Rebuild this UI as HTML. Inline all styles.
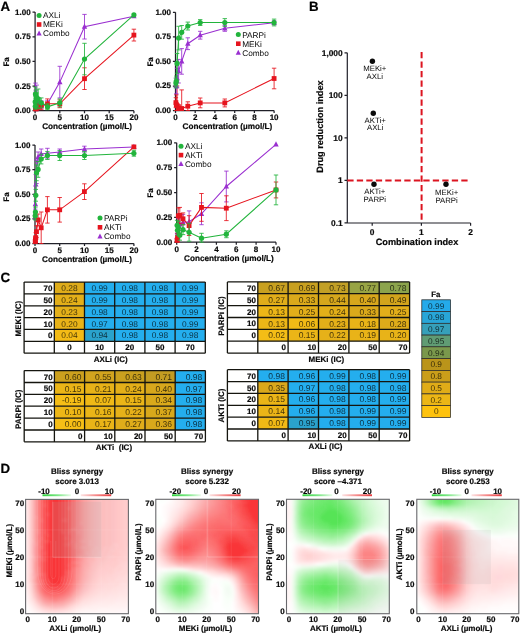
<!DOCTYPE html>
<html lang="en">
<head>
<meta charset="utf-8">
<title>Figure: drug combination synergy</title>
<style>
html,body{margin:0;padding:0;background:#fff;}
body{width:520px;height:635px;overflow:hidden;}
svg{display:block;font-family:"Liberation Sans",Arial,Helvetica,sans-serif;text-rendering:geometricPrecision;filter:blur(0.35px);}
</style>
</head>
<body>
<svg width="520" height="635" viewBox="0 0 520 635" fill="#0a0a0a">
<defs>
<filter id="hblur" x="-10%" y="-10%" width="120%" height="120%"><feGaussianBlur stdDeviation="1.6"/></filter>
<clipPath id="hc1"><rect x="25.6" y="499.4" width="102.8" height="114.3"/></clipPath>
<linearGradient id="cbg1"><stop offset="0" stop-color="#2fd23c"/><stop offset="0.55" stop-color="#7fe888"/><stop offset="1" stop-color="#e8fbe8"/></linearGradient>
<linearGradient id="cbr1"><stop offset="0" stop-color="#fde4e4"/><stop offset="0.5" stop-color="#f58a8a"/><stop offset="1" stop-color="#e83a3e"/></linearGradient>
<clipPath id="hc2"><rect x="155.8" y="499.3" width="102.7" height="114.4"/></clipPath>
<linearGradient id="cbg2"><stop offset="0" stop-color="#2fd23c"/><stop offset="0.55" stop-color="#7fe888"/><stop offset="1" stop-color="#e8fbe8"/></linearGradient>
<linearGradient id="cbr2"><stop offset="0" stop-color="#fde4e4"/><stop offset="0.5" stop-color="#f58a8a"/><stop offset="1" stop-color="#e83a3e"/></linearGradient>
<clipPath id="hc3"><rect x="286.5" y="499.3" width="102.8" height="114.4"/></clipPath>
<linearGradient id="cbg3"><stop offset="0" stop-color="#2fd23c"/><stop offset="0.55" stop-color="#7fe888"/><stop offset="1" stop-color="#e8fbe8"/></linearGradient>
<linearGradient id="cbr3"><stop offset="0" stop-color="#fde4e4"/><stop offset="0.5" stop-color="#f58a8a"/><stop offset="1" stop-color="#e83a3e"/></linearGradient>
<clipPath id="hc4"><rect x="416.8" y="499.3" width="102" height="114.4"/></clipPath>
<linearGradient id="cbg4"><stop offset="0" stop-color="#2fd23c"/><stop offset="0.55" stop-color="#7fe888"/><stop offset="1" stop-color="#e8fbe8"/></linearGradient>
<linearGradient id="cbr4"><stop offset="0" stop-color="#fde4e4"/><stop offset="0.5" stop-color="#f58a8a"/><stop offset="1" stop-color="#e83a3e"/></linearGradient>
</defs>
<rect width="520" height="635" fill="#fff"/>
<g>
<path d="M35.1 12.1V110.7H133.9M35.1 110.7h-2.6M35.1 86.1h-2.6M35.1 61.4h-2.6M35.1 36.8h-2.6M35.1 12.1h-2.6M35.1 110.7v2.6M59.8 110.7v2.6M84.5 110.7v2.6M109.2 110.7v2.6M133.9 110.7v2.6" fill="none" stroke="#202028" stroke-width="1.25"/>
<path d="M35.5 93L35.9 98.9L36.6 100.8L38.2 102.8L41.3 104.8L47.5 103.8L59.8 82.1L84.5 26.7L133.9 16.2" fill="none" stroke="#9a2fd0" stroke-width="1.05"/>
<path d="M35.5 83.1V102.8M33.3 83.1h4.4M33.3 102.8h4.4M35.9 91V106.8M33.7 91h4.4M33.7 106.8h4.4M36.6 85.1V110.7M34.4 85.1h4.4M34.4 110.7h4.4M38.2 97.9V107.7M36 97.9h4.4M36 107.7h4.4M41.3 100.8V108.7M39.1 100.8h4.4M39.1 108.7h4.4M47.5 100.8V106.8M45.2 100.8h4.4M45.2 106.8h4.4M59.8 66.3V97.9M57.6 66.3h4.4M57.6 97.9h4.4M84.5 14.4V39M82.3 14.4h4.4M82.3 39h4.4" fill="none" stroke="#9a2fd0" stroke-width="0.85"/>
<path d="M35.5 89.9L38.2 95.1L32.8 95.1Z" fill="#9a2fd0"/>
<path d="M35.9 95.8L38.6 101L33.2 101Z" fill="#9a2fd0"/>
<path d="M36.6 97.7L39.3 102.9L33.9 102.9Z" fill="#9a2fd0"/>
<path d="M38.2 99.7L40.9 104.9L35.5 104.9Z" fill="#9a2fd0"/>
<path d="M41.3 101.7L44 106.9L38.6 106.9Z" fill="#9a2fd0"/>
<path d="M47.5 100.7L50.2 105.9L44.8 105.9Z" fill="#9a2fd0"/>
<path d="M59.8 79L62.5 84.2L57.1 84.2Z" fill="#9a2fd0"/>
<path d="M84.5 23.6L87.2 28.8L81.8 28.8Z" fill="#9a2fd0"/>
<path d="M133.9 13.1L136.6 18.3L131.2 18.3Z" fill="#9a2fd0"/>
<path d="M35.5 108.7L35.9 107.7L36.6 107.7L38.2 106.8L41.3 105.8L47.5 103.8L59.8 103.8L84.5 78.7L133.9 35.1" fill="none" stroke="#e6141e" stroke-width="1.05"/>
<path d="M35.5 106.8V110.7M33.3 106.8h4.4M33.3 110.7h4.4M35.9 105.8V109.7M33.7 105.8h4.4M33.7 109.7h4.4M36.6 104.8V110.7M34.4 104.8h4.4M34.4 110.7h4.4M38.2 103.8V109.7M36 103.8h4.4M36 109.7h4.4M41.3 101.8V109.7M39.1 101.8h4.4M39.1 109.7h4.4M47.5 98.9V108.7M45.2 98.9h4.4M45.2 108.7h4.4M59.8 99.9V107.7M57.6 99.9h4.4M57.6 107.7h4.4M84.5 67.8V89.5M82.3 67.8h4.4M82.3 89.5h4.4M133.9 29.2V41M131.7 29.2h4.4M131.7 41h4.4" fill="none" stroke="#e6141e" stroke-width="0.85"/>
<rect x="33.1" y="106.3" width="4.8" height="4.8" fill="#e6141e"/>
<rect x="33.5" y="105.3" width="4.8" height="4.8" fill="#e6141e"/>
<rect x="34.2" y="105.3" width="4.8" height="4.8" fill="#e6141e"/>
<rect x="35.8" y="104.4" width="4.8" height="4.8" fill="#e6141e"/>
<rect x="38.9" y="103.4" width="4.8" height="4.8" fill="#e6141e"/>
<rect x="45.1" y="101.4" width="4.8" height="4.8" fill="#e6141e"/>
<rect x="57.4" y="101.4" width="4.8" height="4.8" fill="#e6141e"/>
<rect x="82.1" y="76.3" width="4.8" height="4.8" fill="#e6141e"/>
<rect x="131.5" y="32.7" width="4.8" height="4.8" fill="#e6141e"/>
<path d="M35.2 101.8L35.3 106.3L35.5 93.9L35.9 95.9L36.6 97.9L38.2 98.9L41.3 102.8L47.5 106.8L59.8 102.8L84.5 59L133.9 14.9" fill="none" stroke="#22b43c" stroke-width="1.05"/>
<path d="M35.2 98.9V104.8M33 98.9h4.4M33 104.8h4.4M35.3 103.3V109.2M33.1 103.3h4.4M33.1 109.2h4.4M35.5 87V100.8M33.3 87h4.4M33.3 100.8h4.4M35.9 90V101.8M33.7 90h4.4M33.7 101.8h4.4M36.6 93V102.8M34.4 93h4.4M34.4 102.8h4.4M38.2 89V108.7M36 89h4.4M36 108.7h4.4M41.3 97.9V107.7M39.1 97.9h4.4M39.1 107.7h4.4M47.5 103.8V109.7M45.2 103.8h4.4M45.2 109.7h4.4M59.8 98.9V106.8M57.6 98.9h4.4M57.6 106.8h4.4M84.5 43.3V74.8M82.3 43.3h4.4M82.3 74.8h4.4" fill="none" stroke="#22b43c" stroke-width="0.85"/>
<circle cx="35.2" cy="101.8" r="2.6" fill="#22b43c"/>
<circle cx="35.3" cy="106.3" r="2.6" fill="#22b43c"/>
<circle cx="35.5" cy="93.9" r="2.6" fill="#22b43c"/>
<circle cx="35.9" cy="95.9" r="2.6" fill="#22b43c"/>
<circle cx="36.6" cy="97.9" r="2.6" fill="#22b43c"/>
<circle cx="38.2" cy="98.9" r="2.6" fill="#22b43c"/>
<circle cx="41.3" cy="102.8" r="2.6" fill="#22b43c"/>
<circle cx="47.5" cy="106.8" r="2.6" fill="#22b43c"/>
<circle cx="59.8" cy="102.8" r="2.6" fill="#22b43c"/>
<circle cx="84.5" cy="59" r="2.6" fill="#22b43c"/>
<circle cx="133.9" cy="14.9" r="2.6" fill="#22b43c"/>
<text x="30.6" y="113.2" font-size="8" text-anchor="end" font-weight="bold" stroke="#000" stroke-width="0.18">0.00</text>
<text x="30.6" y="88.5" font-size="8" text-anchor="end" font-weight="bold" stroke="#000" stroke-width="0.18">0.25</text>
<text x="30.6" y="63.9" font-size="8" text-anchor="end" font-weight="bold" stroke="#000" stroke-width="0.18">0.50</text>
<text x="30.6" y="39.2" font-size="8" text-anchor="end" font-weight="bold" stroke="#000" stroke-width="0.18">0.75</text>
<text x="30.6" y="14.6" font-size="8" text-anchor="end" font-weight="bold" stroke="#000" stroke-width="0.18">1.00</text>
<text x="35.1" y="120.3" font-size="8" text-anchor="middle" font-weight="bold" stroke="#000" stroke-width="0.18">0</text>
<text x="59.8" y="120.3" font-size="8" text-anchor="middle" font-weight="bold" stroke="#000" stroke-width="0.18">5</text>
<text x="84.5" y="120.3" font-size="8" text-anchor="middle" font-weight="bold" stroke="#000" stroke-width="0.18">10</text>
<text x="109.2" y="120.3" font-size="8" text-anchor="middle" font-weight="bold" stroke="#000" stroke-width="0.18">15</text>
<text x="133.9" y="120.3" font-size="8" text-anchor="middle" font-weight="bold" stroke="#000" stroke-width="0.18">20</text>
<text x="87.1" y="129.3" font-size="8.2" text-anchor="middle" font-weight="bold" stroke="#000" stroke-width="0.18">Concentration (µmol/L)</text>
<text x="8.8" y="61.9" font-size="8" text-anchor="middle" font-weight="bold" stroke="#000" stroke-width="0.18" transform="rotate(-90 8.8 61.9)">Fa</text>
<circle cx="39.1" cy="15.5" r="2.5" fill="#22b43c"/>
<text x="43" y="18.4" font-size="8.25">AXLi</text>
<rect x="36.8" y="22.2" width="4.6" height="4.6" fill="#e6141e"/>
<text x="43" y="27.4" font-size="8.25">MEKi</text>
<path d="M39.1 30.5L41.7 35.5L36.5 35.5Z" fill="#9a2fd0"/>
<text x="43" y="36.4" font-size="8.25">Combo</text>
</g>
<g>
<path d="M175.5 12.3V110.5H274.1M175.5 110.5h-2.6M175.5 86h-2.6M175.5 61.4h-2.6M175.5 36.8h-2.6M175.5 12.3h-2.6M175.5 110.5v2.6M195.2 110.5v2.6M214.9 110.5v2.6M234.7 110.5v2.6M254.4 110.5v2.6M274.1 110.5v2.6" fill="none" stroke="#202028" stroke-width="1.25"/>
<path d="M175.9 102.6L176.3 104.6L177.1 105.6L178.6 107.6L181.7 108.5L187.8 106.2L200.2 102.9L224.8 102.9L274.1 78.5" fill="none" stroke="#e6141e" stroke-width="1.05"/>
<path d="M175.9 97.7V107.6M173.7 97.7h4.4M173.7 107.6h4.4M176.3 94.8V110.5M174.1 94.8h4.4M174.1 110.5h4.4M177.1 86V110.5M174.9 86h4.4M174.9 110.5h4.4M178.6 104.6V110.5M176.4 104.6h4.4M176.4 110.5h4.4M181.7 89.9V110.5M179.5 89.9h4.4M179.5 110.5h4.4M187.8 101.8V110.5M185.6 101.8h4.4M185.6 110.5h4.4M200.2 98V107.8M198 98h4.4M198 107.8h4.4M224.8 99V106.9M222.6 99h4.4M222.6 106.9h4.4M274.1 68.2V88.8M271.9 68.2h4.4M271.9 88.8h4.4" fill="none" stroke="#e6141e" stroke-width="0.85"/>
<rect x="173.5" y="100.2" width="4.8" height="4.8" fill="#e6141e"/>
<rect x="173.9" y="102.2" width="4.8" height="4.8" fill="#e6141e"/>
<rect x="174.7" y="103.2" width="4.8" height="4.8" fill="#e6141e"/>
<rect x="176.2" y="105.2" width="4.8" height="4.8" fill="#e6141e"/>
<rect x="179.3" y="106.1" width="4.8" height="4.8" fill="#e6141e"/>
<rect x="185.4" y="103.8" width="4.8" height="4.8" fill="#e6141e"/>
<rect x="197.8" y="100.5" width="4.8" height="4.8" fill="#e6141e"/>
<rect x="222.4" y="100.5" width="4.8" height="4.8" fill="#e6141e"/>
<rect x="271.7" y="76.1" width="4.8" height="4.8" fill="#e6141e"/>
<path d="M176.3 86L177.1 78.1L178.6 71.2L181.7 61.4L187.8 43.7L200.2 35.2L224.8 28.3L274.1 22.8" fill="none" stroke="#9a2fd0" stroke-width="1.05"/>
<path d="M176.3 78.1V93.8M174.1 78.1h4.4M174.1 93.8h4.4M177.1 68.3V87.9M174.9 68.3h4.4M174.9 87.9h4.4M178.6 59.4V83M176.4 59.4h4.4M176.4 83h4.4M181.7 48.6V74.2M179.5 48.6h4.4M179.5 74.2h4.4M187.8 37.8V49.6M185.6 37.8h4.4M185.6 49.6h4.4M200.2 31.3V39.1M198 31.3h4.4M198 39.1h4.4M224.8 25.4V31.3M222.6 25.4h4.4M222.6 31.3h4.4M274.1 20.8V24.8M271.9 20.8h4.4M271.9 24.8h4.4" fill="none" stroke="#9a2fd0" stroke-width="0.85"/>
<path d="M176.3 82.8L179 88.1L173.6 88.1Z" fill="#9a2fd0"/>
<path d="M177.1 75L179.8 80.2L174.4 80.2Z" fill="#9a2fd0"/>
<path d="M178.6 68.1L181.3 73.3L175.9 73.3Z" fill="#9a2fd0"/>
<path d="M181.7 58.3L184.4 63.5L179 63.5Z" fill="#9a2fd0"/>
<path d="M187.8 40.6L190.5 45.8L185.1 45.8Z" fill="#9a2fd0"/>
<path d="M200.2 32.1L202.8 37.3L197.5 37.3Z" fill="#9a2fd0"/>
<path d="M224.8 25.2L227.5 30.4L222.1 30.4Z" fill="#9a2fd0"/>
<path d="M274.1 19.7L276.8 24.9L271.4 24.9Z" fill="#9a2fd0"/>
<path d="M175.9 83L176.3 81L177.1 63.4L178.6 38.1L181.7 32.3L187.8 26L200.2 22.5L224.8 22.5L274.1 22.5" fill="none" stroke="#22b43c" stroke-width="1.05"/>
<path d="M175.9 78.1V87.9M173.7 78.1h4.4M173.7 87.9h4.4M176.3 76.1V86M174.1 76.1h4.4M174.1 86h4.4M177.1 53.5V73.2M174.9 53.5h4.4M174.9 73.2h4.4M178.6 26.3V49.9M176.4 26.3h4.4M176.4 49.9h4.4M181.7 25.5V39.2M179.5 25.5h4.4M179.5 39.2h4.4M187.8 22.1V30M185.6 22.1h4.4M185.6 30h4.4M200.2 19.6V25.5M198 19.6h4.4M198 25.5h4.4M224.8 18.6V26.4M222.6 18.6h4.4M222.6 26.4h4.4M274.1 19.1V25.9M271.9 19.1h4.4M271.9 25.9h4.4" fill="none" stroke="#22b43c" stroke-width="0.85"/>
<circle cx="175.9" cy="83" r="2.6" fill="#22b43c"/>
<circle cx="176.3" cy="81" r="2.6" fill="#22b43c"/>
<circle cx="177.1" cy="63.4" r="2.6" fill="#22b43c"/>
<circle cx="178.6" cy="38.1" r="2.6" fill="#22b43c"/>
<circle cx="181.7" cy="32.3" r="2.6" fill="#22b43c"/>
<circle cx="187.8" cy="26" r="2.6" fill="#22b43c"/>
<circle cx="200.2" cy="22.5" r="2.6" fill="#22b43c"/>
<circle cx="224.8" cy="22.5" r="2.6" fill="#22b43c"/>
<circle cx="274.1" cy="22.5" r="2.6" fill="#22b43c"/>
<text x="171" y="113" font-size="8" text-anchor="end" font-weight="bold" stroke="#000" stroke-width="0.18">0.00</text>
<text x="171" y="88.4" font-size="8" text-anchor="end" font-weight="bold" stroke="#000" stroke-width="0.18">0.25</text>
<text x="171" y="63.9" font-size="8" text-anchor="end" font-weight="bold" stroke="#000" stroke-width="0.18">0.50</text>
<text x="171" y="39.3" font-size="8" text-anchor="end" font-weight="bold" stroke="#000" stroke-width="0.18">0.75</text>
<text x="171" y="14.7" font-size="8" text-anchor="end" font-weight="bold" stroke="#000" stroke-width="0.18">1.00</text>
<text x="175.5" y="120.1" font-size="8" text-anchor="middle" font-weight="bold" stroke="#000" stroke-width="0.18">0</text>
<text x="195.2" y="120.1" font-size="8" text-anchor="middle" font-weight="bold" stroke="#000" stroke-width="0.18">2</text>
<text x="214.9" y="120.1" font-size="8" text-anchor="middle" font-weight="bold" stroke="#000" stroke-width="0.18">4</text>
<text x="234.7" y="120.1" font-size="8" text-anchor="middle" font-weight="bold" stroke="#000" stroke-width="0.18">6</text>
<text x="254.4" y="120.1" font-size="8" text-anchor="middle" font-weight="bold" stroke="#000" stroke-width="0.18">8</text>
<text x="274.1" y="120.1" font-size="8" text-anchor="middle" font-weight="bold" stroke="#000" stroke-width="0.18">10</text>
<text x="227.4" y="129.1" font-size="8.2" text-anchor="middle" font-weight="bold" stroke="#000" stroke-width="0.18">Concentration (µmol/L)</text>
<text x="153.4" y="61.9" font-size="8" text-anchor="middle" font-weight="bold" stroke="#000" stroke-width="0.18" transform="rotate(-90 153.4 61.9)">Fa</text>
<circle cx="238.3" cy="34.6" r="2.5" fill="#22b43c"/>
<text x="242.2" y="37.5" font-size="8.25">PARPi</text>
<rect x="236" y="41.4" width="4.6" height="4.6" fill="#e6141e"/>
<text x="242.2" y="46.6" font-size="8.25">MEKi</text>
<path d="M238.3 49.8L240.9 54.8L235.7 54.8Z" fill="#9a2fd0"/>
<text x="242.2" y="55.7" font-size="8.25">Combo</text>
</g>
<g>
<path d="M35 145.1V243.5H133.9M35 243.5h-2.6M35 218.9h-2.6M35 194.3h-2.6M35 169.7h-2.6M35 145.1h-2.6M35 243.5v2.6M59.7 243.5v2.6M84.5 243.5v2.6M109.2 243.5v2.6M133.9 243.5v2.6" fill="none" stroke="#202028" stroke-width="1.25"/>
<path d="M35.2 214L35.4 204.1L35.8 184.5L36.5 171.7L38.1 156.9L41.2 154L47.4 153.3L59.7 152L84.5 149.1L133.9 146.9" fill="none" stroke="#9a2fd0" stroke-width="1.05"/>
<path d="M35.2 209.1V218.9M33 209.1h4.4M33 218.9h4.4M35.4 196.3V212M33.2 196.3h4.4M33.2 212h4.4M35.8 174.6V194.3M33.6 174.6h4.4M33.6 194.3h4.4M36.5 159.9V183.5M34.3 159.9h4.4M34.3 183.5h4.4M38.1 152V161.8M35.9 152h4.4M35.9 161.8h4.4M41.2 149V158.9M39 149h4.4M39 158.9h4.4M47.4 148.3V158.2M45.2 148.3h4.4M45.2 158.2h4.4M59.7 149V154.9M57.5 149h4.4M57.5 154.9h4.4M84.5 146.2V152.1M82.2 146.2h4.4M82.2 152.1h4.4" fill="none" stroke="#9a2fd0" stroke-width="0.85"/>
<path d="M35.2 210.9L37.9 216.1L32.5 216.1Z" fill="#9a2fd0"/>
<path d="M35.4 201L38.1 206.2L32.7 206.2Z" fill="#9a2fd0"/>
<path d="M35.8 181.4L38.5 186.6L33.1 186.6Z" fill="#9a2fd0"/>
<path d="M36.5 168.6L39.2 173.8L33.8 173.8Z" fill="#9a2fd0"/>
<path d="M38.1 153.8L40.8 159L35.4 159Z" fill="#9a2fd0"/>
<path d="M41.2 150.9L43.9 156.1L38.5 156.1Z" fill="#9a2fd0"/>
<path d="M47.4 150.2L50.1 155.4L44.7 155.4Z" fill="#9a2fd0"/>
<path d="M59.7 148.9L62.4 154.1L57 154.1Z" fill="#9a2fd0"/>
<path d="M84.5 146L87.2 151.2L81.8 151.2Z" fill="#9a2fd0"/>
<path d="M133.9 143.8L136.6 149L131.2 149Z" fill="#9a2fd0"/>
<path d="M35.2 241.5L35.4 239.6L35.8 237.6L36.5 231.7L38.1 219.9L41.2 227.8L47.4 209.8L59.7 209.8L84.5 191.6L133.9 146.9" fill="none" stroke="#e6141e" stroke-width="1.05"/>
<path d="M35.2 239.6V243.5M33 239.6h4.4M33 243.5h4.4M35.4 236.6V242.5M33.2 236.6h4.4M33.2 242.5h4.4M35.8 232.7V242.5M33.6 232.7h4.4M33.6 242.5h4.4M36.5 225.8V237.6M34.3 225.8h4.4M34.3 237.6h4.4M38.1 214V225.8M35.9 214h4.4M35.9 225.8h4.4M41.2 212V243.5M39 212h4.4M39 243.5h4.4M47.4 196.6V223.1M45.2 196.6h4.4M45.2 223.1h4.4M59.7 197.5V222.1M57.5 197.5h4.4M57.5 222.1h4.4M84.5 183.8V199.5M82.2 183.8h4.4M82.2 199.5h4.4" fill="none" stroke="#e6141e" stroke-width="0.85"/>
<rect x="32.8" y="239.1" width="4.8" height="4.8" fill="#e6141e"/>
<rect x="33" y="237.2" width="4.8" height="4.8" fill="#e6141e"/>
<rect x="33.4" y="235.2" width="4.8" height="4.8" fill="#e6141e"/>
<rect x="34.1" y="229.3" width="4.8" height="4.8" fill="#e6141e"/>
<rect x="35.7" y="217.5" width="4.8" height="4.8" fill="#e6141e"/>
<rect x="38.8" y="225.4" width="4.8" height="4.8" fill="#e6141e"/>
<rect x="45" y="207.4" width="4.8" height="4.8" fill="#e6141e"/>
<rect x="57.3" y="207.4" width="4.8" height="4.8" fill="#e6141e"/>
<rect x="82" y="189.2" width="4.8" height="4.8" fill="#e6141e"/>
<rect x="131.5" y="144.5" width="4.8" height="4.8" fill="#e6141e"/>
<path d="M35.2 215.9L35.4 212L35.8 195.3L36.5 172.8L38.1 169.4L41.2 159L47.4 155.5L59.7 155.5L84.5 155.5L133.9 153.3" fill="none" stroke="#22b43c" stroke-width="1.05"/>
<path d="M35.2 212V219.9M33 212h4.4M33 219.9h4.4M35.4 207.1V216.9M33.2 207.1h4.4M33.2 216.9h4.4M35.8 189.4V201.2M33.6 189.4h4.4M33.6 201.2h4.4M36.5 165V180.7M34.3 165h4.4M34.3 180.7h4.4M38.1 161.5V177.3M35.9 161.5h4.4M35.9 177.3h4.4M41.2 154.1V163.9M39 154.1h4.4M39 163.9h4.4M47.4 151.6V159.5M45.2 151.6h4.4M45.2 159.5h4.4M59.7 150.6V160.5M57.5 150.6h4.4M57.5 160.5h4.4M84.5 151.6V159.5M82.2 151.6h4.4M82.2 159.5h4.4M133.9 150.3V156.2M131.7 150.3h4.4M131.7 156.2h4.4" fill="none" stroke="#22b43c" stroke-width="0.85"/>
<circle cx="35.2" cy="215.9" r="2.6" fill="#22b43c"/>
<circle cx="35.4" cy="212" r="2.6" fill="#22b43c"/>
<circle cx="35.8" cy="195.3" r="2.6" fill="#22b43c"/>
<circle cx="36.5" cy="172.8" r="2.6" fill="#22b43c"/>
<circle cx="38.1" cy="169.4" r="2.6" fill="#22b43c"/>
<circle cx="41.2" cy="159" r="2.6" fill="#22b43c"/>
<circle cx="47.4" cy="155.5" r="2.6" fill="#22b43c"/>
<circle cx="59.7" cy="155.5" r="2.6" fill="#22b43c"/>
<circle cx="84.5" cy="155.5" r="2.6" fill="#22b43c"/>
<circle cx="133.9" cy="153.3" r="2.6" fill="#22b43c"/>
<text x="30.5" y="245.9" font-size="8" text-anchor="end" font-weight="bold" stroke="#000" stroke-width="0.18">0.00</text>
<text x="30.5" y="221.3" font-size="8" text-anchor="end" font-weight="bold" stroke="#000" stroke-width="0.18">0.25</text>
<text x="30.5" y="196.8" font-size="8" text-anchor="end" font-weight="bold" stroke="#000" stroke-width="0.18">0.50</text>
<text x="30.5" y="172.1" font-size="8" text-anchor="end" font-weight="bold" stroke="#000" stroke-width="0.18">0.75</text>
<text x="30.5" y="147.5" font-size="8" text-anchor="end" font-weight="bold" stroke="#000" stroke-width="0.18">1.00</text>
<text x="35" y="253.1" font-size="8" text-anchor="middle" font-weight="bold" stroke="#000" stroke-width="0.18">0</text>
<text x="59.7" y="253.1" font-size="8" text-anchor="middle" font-weight="bold" stroke="#000" stroke-width="0.18">5</text>
<text x="84.5" y="253.1" font-size="8" text-anchor="middle" font-weight="bold" stroke="#000" stroke-width="0.18">10</text>
<text x="109.2" y="253.1" font-size="8" text-anchor="middle" font-weight="bold" stroke="#000" stroke-width="0.18">15</text>
<text x="133.9" y="253.1" font-size="8" text-anchor="middle" font-weight="bold" stroke="#000" stroke-width="0.18">20</text>
<text x="87" y="262.1" font-size="8.2" text-anchor="middle" font-weight="bold" stroke="#000" stroke-width="0.18">Concentration (µmol/L)</text>
<text x="8.8" y="197" font-size="8" text-anchor="middle" font-weight="bold" stroke="#000" stroke-width="0.18" transform="rotate(-90 8.8 197)">Fa</text>
<circle cx="100" cy="218" r="2.5" fill="#22b43c"/>
<text x="103.9" y="220.9" font-size="8.25">PARPi</text>
<rect x="97.7" y="225" width="4.6" height="4.6" fill="#e6141e"/>
<text x="103.9" y="230.2" font-size="8.25">AKTi</text>
<path d="M100 233.5L102.6 238.5L97.4 238.5Z" fill="#9a2fd0"/>
<text x="103.9" y="239.4" font-size="8.25">Combo</text>
</g>
<g>
<path d="M176.7 142.8V242.2H276M176.7 242.2h-2.6M176.7 217.3h-2.6M176.7 192.5h-2.6M176.7 167.6h-2.6M176.7 142.8h-2.6M176.7 242.2v2.6M196.6 242.2v2.6M216.4 242.2v2.6M236.3 242.2v2.6M256.1 242.2v2.6M276 242.2v2.6" fill="none" stroke="#202028" stroke-width="1.25"/>
<path d="M177.1 237.2L177.5 232.3L178.3 226.3L179.8 224.3L183 222.3L189.1 221.8L201.5 213.8L226.3 186.5L276 144.4" fill="none" stroke="#9a2fd0" stroke-width="1.05"/>
<path d="M177.1 233.3V241.2M174.9 233.3h4.4M174.9 241.2h4.4M177.5 226.3V238.2M175.3 226.3h4.4M175.3 238.2h4.4M178.3 218.3V234.2M176.1 218.3h4.4M176.1 234.2h4.4M179.8 214.4V234.2M177.6 214.4h4.4M177.6 234.2h4.4M183 214.4V230.3M180.8 214.4h4.4M180.8 230.3h4.4M189.1 210.9V232.8M186.9 210.9h4.4M186.9 232.8h4.4M201.5 202.8V224.7M199.3 202.8h4.4M199.3 224.7h4.4M226.3 171.1V201.9M224.2 171.1h4.4M224.2 201.9h4.4" fill="none" stroke="#9a2fd0" stroke-width="0.85"/>
<path d="M177.1 234.1L179.8 239.3L174.4 239.3Z" fill="#9a2fd0"/>
<path d="M177.5 229.2L180.2 234.4L174.8 234.4Z" fill="#9a2fd0"/>
<path d="M178.3 223.2L181 228.4L175.6 228.4Z" fill="#9a2fd0"/>
<path d="M179.8 221.2L182.5 226.4L177.1 226.4Z" fill="#9a2fd0"/>
<path d="M183 219.2L185.7 224.4L180.3 224.4Z" fill="#9a2fd0"/>
<path d="M189.1 218.7L191.8 223.9L186.4 223.9Z" fill="#9a2fd0"/>
<path d="M201.5 210.7L204.2 215.9L198.8 215.9Z" fill="#9a2fd0"/>
<path d="M226.3 183.4L229 188.6L223.7 188.6Z" fill="#9a2fd0"/>
<path d="M276 141.3L278.7 146.5L273.3 146.5Z" fill="#9a2fd0"/>
<path d="M177.1 240.2L177.5 237.2L178.3 215.9L179.8 215.4L183 218.8L189.1 225.6L201.5 207.4L226.3 208.2L276 189.9" fill="none" stroke="#e6141e" stroke-width="1.05"/>
<path d="M177.1 238.2V242.2M174.9 238.2h4.4M174.9 242.2h4.4M177.5 233.3V241.2M175.3 233.3h4.4M175.3 241.2h4.4M178.3 207.9V223.8M176.1 207.9h4.4M176.1 223.8h4.4M179.8 207.4V223.3M177.6 207.4h4.4M177.6 223.3h4.4M183 212.9V224.8M180.8 212.9h4.4M180.8 224.8h4.4M189.1 215.7V235.5M186.9 215.7h4.4M186.9 235.5h4.4M201.5 193.5V221.3M199.3 193.5h4.4M199.3 221.3h4.4M226.3 195.8V220.6M224.2 195.8h4.4M224.2 220.6h4.4M276 182V197.9M273.8 182h4.4M273.8 197.9h4.4" fill="none" stroke="#e6141e" stroke-width="0.85"/>
<rect x="174.7" y="237.8" width="4.8" height="4.8" fill="#e6141e"/>
<rect x="175.1" y="234.8" width="4.8" height="4.8" fill="#e6141e"/>
<rect x="175.9" y="213.5" width="4.8" height="4.8" fill="#e6141e"/>
<rect x="177.4" y="213" width="4.8" height="4.8" fill="#e6141e"/>
<rect x="180.6" y="216.4" width="4.8" height="4.8" fill="#e6141e"/>
<rect x="186.7" y="223.2" width="4.8" height="4.8" fill="#e6141e"/>
<rect x="199.1" y="205" width="4.8" height="4.8" fill="#e6141e"/>
<rect x="223.9" y="205.8" width="4.8" height="4.8" fill="#e6141e"/>
<rect x="273.6" y="187.5" width="4.8" height="4.8" fill="#e6141e"/>
<path d="M177.1 225.3L177.5 230.3L178.3 227.3L179.8 235.2L183 229.7L189.1 232.3L201.5 238.2L226.3 234.2L276 189.9" fill="none" stroke="#22b43c" stroke-width="1.05"/>
<path d="M177.1 220.3V230.3M174.9 220.3h4.4M174.9 230.3h4.4M177.5 225.3V235.2M175.3 225.3h4.4M175.3 235.2h4.4M178.3 221.3V233.3M176.1 221.3h4.4M176.1 233.3h4.4M179.8 230.3V240.2M177.6 230.3h4.4M177.6 240.2h4.4M183 224.7V234.6M180.8 224.7h4.4M180.8 234.6h4.4M189.1 223.3V241.2M186.9 223.3h4.4M186.9 241.2h4.4M201.5 233.3V242.2M199.3 233.3h4.4M199.3 242.2h4.4M226.3 230.8V237.7M224.2 230.8h4.4M224.2 237.7h4.4M276 175V204.8M273.8 175h4.4M273.8 204.8h4.4" fill="none" stroke="#22b43c" stroke-width="0.85"/>
<circle cx="177.1" cy="225.3" r="2.6" fill="#22b43c"/>
<circle cx="177.5" cy="230.3" r="2.6" fill="#22b43c"/>
<circle cx="178.3" cy="227.3" r="2.6" fill="#22b43c"/>
<circle cx="179.8" cy="235.2" r="2.6" fill="#22b43c"/>
<circle cx="183" cy="229.7" r="2.6" fill="#22b43c"/>
<circle cx="189.1" cy="232.3" r="2.6" fill="#22b43c"/>
<circle cx="201.5" cy="238.2" r="2.6" fill="#22b43c"/>
<circle cx="226.3" cy="234.2" r="2.6" fill="#22b43c"/>
<circle cx="276" cy="189.9" r="2.6" fill="#22b43c"/>
<text x="172.2" y="244.6" font-size="8" text-anchor="end" font-weight="bold" stroke="#000" stroke-width="0.18">0.00</text>
<text x="172.2" y="219.8" font-size="8" text-anchor="end" font-weight="bold" stroke="#000" stroke-width="0.18">0.25</text>
<text x="172.2" y="194.9" font-size="8" text-anchor="end" font-weight="bold" stroke="#000" stroke-width="0.18">0.50</text>
<text x="172.2" y="170.1" font-size="8" text-anchor="end" font-weight="bold" stroke="#000" stroke-width="0.18">0.75</text>
<text x="172.2" y="145.2" font-size="8" text-anchor="end" font-weight="bold" stroke="#000" stroke-width="0.18">1.00</text>
<text x="176.7" y="251.8" font-size="8" text-anchor="middle" font-weight="bold" stroke="#000" stroke-width="0.18">0</text>
<text x="196.6" y="251.8" font-size="8" text-anchor="middle" font-weight="bold" stroke="#000" stroke-width="0.18">2</text>
<text x="216.4" y="251.8" font-size="8" text-anchor="middle" font-weight="bold" stroke="#000" stroke-width="0.18">4</text>
<text x="236.3" y="251.8" font-size="8" text-anchor="middle" font-weight="bold" stroke="#000" stroke-width="0.18">6</text>
<text x="256.1" y="251.8" font-size="8" text-anchor="middle" font-weight="bold" stroke="#000" stroke-width="0.18">8</text>
<text x="276" y="251.8" font-size="8" text-anchor="middle" font-weight="bold" stroke="#000" stroke-width="0.18">10</text>
<text x="228.9" y="260.8" font-size="8.2" text-anchor="middle" font-weight="bold" stroke="#000" stroke-width="0.18">Concentration (µmol/L)</text>
<text x="153.4" y="193" font-size="8" text-anchor="middle" font-weight="bold" stroke="#000" stroke-width="0.18" transform="rotate(-90 153.4 193)">Fa</text>
<circle cx="181" cy="146.3" r="2.5" fill="#22b43c"/>
<text x="184.9" y="149.2" font-size="8.25">AXLi</text>
<rect x="178.7" y="152.8" width="4.6" height="4.6" fill="#e6141e"/>
<text x="184.9" y="158" font-size="8.25">AKTi</text>
<path d="M181 160.9L183.6 165.9L178.4 165.9Z" fill="#9a2fd0"/>
<text x="184.9" y="166.8" font-size="8.25">Combo</text>
</g>
<text x="0.6" y="10.8" font-size="13.3" font-weight="bold" stroke="#000" stroke-width="0.18" fill="#000">A</text>
<text x="308.9" y="11.1" font-size="13.3" font-weight="bold" stroke="#000" stroke-width="0.18" fill="#000">B</text>
<text x="0.4" y="282.2" font-size="13.4" font-weight="bold" stroke="#000" stroke-width="0.18" fill="#000">C</text>
<text x="0.6" y="472.5" font-size="13.3" font-weight="bold" stroke="#000" stroke-width="0.18" fill="#000">D</text>
<path d="M347.3 52.8V222.8M347.3 52.8h-2.8M347.3 95.3h-2.8M347.3 137.8h-2.8M347.3 180.3h-2.8M347.3 222.8h-2.8M347.3 223H470.6M372.2 223v2.8M421.4 223v2.8M470.6 223v2.8" fill="none" stroke="#202028" stroke-width="1.2"/>
<text x="342.7" y="55.8" font-size="8.4" text-anchor="end" font-weight="bold" stroke="#000" stroke-width="0.18">1,000</text>
<text x="342.7" y="98.3" font-size="8.4" text-anchor="end" font-weight="bold" stroke="#000" stroke-width="0.18">100</text>
<text x="342.7" y="140.8" font-size="8.4" text-anchor="end" font-weight="bold" stroke="#000" stroke-width="0.18">10</text>
<text x="342.7" y="183.3" font-size="8.4" text-anchor="end" font-weight="bold" stroke="#000" stroke-width="0.18">1</text>
<text x="342.7" y="225.8" font-size="8.4" text-anchor="end" font-weight="bold" stroke="#000" stroke-width="0.18">0.1</text>
<text x="372.2" y="234.6" font-size="8.4" text-anchor="middle" font-weight="bold" stroke="#000" stroke-width="0.18">0</text>
<text x="421.4" y="234.6" font-size="8.4" text-anchor="middle" font-weight="bold" stroke="#000" stroke-width="0.18">1</text>
<text x="470.6" y="234.6" font-size="8.4" text-anchor="middle" font-weight="bold" stroke="#000" stroke-width="0.18">2</text>
<text x="417" y="244.8" font-size="9.2" text-anchor="middle" font-weight="bold" stroke="#000" stroke-width="0.18">Combination index</text>
<text x="322.8" y="126.5" font-size="9.2" text-anchor="middle" font-weight="bold" stroke="#000" stroke-width="0.18" transform="rotate(-90 322.8 126.5)">Drug reduction index</text>
<path d="M347.3 180.6H470.5M421.6 52V221.5" fill="none" stroke="#dc1420" stroke-width="2" stroke-dasharray="6.3 3.2"/>
<circle cx="372.4" cy="61.3" r="2.7" fill="#0a0a0a"/>
<text x="374.8" y="71.2" font-size="7.8" text-anchor="middle">MEKi+</text>
<text x="374.8" y="78.9" font-size="7.8" text-anchor="middle">AXLi</text>
<circle cx="373.3" cy="113.2" r="2.7" fill="#0a0a0a"/>
<text x="375.2" y="122.7" font-size="7.8" text-anchor="middle">AKTi+</text>
<text x="375.2" y="130.4" font-size="7.8" text-anchor="middle">AXLi</text>
<circle cx="374" cy="184.2" r="2.7" fill="#0a0a0a"/>
<text x="374.8" y="193.8" font-size="7.8" text-anchor="middle">AKTi+</text>
<text x="374.8" y="201.5" font-size="7.8" text-anchor="middle">PARPi</text>
<circle cx="446" cy="184.2" r="2.7" fill="#0a0a0a"/>
<text x="446.6" y="195.2" font-size="7.8" text-anchor="middle">MEKi+</text>
<text x="446.6" y="202.6" font-size="7.8" text-anchor="middle">PARPi</text>
<g>
<rect x="24.1" y="282.1" width="181.2" height="71.1" fill="#fff"/>
<rect x="54.3" y="282.1" width="30.2" height="11.8" fill="#deac1a"/>
<rect x="84.5" y="282.1" width="30.2" height="11.8" fill="#24aeee"/>
<rect x="114.7" y="282.1" width="30.2" height="11.8" fill="#24aeee"/>
<rect x="144.9" y="282.1" width="30.2" height="11.8" fill="#24aeee"/>
<rect x="175.1" y="282.1" width="30.2" height="11.8" fill="#24aeee"/>
<rect x="54.3" y="293.9" width="30.2" height="11.8" fill="#e3af19"/>
<rect x="84.5" y="293.9" width="30.2" height="11.8" fill="#24aeee"/>
<rect x="114.7" y="293.9" width="30.2" height="11.8" fill="#24aeee"/>
<rect x="144.9" y="293.9" width="30.2" height="11.8" fill="#24aeee"/>
<rect x="175.1" y="293.9" width="30.2" height="11.8" fill="#24aeee"/>
<rect x="54.3" y="305.8" width="30.2" height="11.8" fill="#e4b019"/>
<rect x="84.5" y="305.8" width="30.2" height="11.8" fill="#24aeee"/>
<rect x="114.7" y="305.8" width="30.2" height="11.8" fill="#24aeee"/>
<rect x="144.9" y="305.8" width="30.2" height="11.8" fill="#24aeee"/>
<rect x="175.1" y="305.8" width="30.2" height="11.8" fill="#24aeee"/>
<rect x="54.3" y="317.6" width="30.2" height="11.8" fill="#e8b318"/>
<rect x="84.5" y="317.6" width="30.2" height="11.8" fill="#24aeee"/>
<rect x="114.7" y="317.6" width="30.2" height="11.8" fill="#24aeee"/>
<rect x="144.9" y="317.6" width="30.2" height="11.8" fill="#24aeee"/>
<rect x="175.1" y="317.6" width="30.2" height="11.8" fill="#24aeee"/>
<rect x="54.3" y="329.4" width="30.2" height="11.8" fill="#f3bb16"/>
<rect x="84.5" y="329.4" width="30.2" height="11.8" fill="#2aa2cc"/>
<rect x="114.7" y="329.4" width="30.2" height="11.8" fill="#24aeee"/>
<rect x="144.9" y="329.4" width="30.2" height="11.8" fill="#24aeee"/>
<rect x="175.1" y="329.4" width="30.2" height="11.8" fill="#24aeee"/>
<path d="M24.1 282.1v71.1M54.3 282.1v71.1M84.5 282.1v71.1M114.7 282.1v71.1M144.9 282.1v71.1M175.1 282.1v71.1M205.3 282.1v71.1M24.1 282.1h181.2M24.1 293.9h181.2M24.1 305.8h181.2M24.1 317.6h181.2M24.1 329.4h181.2M24.1 341.3h181.2M24.1 353.1h181.2" fill="none" stroke="#15150f" stroke-width="1.3"/>
<text x="52.5" y="290.9" font-size="8" text-anchor="end" font-weight="bold" stroke="#000" stroke-width="0.18">70</text>
<text x="69.4" y="291.1" font-size="8.4" text-anchor="middle" fill="#000" fill-opacity="0.72">0.28</text>
<text x="99.6" y="291.1" font-size="8.4" text-anchor="middle" fill="#000" fill-opacity="0.72">0.99</text>
<text x="129.8" y="291.1" font-size="8.4" text-anchor="middle" fill="#000" fill-opacity="0.72">0.98</text>
<text x="160" y="291.1" font-size="8.4" text-anchor="middle" fill="#000" fill-opacity="0.72">0.98</text>
<text x="190.2" y="291.1" font-size="8.4" text-anchor="middle" fill="#000" fill-opacity="0.72">0.99</text>
<text x="52.5" y="302.8" font-size="8" text-anchor="end" font-weight="bold" stroke="#000" stroke-width="0.18">50</text>
<text x="69.4" y="302.9" font-size="8.4" text-anchor="middle" fill="#000" fill-opacity="0.72">0.24</text>
<text x="99.6" y="302.9" font-size="8.4" text-anchor="middle" fill="#000" fill-opacity="0.72">0.99</text>
<text x="129.8" y="302.9" font-size="8.4" text-anchor="middle" fill="#000" fill-opacity="0.72">0.98</text>
<text x="160" y="302.9" font-size="8.4" text-anchor="middle" fill="#000" fill-opacity="0.72">0.98</text>
<text x="190.2" y="302.9" font-size="8.4" text-anchor="middle" fill="#000" fill-opacity="0.72">0.99</text>
<text x="52.5" y="314.6" font-size="8" text-anchor="end" font-weight="bold" stroke="#000" stroke-width="0.18">20</text>
<text x="69.4" y="314.8" font-size="8.4" text-anchor="middle" fill="#000" fill-opacity="0.72">0.23</text>
<text x="99.6" y="314.8" font-size="8.4" text-anchor="middle" fill="#000" fill-opacity="0.72">0.98</text>
<text x="129.8" y="314.8" font-size="8.4" text-anchor="middle" fill="#000" fill-opacity="0.72">0.98</text>
<text x="160" y="314.8" font-size="8.4" text-anchor="middle" fill="#000" fill-opacity="0.72">0.98</text>
<text x="190.2" y="314.8" font-size="8.4" text-anchor="middle" fill="#000" fill-opacity="0.72">0.99</text>
<text x="52.5" y="326.5" font-size="8" text-anchor="end" font-weight="bold" stroke="#000" stroke-width="0.18">10</text>
<text x="69.4" y="326.6" font-size="8.4" text-anchor="middle" fill="#000" fill-opacity="0.72">0.20</text>
<text x="99.6" y="326.6" font-size="8.4" text-anchor="middle" fill="#000" fill-opacity="0.72">0.97</text>
<text x="129.8" y="326.6" font-size="8.4" text-anchor="middle" fill="#000" fill-opacity="0.72">0.98</text>
<text x="160" y="326.6" font-size="8.4" text-anchor="middle" fill="#000" fill-opacity="0.72">0.98</text>
<text x="190.2" y="326.6" font-size="8.4" text-anchor="middle" fill="#000" fill-opacity="0.72">0.99</text>
<text x="52.5" y="338.3" font-size="8" text-anchor="end" font-weight="bold" stroke="#000" stroke-width="0.18">0</text>
<text x="69.4" y="338.4" font-size="8.4" text-anchor="middle" fill="#000" fill-opacity="0.72">0.04</text>
<text x="99.6" y="338.4" font-size="8.4" text-anchor="middle" fill="#000" fill-opacity="0.72">0.94</text>
<text x="129.8" y="338.4" font-size="8.4" text-anchor="middle" fill="#000" fill-opacity="0.72">0.98</text>
<text x="160" y="338.4" font-size="8.4" text-anchor="middle" fill="#000" fill-opacity="0.72">0.98</text>
<text x="190.2" y="338.4" font-size="8.4" text-anchor="middle" fill="#000" fill-opacity="0.72">0.98</text>
<text x="69.4" y="350.3" font-size="8" text-anchor="middle" font-weight="bold" stroke="#000" stroke-width="0.18">0</text>
<text x="99.6" y="350.3" font-size="8" text-anchor="middle" font-weight="bold" stroke="#000" stroke-width="0.18">10</text>
<text x="129.8" y="350.3" font-size="8" text-anchor="middle" font-weight="bold" stroke="#000" stroke-width="0.18">20</text>
<text x="160" y="350.3" font-size="8" text-anchor="middle" font-weight="bold" stroke="#000" stroke-width="0.18">50</text>
<text x="190.2" y="350.3" font-size="8" text-anchor="middle" font-weight="bold" stroke="#000" stroke-width="0.18">70</text>
<text x="20.7" y="318.6" font-size="8" text-anchor="middle" font-weight="bold" stroke="#000" stroke-width="0.18" transform="rotate(-90 20.7 318.6)">MEKi (IC)</text>
<text x="110.7" y="361.5" font-size="8" text-anchor="middle" font-weight="bold" stroke="#000" stroke-width="0.18">AXLi (IC)</text>
</g>
<g>
<rect x="227.4" y="281.9" width="182.2" height="71.2" fill="#fff"/>
<rect x="257.8" y="281.9" width="30.4" height="11.9" fill="#c8a020"/>
<rect x="288.1" y="281.9" width="30.4" height="11.9" fill="#c8a020"/>
<rect x="318.5" y="281.9" width="30.4" height="11.9" fill="#c2a026"/>
<rect x="348.9" y="281.9" width="30.4" height="11.9" fill="#98a444"/>
<rect x="379.2" y="281.9" width="30.4" height="11.9" fill="#8ca44c"/>
<rect x="257.8" y="293.7" width="30.4" height="11.9" fill="#e0ad1a"/>
<rect x="288.1" y="293.7" width="30.4" height="11.9" fill="#daa91b"/>
<rect x="318.5" y="293.7" width="30.4" height="11.9" fill="#d5a61c"/>
<rect x="348.9" y="293.7" width="30.4" height="11.9" fill="#d7a71c"/>
<rect x="379.2" y="293.7" width="30.4" height="11.9" fill="#d2a41c"/>
<rect x="257.8" y="305.6" width="30.4" height="11.9" fill="#ecb617"/>
<rect x="288.1" y="305.6" width="30.4" height="11.9" fill="#e2ae1a"/>
<rect x="318.5" y="305.6" width="30.4" height="11.9" fill="#e3af19"/>
<rect x="348.9" y="305.6" width="30.4" height="11.9" fill="#daa91b"/>
<rect x="379.2" y="305.6" width="30.4" height="11.9" fill="#e2ae1a"/>
<rect x="257.8" y="317.5" width="30.4" height="11.9" fill="#ecb617"/>
<rect x="288.1" y="317.5" width="30.4" height="11.9" fill="#f1ba16"/>
<rect x="318.5" y="317.5" width="30.4" height="11.9" fill="#e4b019"/>
<rect x="348.9" y="317.5" width="30.4" height="11.9" fill="#e9b418"/>
<rect x="379.2" y="317.5" width="30.4" height="11.9" fill="#deac1a"/>
<rect x="257.8" y="329.3" width="30.4" height="11.9" fill="#f4bd16"/>
<rect x="288.1" y="329.3" width="30.4" height="11.9" fill="#ebb517"/>
<rect x="318.5" y="329.3" width="30.4" height="11.9" fill="#e6b119"/>
<rect x="348.9" y="329.3" width="30.4" height="11.9" fill="#e9b318"/>
<rect x="379.2" y="329.3" width="30.4" height="11.9" fill="#e8b318"/>
<path d="M227.4 281.9v71.2M257.8 281.9v71.2M288.1 281.9v71.2M318.5 281.9v71.2M348.9 281.9v71.2M379.2 281.9v71.2M409.6 281.9v71.2M227.4 281.9h182.2M227.4 293.7h182.2M227.4 305.6h182.2M227.4 317.5h182.2M227.4 329.3h182.2M227.4 341.2h182.2M227.4 353.1h182.2" fill="none" stroke="#15150f" stroke-width="1.3"/>
<text x="256" y="290.8" font-size="8" text-anchor="end" font-weight="bold" stroke="#000" stroke-width="0.18">70</text>
<text x="284.9" y="290.9" font-size="8.5" text-anchor="end" fill="#000" fill-opacity="0.72">0.67</text>
<text x="315.3" y="290.9" font-size="8.5" text-anchor="end" fill="#000" fill-opacity="0.72">0.69</text>
<text x="345.7" y="290.9" font-size="8.5" text-anchor="end" fill="#000" fill-opacity="0.72">0.73</text>
<text x="376.1" y="290.9" font-size="8.5" text-anchor="end" fill="#000" fill-opacity="0.72">0.77</text>
<text x="406.4" y="290.9" font-size="8.5" text-anchor="end" fill="#000" fill-opacity="0.72">0.78</text>
<text x="256" y="302.6" font-size="8" text-anchor="end" font-weight="bold" stroke="#000" stroke-width="0.18">50</text>
<text x="284.9" y="302.7" font-size="8.5" text-anchor="end" fill="#000" fill-opacity="0.72">0.27</text>
<text x="315.3" y="302.7" font-size="8.5" text-anchor="end" fill="#000" fill-opacity="0.72">0.33</text>
<text x="345.7" y="302.7" font-size="8.5" text-anchor="end" fill="#000" fill-opacity="0.72">0.44</text>
<text x="376.1" y="302.7" font-size="8.5" text-anchor="end" fill="#000" fill-opacity="0.72">0.40</text>
<text x="406.4" y="302.7" font-size="8.5" text-anchor="end" fill="#000" fill-opacity="0.72">0.49</text>
<text x="256" y="314.5" font-size="8" text-anchor="end" font-weight="bold" stroke="#000" stroke-width="0.18">20</text>
<text x="284.9" y="314.6" font-size="8.5" text-anchor="end" fill="#000" fill-opacity="0.72">0.13</text>
<text x="315.3" y="314.6" font-size="8.5" text-anchor="end" fill="#000" fill-opacity="0.72">0.25</text>
<text x="345.7" y="314.6" font-size="8.5" text-anchor="end" fill="#000" fill-opacity="0.72">0.24</text>
<text x="376.1" y="314.6" font-size="8.5" text-anchor="end" fill="#000" fill-opacity="0.72">0.33</text>
<text x="406.4" y="314.6" font-size="8.5" text-anchor="end" fill="#000" fill-opacity="0.72">0.25</text>
<text x="256" y="326.4" font-size="8" text-anchor="end" font-weight="bold" stroke="#000" stroke-width="0.18">10</text>
<text x="284.9" y="326.5" font-size="8.5" text-anchor="end" fill="#000" fill-opacity="0.72">0.13</text>
<text x="315.3" y="326.5" font-size="8.5" text-anchor="end" fill="#000" fill-opacity="0.72">0.06</text>
<text x="345.7" y="326.5" font-size="8.5" text-anchor="end" fill="#000" fill-opacity="0.72">0.23</text>
<text x="376.1" y="326.5" font-size="8.5" text-anchor="end" fill="#000" fill-opacity="0.72">0.18</text>
<text x="406.4" y="326.5" font-size="8.5" text-anchor="end" fill="#000" fill-opacity="0.72">0.28</text>
<text x="256" y="338.2" font-size="8" text-anchor="end" font-weight="bold" stroke="#000" stroke-width="0.18">0</text>
<text x="284.9" y="338.3" font-size="8.5" text-anchor="end" fill="#000" fill-opacity="0.72">0.02</text>
<text x="315.3" y="338.3" font-size="8.5" text-anchor="end" fill="#000" fill-opacity="0.72">0.15</text>
<text x="345.7" y="338.3" font-size="8.5" text-anchor="end" fill="#000" fill-opacity="0.72">0.22</text>
<text x="376.1" y="338.3" font-size="8.5" text-anchor="end" fill="#000" fill-opacity="0.72">0.19</text>
<text x="406.4" y="338.3" font-size="8.5" text-anchor="end" fill="#000" fill-opacity="0.72">0.20</text>
<text x="285.9" y="350.2" font-size="8" text-anchor="end" font-weight="bold" stroke="#000" stroke-width="0.18">0</text>
<text x="316.3" y="350.2" font-size="8" text-anchor="end" font-weight="bold" stroke="#000" stroke-width="0.18">10</text>
<text x="346.7" y="350.2" font-size="8" text-anchor="end" font-weight="bold" stroke="#000" stroke-width="0.18">20</text>
<text x="377.1" y="350.2" font-size="8" text-anchor="end" font-weight="bold" stroke="#000" stroke-width="0.18">50</text>
<text x="407.4" y="350.2" font-size="8" text-anchor="end" font-weight="bold" stroke="#000" stroke-width="0.18">70</text>
<text x="224" y="316.1" font-size="8" text-anchor="middle" font-weight="bold" stroke="#000" stroke-width="0.18" transform="rotate(-90 224 316.1)">PARPi (IC)</text>
<text x="326.3" y="361.5" font-size="8" text-anchor="middle" font-weight="bold" stroke="#000" stroke-width="0.18">MEKi (IC)</text>
</g>
<g>
<rect x="24.2" y="370.6" width="181.2" height="71.2" fill="#fff"/>
<rect x="54.4" y="370.6" width="30.2" height="11.9" fill="#cca01e"/>
<rect x="84.6" y="370.6" width="30.2" height="11.9" fill="#d2a41e"/>
<rect x="114.8" y="370.6" width="30.2" height="11.9" fill="#caa01e"/>
<rect x="145" y="370.6" width="30.2" height="11.9" fill="#c29c22"/>
<rect x="175.2" y="370.6" width="30.2" height="11.9" fill="#24aeee"/>
<rect x="54.4" y="382.5" width="30.2" height="11.9" fill="#ebb517"/>
<rect x="84.6" y="382.5" width="30.2" height="11.9" fill="#e7b218"/>
<rect x="114.8" y="382.5" width="30.2" height="11.9" fill="#e3af19"/>
<rect x="145" y="382.5" width="30.2" height="11.9" fill="#d7a71c"/>
<rect x="175.2" y="382.5" width="30.2" height="11.9" fill="#24aeee"/>
<rect x="54.4" y="394.3" width="30.2" height="11.9" fill="#f6be16"/>
<rect x="84.6" y="394.3" width="30.2" height="11.9" fill="#f0b916"/>
<rect x="114.8" y="394.3" width="30.2" height="11.9" fill="#ebb517"/>
<rect x="145" y="394.3" width="30.2" height="11.9" fill="#daa91b"/>
<rect x="175.2" y="394.3" width="30.2" height="11.9" fill="#24aeee"/>
<rect x="54.4" y="406.2" width="30.2" height="11.9" fill="#eeb716"/>
<rect x="84.6" y="406.2" width="30.2" height="11.9" fill="#eab517"/>
<rect x="114.8" y="406.2" width="30.2" height="11.9" fill="#e6b119"/>
<rect x="145" y="406.2" width="30.2" height="11.9" fill="#d8a81b"/>
<rect x="175.2" y="406.2" width="30.2" height="11.9" fill="#24aeee"/>
<rect x="54.4" y="418.1" width="30.2" height="11.9" fill="#f6be16"/>
<rect x="84.6" y="418.1" width="30.2" height="11.9" fill="#eab417"/>
<rect x="114.8" y="418.1" width="30.2" height="11.9" fill="#e0ad1a"/>
<rect x="145" y="418.1" width="30.2" height="11.9" fill="#d9a81b"/>
<rect x="175.2" y="418.1" width="30.2" height="11.9" fill="#24aeee"/>
<path d="M24.2 370.6v71.2M54.4 370.6v71.2M84.6 370.6v71.2M114.8 370.6v71.2M145 370.6v71.2M175.2 370.6v71.2M205.4 370.6v71.2M24.2 370.6h181.2M24.2 382.5h181.2M24.2 394.3h181.2M24.2 406.2h181.2M24.2 418.1h181.2M24.2 430h181.2M24.2 441.8h181.2" fill="none" stroke="#15150f" stroke-width="1.3"/>
<text x="52.6" y="379.5" font-size="8" text-anchor="end" font-weight="bold" stroke="#000" stroke-width="0.18">70</text>
<text x="81.4" y="379.6" font-size="8.5" text-anchor="end" fill="#000" fill-opacity="0.72">0.60</text>
<text x="111.6" y="379.6" font-size="8.5" text-anchor="end" fill="#000" fill-opacity="0.72">0.55</text>
<text x="141.8" y="379.6" font-size="8.5" text-anchor="end" fill="#000" fill-opacity="0.72">0.63</text>
<text x="172" y="379.6" font-size="8.5" text-anchor="end" fill="#000" fill-opacity="0.72">0.71</text>
<text x="202.2" y="379.6" font-size="8.5" text-anchor="end" fill="#000" fill-opacity="0.72">0.98</text>
<text x="52.6" y="391.4" font-size="8" text-anchor="end" font-weight="bold" stroke="#000" stroke-width="0.18">50</text>
<text x="81.4" y="391.5" font-size="8.5" text-anchor="end" fill="#000" fill-opacity="0.72">0.15</text>
<text x="111.6" y="391.5" font-size="8.5" text-anchor="end" fill="#000" fill-opacity="0.72">0.21</text>
<text x="141.8" y="391.5" font-size="8.5" text-anchor="end" fill="#000" fill-opacity="0.72">0.24</text>
<text x="172" y="391.5" font-size="8.5" text-anchor="end" fill="#000" fill-opacity="0.72">0.40</text>
<text x="202.2" y="391.5" font-size="8.5" text-anchor="end" fill="#000" fill-opacity="0.72">0.97</text>
<text x="52.6" y="403.2" font-size="8" text-anchor="end" font-weight="bold" stroke="#000" stroke-width="0.18">20</text>
<text x="81.4" y="403.3" font-size="8.5" text-anchor="end" fill="#000" fill-opacity="0.72">-0.19</text>
<text x="111.6" y="403.3" font-size="8.5" text-anchor="end" fill="#000" fill-opacity="0.72">0.07</text>
<text x="141.8" y="403.3" font-size="8.5" text-anchor="end" fill="#000" fill-opacity="0.72">0.15</text>
<text x="172" y="403.3" font-size="8.5" text-anchor="end" fill="#000" fill-opacity="0.72">0.34</text>
<text x="202.2" y="403.3" font-size="8.5" text-anchor="end" fill="#000" fill-opacity="0.72">0.98</text>
<text x="52.6" y="415.1" font-size="8" text-anchor="end" font-weight="bold" stroke="#000" stroke-width="0.18">10</text>
<text x="81.4" y="415.2" font-size="8.5" text-anchor="end" fill="#000" fill-opacity="0.72">0.10</text>
<text x="111.6" y="415.2" font-size="8.5" text-anchor="end" fill="#000" fill-opacity="0.72">0.16</text>
<text x="141.8" y="415.2" font-size="8.5" text-anchor="end" fill="#000" fill-opacity="0.72">0.22</text>
<text x="172" y="415.2" font-size="8.5" text-anchor="end" fill="#000" fill-opacity="0.72">0.37</text>
<text x="202.2" y="415.2" font-size="8.5" text-anchor="end" fill="#000" fill-opacity="0.72">0.98</text>
<text x="52.6" y="427" font-size="8" text-anchor="end" font-weight="bold" stroke="#000" stroke-width="0.18">0</text>
<text x="81.4" y="427.1" font-size="8.5" text-anchor="end" fill="#000" fill-opacity="0.72">0.00</text>
<text x="111.6" y="427.1" font-size="8.5" text-anchor="end" fill="#000" fill-opacity="0.72">0.17</text>
<text x="141.8" y="427.1" font-size="8.5" text-anchor="end" fill="#000" fill-opacity="0.72">0.27</text>
<text x="172" y="427.1" font-size="8.5" text-anchor="end" fill="#000" fill-opacity="0.72">0.36</text>
<text x="202.2" y="427.1" font-size="8.5" text-anchor="end" fill="#000" fill-opacity="0.72">0.98</text>
<text x="82.4" y="439" font-size="8" text-anchor="end" font-weight="bold" stroke="#000" stroke-width="0.18">0</text>
<text x="112.6" y="439" font-size="8" text-anchor="end" font-weight="bold" stroke="#000" stroke-width="0.18">10</text>
<text x="142.8" y="439" font-size="8" text-anchor="end" font-weight="bold" stroke="#000" stroke-width="0.18">20</text>
<text x="173" y="439" font-size="8" text-anchor="end" font-weight="bold" stroke="#000" stroke-width="0.18">50</text>
<text x="203.2" y="439" font-size="8" text-anchor="end" font-weight="bold" stroke="#000" stroke-width="0.18">70</text>
<text x="20.8" y="409.2" font-size="8" text-anchor="middle" font-weight="bold" stroke="#000" stroke-width="0.18" transform="rotate(-90 20.8 409.2)">PARPi (IC)</text>
<text x="113.9" y="450.2" font-size="8" text-anchor="middle" font-weight="bold" stroke="#000" stroke-width="0.18">AKTi  (IC)</text>
</g>
<g>
<rect x="227.4" y="369.7" width="182.2" height="71.2" fill="#fff"/>
<rect x="257.8" y="369.7" width="30.4" height="11.9" fill="#24aeee"/>
<rect x="288.1" y="369.7" width="30.4" height="11.9" fill="#24aeee"/>
<rect x="318.5" y="369.7" width="30.4" height="11.9" fill="#24aeee"/>
<rect x="348.9" y="369.7" width="30.4" height="11.9" fill="#24aeee"/>
<rect x="379.2" y="369.7" width="30.4" height="11.9" fill="#24aeee"/>
<rect x="257.8" y="381.6" width="30.4" height="11.9" fill="#daa81b"/>
<rect x="288.1" y="381.6" width="30.4" height="11.9" fill="#24aeee"/>
<rect x="318.5" y="381.6" width="30.4" height="11.9" fill="#24aeee"/>
<rect x="348.9" y="381.6" width="30.4" height="11.9" fill="#24aeee"/>
<rect x="379.2" y="381.6" width="30.4" height="11.9" fill="#24aeee"/>
<rect x="257.8" y="393.4" width="30.4" height="11.9" fill="#ebb517"/>
<rect x="288.1" y="393.4" width="30.4" height="11.9" fill="#24aeee"/>
<rect x="318.5" y="393.4" width="30.4" height="11.9" fill="#24aeee"/>
<rect x="348.9" y="393.4" width="30.4" height="11.9" fill="#24aeee"/>
<rect x="379.2" y="393.4" width="30.4" height="11.9" fill="#24aeee"/>
<rect x="257.8" y="405.3" width="30.4" height="11.9" fill="#ecb517"/>
<rect x="288.1" y="405.3" width="30.4" height="11.9" fill="#24aeee"/>
<rect x="318.5" y="405.3" width="30.4" height="11.9" fill="#24aeee"/>
<rect x="348.9" y="405.3" width="30.4" height="11.9" fill="#24aeee"/>
<rect x="379.2" y="405.3" width="30.4" height="11.9" fill="#24aeee"/>
<rect x="257.8" y="417.2" width="30.4" height="11.9" fill="#f0b916"/>
<rect x="288.1" y="417.2" width="30.4" height="11.9" fill="#2aa2cc"/>
<rect x="318.5" y="417.2" width="30.4" height="11.9" fill="#24aeee"/>
<rect x="348.9" y="417.2" width="30.4" height="11.9" fill="#24aeee"/>
<rect x="379.2" y="417.2" width="30.4" height="11.9" fill="#24aeee"/>
<path d="M227.4 369.7v71.2M257.8 369.7v71.2M288.1 369.7v71.2M318.5 369.7v71.2M348.9 369.7v71.2M379.2 369.7v71.2M409.6 369.7v71.2M227.4 369.7h182.2M227.4 381.6h182.2M227.4 393.4h182.2M227.4 405.3h182.2M227.4 417.2h182.2M227.4 429h182.2M227.4 440.9h182.2" fill="none" stroke="#15150f" stroke-width="1.3"/>
<text x="256" y="378.6" font-size="8" text-anchor="end" font-weight="bold" stroke="#000" stroke-width="0.18">70</text>
<text x="284.9" y="378.7" font-size="8.5" text-anchor="end" fill="#000" fill-opacity="0.72">0.98</text>
<text x="315.3" y="378.7" font-size="8.5" text-anchor="end" fill="#000" fill-opacity="0.72">0.96</text>
<text x="345.7" y="378.7" font-size="8.5" text-anchor="end" fill="#000" fill-opacity="0.72">0.99</text>
<text x="376.1" y="378.7" font-size="8.5" text-anchor="end" fill="#000" fill-opacity="0.72">0.98</text>
<text x="406.4" y="378.7" font-size="8.5" text-anchor="end" fill="#000" fill-opacity="0.72">0.99</text>
<text x="256" y="390.5" font-size="8" text-anchor="end" font-weight="bold" stroke="#000" stroke-width="0.18">50</text>
<text x="284.9" y="390.6" font-size="8.5" text-anchor="end" fill="#000" fill-opacity="0.72">0.35</text>
<text x="315.3" y="390.6" font-size="8.5" text-anchor="end" fill="#000" fill-opacity="0.72">0.97</text>
<text x="345.7" y="390.6" font-size="8.5" text-anchor="end" fill="#000" fill-opacity="0.72">0.98</text>
<text x="376.1" y="390.6" font-size="8.5" text-anchor="end" fill="#000" fill-opacity="0.72">0.98</text>
<text x="406.4" y="390.6" font-size="8.5" text-anchor="end" fill="#000" fill-opacity="0.72">0.98</text>
<text x="256" y="402.3" font-size="8" text-anchor="end" font-weight="bold" stroke="#000" stroke-width="0.18">20</text>
<text x="284.9" y="402.4" font-size="8.5" text-anchor="end" fill="#000" fill-opacity="0.72">0.15</text>
<text x="315.3" y="402.4" font-size="8.5" text-anchor="end" fill="#000" fill-opacity="0.72">0.96</text>
<text x="345.7" y="402.4" font-size="8.5" text-anchor="end" fill="#000" fill-opacity="0.72">0.98</text>
<text x="376.1" y="402.4" font-size="8.5" text-anchor="end" fill="#000" fill-opacity="0.72">0.98</text>
<text x="406.4" y="402.4" font-size="8.5" text-anchor="end" fill="#000" fill-opacity="0.72">0.99</text>
<text x="256" y="414.2" font-size="8" text-anchor="end" font-weight="bold" stroke="#000" stroke-width="0.18">10</text>
<text x="284.9" y="414.3" font-size="8.5" text-anchor="end" fill="#000" fill-opacity="0.72">0.14</text>
<text x="315.3" y="414.3" font-size="8.5" text-anchor="end" fill="#000" fill-opacity="0.72">0.96</text>
<text x="345.7" y="414.3" font-size="8.5" text-anchor="end" fill="#000" fill-opacity="0.72">0.98</text>
<text x="376.1" y="414.3" font-size="8.5" text-anchor="end" fill="#000" fill-opacity="0.72">0.99</text>
<text x="406.4" y="414.3" font-size="8.5" text-anchor="end" fill="#000" fill-opacity="0.72">0.99</text>
<text x="256" y="426.1" font-size="8" text-anchor="end" font-weight="bold" stroke="#000" stroke-width="0.18">0</text>
<text x="284.9" y="426.2" font-size="8.5" text-anchor="end" fill="#000" fill-opacity="0.72">0.07</text>
<text x="315.3" y="426.2" font-size="8.5" text-anchor="end" fill="#000" fill-opacity="0.72">0.95</text>
<text x="345.7" y="426.2" font-size="8.5" text-anchor="end" fill="#000" fill-opacity="0.72">0.98</text>
<text x="376.1" y="426.2" font-size="8.5" text-anchor="end" fill="#000" fill-opacity="0.72">0.99</text>
<text x="406.4" y="426.2" font-size="8.5" text-anchor="end" fill="#000" fill-opacity="0.72">0.99</text>
<text x="285.9" y="438" font-size="8" text-anchor="end" font-weight="bold" stroke="#000" stroke-width="0.18">0</text>
<text x="316.3" y="438" font-size="8" text-anchor="end" font-weight="bold" stroke="#000" stroke-width="0.18">10</text>
<text x="346.7" y="438" font-size="8" text-anchor="end" font-weight="bold" stroke="#000" stroke-width="0.18">20</text>
<text x="377.1" y="438" font-size="8" text-anchor="end" font-weight="bold" stroke="#000" stroke-width="0.18">50</text>
<text x="407.4" y="438" font-size="8" text-anchor="end" font-weight="bold" stroke="#000" stroke-width="0.18">70</text>
<text x="224" y="405.5" font-size="8" text-anchor="middle" font-weight="bold" stroke="#000" stroke-width="0.18" transform="rotate(-90 224 405.5)">AKTi (IC)</text>
<text x="325.5" y="449.3" font-size="8" text-anchor="middle" font-weight="bold" stroke="#000" stroke-width="0.18">AXLi (IC)</text>
</g>
<text x="435.8" y="297.4" font-size="7.8" text-anchor="middle" font-weight="bold" stroke="#000" stroke-width="0.18">Fa</text>
<rect x="421.8" y="299.8" width="28.8" height="11.8" fill="#24aaea" stroke="#2c2c2c" stroke-width="0.75"/>
<text x="436.2" y="308.6" font-size="8.3" text-anchor="middle" fill="#000" fill-opacity="0.72">0.99</text>
<rect x="421.8" y="311.6" width="28.8" height="11.8" fill="#28a6d8" stroke="#2c2c2c" stroke-width="0.75"/>
<text x="436.2" y="320.4" font-size="8.3" text-anchor="middle" fill="#000" fill-opacity="0.72">0.98</text>
<rect x="421.8" y="323.3" width="28.8" height="11.8" fill="#36a0ba" stroke="#2c2c2c" stroke-width="0.75"/>
<text x="436.2" y="332.1" font-size="8.3" text-anchor="middle" fill="#000" fill-opacity="0.72">0.97</text>
<rect x="421.8" y="335.1" width="28.8" height="11.8" fill="#609c74" stroke="#2c2c2c" stroke-width="0.75"/>
<text x="436.2" y="343.9" font-size="8.3" text-anchor="middle" fill="#000" fill-opacity="0.72">0.95</text>
<rect x="421.8" y="346.8" width="28.8" height="11.8" fill="#7a984c" stroke="#2c2c2c" stroke-width="0.75"/>
<text x="436.2" y="355.6" font-size="8.3" text-anchor="middle" fill="#000" fill-opacity="0.72">0.94</text>
<rect x="421.8" y="358.6" width="28.8" height="11.8" fill="#ba941a" stroke="#2c2c2c" stroke-width="0.75"/>
<text x="436.2" y="367.4" font-size="8.3" text-anchor="middle" fill="#000" fill-opacity="0.72">0.9</text>
<rect x="421.8" y="370.4" width="28.8" height="11.8" fill="#ca9e1a" stroke="#2c2c2c" stroke-width="0.75"/>
<text x="436.2" y="379.2" font-size="8.3" text-anchor="middle" fill="#000" fill-opacity="0.72">0.8</text>
<rect x="421.8" y="382.1" width="28.8" height="11.8" fill="#e0ac18" stroke="#2c2c2c" stroke-width="0.75"/>
<text x="436.2" y="390.9" font-size="8.3" text-anchor="middle" fill="#000" fill-opacity="0.72">0.5</text>
<rect x="421.8" y="393.9" width="28.8" height="11.8" fill="#ecb616" stroke="#2c2c2c" stroke-width="0.75"/>
<text x="436.2" y="402.7" font-size="8.3" text-anchor="middle" fill="#000" fill-opacity="0.72">0.2</text>
<rect x="421.8" y="405.6" width="28.8" height="11.8" fill="#fec20e" stroke="#2c2c2c" stroke-width="0.75"/>
<text x="436.2" y="414.4" font-size="8.3" text-anchor="middle" fill="#000" fill-opacity="0.72">0</text>
<g>
<rect x="42.5" y="494.3" width="28.4" height="1.9" fill="url(#cbg1)"/>
<rect x="80.8" y="494.3" width="30.4" height="1.9" fill="url(#cbr1)"/>
<text x="44" y="493.8" font-size="8" text-anchor="middle" font-weight="bold" stroke="#000" stroke-width="0.18">-10</text>
<text x="77.1" y="493.8" font-size="8" text-anchor="middle" font-weight="bold" stroke="#000" stroke-width="0.18">0</text>
<text x="109.2" y="493.8" font-size="8" text-anchor="middle" font-weight="bold" stroke="#000" stroke-width="0.18">10</text>
<text x="77.1" y="474.4" font-size="8" text-anchor="middle" font-weight="bold" stroke="#000" stroke-width="0.18">Bliss synergy</text>
<text x="77.1" y="484.3" font-size="8" text-anchor="middle" font-weight="bold" stroke="#000" stroke-width="0.18">score 3.013</text>
<rect x="25.6" y="499.4" width="102.8" height="114.3" fill="#fff"/>
<g clip-path="url(#hc1)">
<g filter="url(#hblur)">
<path fill="#fff3f3" d="M22.6 496.4h3.2v3.2h-3.2zM22.6 499.4h3.2v3.2h-3.2zM22.6 502.4h3.2v3.2h-3.2zM22.6 505.4h3.2v3.2h-3.2zM22.6 508.4h3.2v3.2h-3.2zM22.6 511.4h3.2v3.2h-3.2zM22.6 514.4h3.2v3.2h-3.2zM22.6 517.4h3.2v3.2h-3.2zM22.6 520.4h3.2v3.2h-3.2zM22.6 523.4h3.2v3.2h-3.2zM22.6 526.4h3.2v3.2h-3.2zM22.6 529.4h3.2v3.2h-3.2zM22.6 532.4h3.2v3.2h-3.2zM22.6 535.4h3.2v3.2h-3.2zM22.6 538.4h3.2v3.2h-3.2zM22.6 541.4h3.2v3.2h-3.2zM22.6 544.4h3.2v3.2h-3.2zM22.6 547.4h3.2v3.2h-3.2zM22.6 550.4h3.2v3.2h-3.2zM22.6 553.4h3.2v3.2h-3.2zM22.6 556.4h3.2v3.2h-3.2zM22.6 559.4h3.2v3.2h-3.2zM22.6 562.4h3.2v3.2h-3.2zM22.6 565.4h3.2v3.2h-3.2zM22.6 568.4h3.2v3.2h-3.2zM22.6 571.4h3.2v3.2h-3.2zM22.6 574.4h3.2v3.2h-3.2zM22.6 577.4h3.2v3.2h-3.2zM22.6 580.4h3.2v3.2h-3.2zM22.6 583.4h3.2v3.2h-3.2zM22.6 586.4h3.2v3.2h-3.2zM25.6 598.4h3.2v3.2h-3.2zM28.6 604.4h3.2v3.2h-3.2zM127.6 604.4h9.2v3.2h-9.2zM97.6 607.4h27.2v3.2h-27.2zM76.6 610.4h6.2v3.2h-6.2zM37.6 613.4h3.2v3.2h-3.2zM70.6 613.4h3.2v3.2h-3.2zM49.6 616.4h12.2v3.2h-12.2z"/>
<path fill="#ffe7e7" d="M25.6 496.4h3.2v3.2h-3.2zM25.6 499.4h3.2v3.2h-3.2zM25.6 502.4h3.2v3.2h-3.2zM25.6 505.4h3.2v3.2h-3.2zM25.6 508.4h3.2v3.2h-3.2zM25.6 511.4h3.2v3.2h-3.2zM25.6 514.4h3.2v3.2h-3.2zM25.6 517.4h3.2v3.2h-3.2zM25.6 520.4h3.2v3.2h-3.2zM25.6 523.4h3.2v3.2h-3.2zM25.6 526.4h3.2v3.2h-3.2zM25.6 529.4h3.2v3.2h-3.2zM25.6 532.4h3.2v3.2h-3.2zM25.6 535.4h3.2v3.2h-3.2zM25.6 538.4h3.2v3.2h-3.2zM25.6 541.4h3.2v3.2h-3.2zM25.6 544.4h3.2v3.2h-3.2zM25.6 547.4h3.2v3.2h-3.2zM25.6 550.4h3.2v3.2h-3.2zM25.6 553.4h3.2v3.2h-3.2zM25.6 556.4h3.2v3.2h-3.2zM25.6 559.4h3.2v3.2h-3.2zM25.6 562.4h3.2v3.2h-3.2zM25.6 565.4h3.2v3.2h-3.2zM25.6 568.4h3.2v3.2h-3.2zM25.6 571.4h3.2v3.2h-3.2zM25.6 574.4h3.2v3.2h-3.2zM25.6 577.4h3.2v3.2h-3.2zM25.6 580.4h3.2v3.2h-3.2zM127.6 592.4h9.2v3.2h-9.2zM118.6 595.4h9.2v3.2h-9.2zM28.6 598.4h3.2v3.2h-3.2zM103.6 598.4h12.2v3.2h-12.2zM91.6 601.4h6.2v3.2h-6.2zM82.6 604.4h3.2v3.2h-3.2zM34.6 607.4h3.2v3.2h-3.2zM67.6 610.4h3.2v3.2h-3.2z"/>
<path fill="#ffd2d2" d="M28.6 496.4h3.2v3.2h-3.2zM28.6 499.4h3.2v3.2h-3.2zM28.6 502.4h3.2v3.2h-3.2zM28.6 505.4h3.2v3.2h-3.2zM28.6 508.4h3.2v3.2h-3.2zM28.6 511.4h3.2v3.2h-3.2zM28.6 514.4h3.2v3.2h-3.2zM28.6 517.4h3.2v3.2h-3.2zM28.6 520.4h3.2v3.2h-3.2zM28.6 523.4h3.2v3.2h-3.2zM28.6 526.4h3.2v3.2h-3.2zM28.6 529.4h3.2v3.2h-3.2zM28.6 532.4h3.2v3.2h-3.2zM28.6 535.4h3.2v3.2h-3.2zM28.6 538.4h3.2v3.2h-3.2zM28.6 541.4h3.2v3.2h-3.2zM28.6 544.4h3.2v3.2h-3.2zM28.6 547.4h3.2v3.2h-3.2zM28.6 550.4h3.2v3.2h-3.2zM28.6 553.4h3.2v3.2h-3.2zM127.6 562.4h9.2v3.2h-9.2zM124.6 565.4h3.2v3.2h-3.2zM121.6 568.4h3.2v3.2h-3.2zM28.6 571.4h3.2v3.2h-3.2zM118.6 571.4h3.2v3.2h-3.2zM28.6 574.4h3.2v3.2h-3.2zM115.6 574.4h3.2v3.2h-3.2zM28.6 577.4h3.2v3.2h-3.2zM109.6 577.4h6.2v3.2h-6.2zM28.6 580.4h3.2v3.2h-3.2zM100.6 580.4h9.2v3.2h-9.2zM97.6 583.4h3.2v3.2h-3.2zM88.6 592.4h3.2v3.2h-3.2zM85.6 595.4h3.2v3.2h-3.2zM76.6 601.4h3.2v3.2h-3.2zM64.6 607.4h3.2v3.2h-3.2z"/>
<path fill="#fcb7b7" d="M31.6 496.4h3.2v3.2h-3.2zM31.6 499.4h3.2v3.2h-3.2zM31.6 502.4h3.2v3.2h-3.2zM31.6 505.4h3.2v3.2h-3.2zM31.6 508.4h3.2v3.2h-3.2zM31.6 511.4h3.2v3.2h-3.2zM31.6 514.4h3.2v3.2h-3.2zM31.6 517.4h3.2v3.2h-3.2zM31.6 520.4h3.2v3.2h-3.2zM31.6 523.4h3.2v3.2h-3.2zM31.6 526.4h3.2v3.2h-3.2zM31.6 529.4h3.2v3.2h-3.2zM31.6 532.4h3.2v3.2h-3.2zM31.6 535.4h3.2v3.2h-3.2zM31.6 538.4h3.2v3.2h-3.2zM94.6 547.4h3.2v3.2h-3.2zM94.6 550.4h3.2v3.2h-3.2zM94.6 553.4h3.2v3.2h-3.2zM91.6 562.4h3.2v3.2h-3.2zM88.6 571.4h3.2v3.2h-3.2zM31.6 577.4h3.2v3.2h-3.2zM31.6 580.4h3.2v3.2h-3.2zM82.6 586.4h3.2v3.2h-3.2zM43.6 604.4h3.2v3.2h-3.2z"/>
<path fill="#fc9699" d="M34.6 496.4h3.2v3.2h-3.2zM34.6 499.4h3.2v3.2h-3.2zM34.6 502.4h3.2v3.2h-3.2zM34.6 505.4h3.2v3.2h-3.2zM34.6 508.4h3.2v3.2h-3.2zM34.6 511.4h3.2v3.2h-3.2zM34.6 514.4h3.2v3.2h-3.2z"/>
<path fill="#fc7878" d="M37.6 496.4h3.2v3.2h-3.2zM37.6 499.4h3.2v3.2h-3.2zM37.6 502.4h3.2v3.2h-3.2zM37.6 505.4h3.2v3.2h-3.2zM37.6 508.4h3.2v3.2h-3.2zM37.6 511.4h3.2v3.2h-3.2zM37.6 514.4h3.2v3.2h-3.2zM37.6 517.4h3.2v3.2h-3.2zM37.6 520.4h3.2v3.2h-3.2zM37.6 523.4h3.2v3.2h-3.2zM37.6 526.4h3.2v3.2h-3.2zM37.6 529.4h3.2v3.2h-3.2zM73.6 574.4h3.2v3.2h-3.2zM43.6 595.4h3.2v3.2h-3.2z"/>
<path fill="#fc5d5d" d="M40.6 496.4h3.2v3.2h-3.2zM40.6 499.4h3.2v3.2h-3.2zM40.6 502.4h3.2v3.2h-3.2zM40.6 505.4h3.2v3.2h-3.2zM40.6 508.4h3.2v3.2h-3.2zM40.6 511.4h3.2v3.2h-3.2zM40.6 514.4h3.2v3.2h-3.2zM40.6 517.4h3.2v3.2h-3.2zM40.6 583.4h3.2v3.2h-3.2zM64.6 589.4h3.2v3.2h-3.2zM46.6 592.4h3.2v3.2h-3.2z"/>
<path fill="#f94848" d="M43.6 496.4h3.2v3.2h-3.2zM43.6 499.4h3.2v3.2h-3.2zM43.6 502.4h3.2v3.2h-3.2zM64.6 580.4h3.2v3.2h-3.2zM49.6 589.4h3.2v3.2h-3.2z"/>
<path fill="#f93c3c" d="M46.6 496.4h3.2v3.2h-3.2zM46.6 499.4h3.2v3.2h-3.2zM46.6 502.4h3.2v3.2h-3.2zM46.6 505.4h3.2v3.2h-3.2zM46.6 508.4h3.2v3.2h-3.2zM46.6 511.4h3.2v3.2h-3.2z"/>
<path fill="#f93639" d="M49.6 496.4h12.2v3.2h-12.2zM49.6 499.4h12.2v3.2h-12.2zM49.6 502.4h12.2v3.2h-12.2zM49.6 505.4h12.2v3.2h-12.2zM49.6 508.4h12.2v3.2h-12.2zM49.6 511.4h12.2v3.2h-12.2zM49.6 514.4h12.2v3.2h-12.2zM49.6 517.4h12.2v3.2h-12.2zM49.6 520.4h12.2v3.2h-12.2zM49.6 523.4h12.2v3.2h-12.2zM49.6 526.4h12.2v3.2h-12.2zM49.6 529.4h12.2v3.2h-12.2zM49.6 532.4h15.2v3.2h-15.2zM49.6 535.4h15.2v3.2h-15.2zM49.6 538.4h15.2v3.2h-15.2zM46.6 541.4h18.2v3.2h-18.2zM46.6 544.4h18.2v3.2h-18.2zM46.6 547.4h18.2v3.2h-18.2zM46.6 550.4h18.2v3.2h-18.2zM46.6 553.4h18.2v3.2h-18.2zM46.6 556.4h18.2v3.2h-18.2zM46.6 559.4h18.2v3.2h-18.2zM46.6 562.4h18.2v3.2h-18.2zM46.6 565.4h18.2v3.2h-18.2zM46.6 568.4h18.2v3.2h-18.2zM46.6 571.4h18.2v3.2h-18.2zM46.6 574.4h18.2v3.2h-18.2zM46.6 577.4h15.2v3.2h-15.2zM49.6 580.4h12.2v3.2h-12.2zM49.6 583.4h12.2v3.2h-12.2z"/>
<path fill="#f9393c" d="M61.6 496.4h3.2v3.2h-3.2zM61.6 499.4h3.2v3.2h-3.2zM61.6 502.4h3.2v3.2h-3.2zM61.6 505.4h3.2v3.2h-3.2zM61.6 508.4h3.2v3.2h-3.2zM61.6 511.4h3.2v3.2h-3.2zM46.6 514.4h3.2v3.2h-3.2zM61.6 514.4h3.2v3.2h-3.2zM46.6 517.4h3.2v3.2h-3.2zM61.6 517.4h3.2v3.2h-3.2zM46.6 520.4h3.2v3.2h-3.2zM46.6 523.4h3.2v3.2h-3.2zM46.6 526.4h3.2v3.2h-3.2zM46.6 529.4h3.2v3.2h-3.2zM46.6 532.4h3.2v3.2h-3.2zM61.6 580.4h3.2v3.2h-3.2zM46.6 583.4h3.2v3.2h-3.2z"/>
<path fill="#f94545" d="M64.6 496.4h3.2v3.2h-3.2zM64.6 499.4h3.2v3.2h-3.2zM64.6 502.4h3.2v3.2h-3.2zM64.6 505.4h3.2v3.2h-3.2zM64.6 508.4h3.2v3.2h-3.2zM64.6 511.4h3.2v3.2h-3.2zM64.6 514.4h3.2v3.2h-3.2zM64.6 517.4h3.2v3.2h-3.2zM43.6 532.4h3.2v3.2h-3.2zM43.6 535.4h3.2v3.2h-3.2zM43.6 538.4h3.2v3.2h-3.2zM43.6 580.4h3.2v3.2h-3.2z"/>
<path fill="#fc5154" d="M67.6 496.4h3.2v3.2h-3.2zM67.6 499.4h3.2v3.2h-3.2zM67.6 502.4h3.2v3.2h-3.2zM67.6 505.4h3.2v3.2h-3.2zM67.6 574.4h3.2v3.2h-3.2z"/>
<path fill="#fc6063" d="M70.6 496.4h3.2v3.2h-3.2zM70.6 499.4h3.2v3.2h-3.2zM70.6 502.4h3.2v3.2h-3.2zM70.6 505.4h3.2v3.2h-3.2zM70.6 508.4h3.2v3.2h-3.2zM70.6 511.4h3.2v3.2h-3.2zM70.6 514.4h3.2v3.2h-3.2zM70.6 517.4h3.2v3.2h-3.2zM70.6 520.4h3.2v3.2h-3.2zM70.6 523.4h3.2v3.2h-3.2zM70.6 526.4h3.2v3.2h-3.2zM70.6 568.4h3.2v3.2h-3.2zM61.6 592.4h3.2v3.2h-3.2z"/>
<path fill="#fc7272" d="M73.6 496.4h3.2v3.2h-3.2zM73.6 499.4h3.2v3.2h-3.2zM73.6 502.4h3.2v3.2h-3.2zM73.6 505.4h3.2v3.2h-3.2zM73.6 508.4h3.2v3.2h-3.2zM73.6 511.4h3.2v3.2h-3.2zM73.6 514.4h3.2v3.2h-3.2zM73.6 517.4h3.2v3.2h-3.2zM73.6 520.4h3.2v3.2h-3.2zM73.6 523.4h3.2v3.2h-3.2zM73.6 526.4h3.2v3.2h-3.2zM73.6 562.4h3.2v3.2h-3.2zM73.6 565.4h3.2v3.2h-3.2zM37.6 568.4h3.2v3.2h-3.2z"/>
<path fill="#fc8184" d="M76.6 496.4h3.2v3.2h-3.2zM76.6 499.4h3.2v3.2h-3.2zM76.6 502.4h3.2v3.2h-3.2zM76.6 505.4h3.2v3.2h-3.2zM76.6 508.4h3.2v3.2h-3.2zM76.6 511.4h3.2v3.2h-3.2zM76.6 514.4h3.2v3.2h-3.2zM76.6 517.4h3.2v3.2h-3.2zM76.6 520.4h3.2v3.2h-3.2zM76.6 523.4h3.2v3.2h-3.2zM76.6 526.4h3.2v3.2h-3.2zM76.6 529.4h3.2v3.2h-3.2zM76.6 556.4h3.2v3.2h-3.2zM76.6 559.4h3.2v3.2h-3.2zM58.6 598.4h3.2v3.2h-3.2z"/>
<path fill="#fc9090" d="M79.6 496.4h3.2v3.2h-3.2zM79.6 499.4h3.2v3.2h-3.2zM79.6 502.4h3.2v3.2h-3.2zM79.6 505.4h3.2v3.2h-3.2zM79.6 508.4h3.2v3.2h-3.2zM79.6 511.4h3.2v3.2h-3.2zM79.6 514.4h3.2v3.2h-3.2zM79.6 517.4h3.2v3.2h-3.2zM79.6 520.4h3.2v3.2h-3.2zM79.6 556.4h3.2v3.2h-3.2zM79.6 559.4h3.2v3.2h-3.2zM76.6 580.4h3.2v3.2h-3.2z"/>
<path fill="#fc9c9c" d="M82.6 496.4h3.2v3.2h-3.2zM82.6 499.4h3.2v3.2h-3.2zM82.6 502.4h3.2v3.2h-3.2zM82.6 505.4h3.2v3.2h-3.2zM82.6 508.4h3.2v3.2h-3.2zM82.6 511.4h3.2v3.2h-3.2zM82.6 514.4h3.2v3.2h-3.2zM82.6 517.4h3.2v3.2h-3.2zM82.6 520.4h3.2v3.2h-3.2zM82.6 523.4h3.2v3.2h-3.2zM82.6 526.4h3.2v3.2h-3.2zM82.6 529.4h3.2v3.2h-3.2zM82.6 532.4h3.2v3.2h-3.2zM82.6 535.4h3.2v3.2h-3.2zM82.6 538.4h3.2v3.2h-3.2zM82.6 547.4h3.2v3.2h-3.2zM82.6 550.4h3.2v3.2h-3.2zM82.6 553.4h3.2v3.2h-3.2zM82.6 556.4h3.2v3.2h-3.2zM79.6 577.4h3.2v3.2h-3.2zM70.6 595.4h3.2v3.2h-3.2zM40.6 598.4h3.2v3.2h-3.2z"/>
<path fill="#fca2a2" d="M85.6 496.4h3.2v3.2h-3.2zM85.6 499.4h3.2v3.2h-3.2zM85.6 502.4h3.2v3.2h-3.2zM85.6 505.4h3.2v3.2h-3.2zM85.6 508.4h3.2v3.2h-3.2zM85.6 511.4h3.2v3.2h-3.2zM85.6 514.4h3.2v3.2h-3.2zM85.6 517.4h3.2v3.2h-3.2zM85.6 520.4h3.2v3.2h-3.2zM85.6 523.4h3.2v3.2h-3.2zM85.6 526.4h3.2v3.2h-3.2zM85.6 529.4h3.2v3.2h-3.2zM85.6 532.4h3.2v3.2h-3.2zM85.6 535.4h3.2v3.2h-3.2zM85.6 538.4h3.2v3.2h-3.2zM85.6 541.4h3.2v3.2h-3.2zM85.6 544.4h3.2v3.2h-3.2zM85.6 547.4h3.2v3.2h-3.2zM85.6 550.4h3.2v3.2h-3.2zM82.6 565.4h3.2v3.2h-3.2z"/>
<path fill="#fcabab" d="M88.6 496.4h3.2v3.2h-3.2zM88.6 499.4h3.2v3.2h-3.2zM88.6 502.4h3.2v3.2h-3.2zM88.6 505.4h3.2v3.2h-3.2zM88.6 508.4h3.2v3.2h-3.2zM88.6 511.4h3.2v3.2h-3.2zM88.6 514.4h3.2v3.2h-3.2zM88.6 517.4h3.2v3.2h-3.2zM88.6 520.4h3.2v3.2h-3.2zM88.6 523.4h3.2v3.2h-3.2zM88.6 526.4h3.2v3.2h-3.2zM88.6 529.4h3.2v3.2h-3.2zM88.6 532.4h3.2v3.2h-3.2zM88.6 535.4h3.2v3.2h-3.2zM88.6 538.4h3.2v3.2h-3.2zM88.6 544.4h3.2v3.2h-3.2zM88.6 547.4h3.2v3.2h-3.2zM88.6 550.4h3.2v3.2h-3.2zM88.6 553.4h3.2v3.2h-3.2zM85.6 568.4h3.2v3.2h-3.2zM79.6 586.4h3.2v3.2h-3.2zM73.6 595.4h3.2v3.2h-3.2z"/>
<path fill="#fcb1b1" d="M91.6 496.4h3.2v3.2h-3.2zM91.6 499.4h3.2v3.2h-3.2zM91.6 502.4h3.2v3.2h-3.2zM91.6 505.4h3.2v3.2h-3.2zM91.6 508.4h3.2v3.2h-3.2zM91.6 511.4h3.2v3.2h-3.2zM91.6 514.4h3.2v3.2h-3.2zM91.6 517.4h3.2v3.2h-3.2zM91.6 520.4h3.2v3.2h-3.2zM91.6 523.4h3.2v3.2h-3.2zM91.6 526.4h3.2v3.2h-3.2zM91.6 529.4h3.2v3.2h-3.2zM91.6 532.4h3.2v3.2h-3.2zM91.6 535.4h3.2v3.2h-3.2zM91.6 538.4h3.2v3.2h-3.2zM91.6 541.4h3.2v3.2h-3.2zM91.6 544.4h3.2v3.2h-3.2zM91.6 547.4h3.2v3.2h-3.2zM88.6 565.4h3.2v3.2h-3.2zM85.6 577.4h3.2v3.2h-3.2zM67.6 601.4h3.2v3.2h-3.2zM46.6 604.4h3.2v3.2h-3.2z"/>
<path fill="#fcb4b7" d="M94.6 496.4h3.2v3.2h-3.2zM94.6 499.4h3.2v3.2h-3.2zM94.6 502.4h3.2v3.2h-3.2zM94.6 505.4h3.2v3.2h-3.2zM94.6 508.4h3.2v3.2h-3.2zM94.6 511.4h3.2v3.2h-3.2zM94.6 514.4h3.2v3.2h-3.2zM94.6 517.4h3.2v3.2h-3.2zM94.6 520.4h3.2v3.2h-3.2zM94.6 523.4h3.2v3.2h-3.2zM94.6 526.4h3.2v3.2h-3.2zM94.6 529.4h3.2v3.2h-3.2zM94.6 532.4h3.2v3.2h-3.2zM94.6 535.4h3.2v3.2h-3.2zM94.6 538.4h3.2v3.2h-3.2zM31.6 541.4h3.2v3.2h-3.2zM94.6 541.4h3.2v3.2h-3.2zM31.6 544.4h3.2v3.2h-3.2zM94.6 544.4h3.2v3.2h-3.2zM31.6 547.4h3.2v3.2h-3.2zM31.6 550.4h3.2v3.2h-3.2zM31.6 553.4h3.2v3.2h-3.2zM31.6 571.4h3.2v3.2h-3.2zM31.6 574.4h3.2v3.2h-3.2zM85.6 580.4h3.2v3.2h-3.2z"/>
<path fill="#fcbaba" d="M97.6 496.4h3.2v3.2h-3.2zM97.6 499.4h3.2v3.2h-3.2zM97.6 502.4h3.2v3.2h-3.2zM97.6 505.4h3.2v3.2h-3.2zM97.6 508.4h3.2v3.2h-3.2zM97.6 511.4h3.2v3.2h-3.2zM97.6 514.4h3.2v3.2h-3.2zM97.6 517.4h3.2v3.2h-3.2zM97.6 520.4h3.2v3.2h-3.2zM97.6 523.4h3.2v3.2h-3.2zM97.6 526.4h3.2v3.2h-3.2zM97.6 529.4h3.2v3.2h-3.2zM97.6 532.4h3.2v3.2h-3.2zM97.6 535.4h3.2v3.2h-3.2zM97.6 538.4h3.2v3.2h-3.2zM97.6 541.4h3.2v3.2h-3.2zM97.6 544.4h3.2v3.2h-3.2zM97.6 547.4h3.2v3.2h-3.2zM94.6 559.4h3.2v3.2h-3.2zM91.6 565.4h3.2v3.2h-3.2zM88.6 577.4h3.2v3.2h-3.2zM31.6 583.4h3.2v3.2h-3.2zM85.6 583.4h3.2v3.2h-3.2zM76.6 595.4h3.2v3.2h-3.2zM73.6 598.4h3.2v3.2h-3.2z"/>
<path fill="#fcbdbd" d="M100.6 496.4h6.2v3.2h-6.2zM100.6 499.4h6.2v3.2h-6.2zM100.6 502.4h6.2v3.2h-6.2zM100.6 505.4h6.2v3.2h-6.2zM100.6 508.4h6.2v3.2h-6.2zM100.6 511.4h6.2v3.2h-6.2zM100.6 514.4h6.2v3.2h-6.2zM100.6 517.4h6.2v3.2h-6.2zM100.6 520.4h6.2v3.2h-6.2zM100.6 523.4h6.2v3.2h-6.2zM100.6 526.4h6.2v3.2h-6.2zM100.6 529.4h6.2v3.2h-6.2zM100.6 532.4h6.2v3.2h-6.2zM100.6 535.4h6.2v3.2h-6.2zM100.6 538.4h6.2v3.2h-6.2zM100.6 541.4h6.2v3.2h-6.2zM100.6 544.4h6.2v3.2h-6.2zM100.6 547.4h3.2v3.2h-3.2zM100.6 550.4h3.2v3.2h-3.2zM97.6 553.4h3.2v3.2h-3.2zM97.6 556.4h3.2v3.2h-3.2zM94.6 565.4h3.2v3.2h-3.2zM91.6 571.4h3.2v3.2h-3.2zM88.6 580.4h3.2v3.2h-3.2zM31.6 586.4h3.2v3.2h-3.2zM70.6 601.4h3.2v3.2h-3.2zM64.6 604.4h3.2v3.2h-3.2z"/>
<path fill="#fcc0c0" d="M106.6 496.4h6.2v3.2h-6.2zM106.6 499.4h6.2v3.2h-6.2zM106.6 502.4h6.2v3.2h-6.2zM106.6 505.4h6.2v3.2h-6.2zM106.6 508.4h6.2v3.2h-6.2zM106.6 511.4h6.2v3.2h-6.2zM106.6 514.4h6.2v3.2h-6.2zM106.6 517.4h6.2v3.2h-6.2zM106.6 520.4h6.2v3.2h-6.2zM106.6 523.4h6.2v3.2h-6.2zM106.6 526.4h6.2v3.2h-6.2zM106.6 529.4h6.2v3.2h-6.2zM106.6 532.4h6.2v3.2h-6.2zM106.6 535.4h6.2v3.2h-6.2zM106.6 538.4h6.2v3.2h-6.2zM106.6 541.4h6.2v3.2h-6.2zM106.6 544.4h6.2v3.2h-6.2zM106.6 547.4h3.2v3.2h-3.2zM103.6 550.4h6.2v3.2h-6.2zM103.6 553.4h3.2v3.2h-3.2zM100.6 556.4h6.2v3.2h-6.2zM100.6 559.4h3.2v3.2h-3.2zM97.6 562.4h3.2v3.2h-3.2zM94.6 568.4h3.2v3.2h-3.2zM91.6 574.4h3.2v3.2h-3.2zM40.6 604.4h3.2v3.2h-3.2z"/>
<path fill="#fcc0c3" d="M112.6 496.4h3.2v3.2h-3.2zM112.6 499.4h3.2v3.2h-3.2zM112.6 502.4h3.2v3.2h-3.2zM112.6 505.4h3.2v3.2h-3.2zM112.6 508.4h3.2v3.2h-3.2zM112.6 511.4h3.2v3.2h-3.2zM112.6 514.4h3.2v3.2h-3.2zM112.6 517.4h3.2v3.2h-3.2zM112.6 520.4h3.2v3.2h-3.2zM112.6 523.4h3.2v3.2h-3.2zM112.6 526.4h3.2v3.2h-3.2zM112.6 529.4h3.2v3.2h-3.2zM112.6 532.4h3.2v3.2h-3.2zM112.6 535.4h3.2v3.2h-3.2zM112.6 538.4h3.2v3.2h-3.2zM112.6 541.4h3.2v3.2h-3.2zM109.6 547.4h3.2v3.2h-3.2zM106.6 553.4h3.2v3.2h-3.2zM88.6 583.4h3.2v3.2h-3.2z"/>
<path fill="#ffc3c3" d="M115.6 496.4h3.2v3.2h-3.2zM115.6 499.4h3.2v3.2h-3.2zM115.6 502.4h3.2v3.2h-3.2zM115.6 505.4h3.2v3.2h-3.2zM115.6 508.4h3.2v3.2h-3.2zM115.6 511.4h3.2v3.2h-3.2zM115.6 514.4h3.2v3.2h-3.2zM115.6 517.4h3.2v3.2h-3.2zM115.6 520.4h3.2v3.2h-3.2zM115.6 523.4h3.2v3.2h-3.2zM115.6 526.4h3.2v3.2h-3.2zM115.6 529.4h3.2v3.2h-3.2zM115.6 532.4h3.2v3.2h-3.2zM115.6 535.4h3.2v3.2h-3.2zM115.6 538.4h3.2v3.2h-3.2zM115.6 541.4h3.2v3.2h-3.2zM112.6 550.4h3.2v3.2h-3.2zM112.6 553.4h3.2v3.2h-3.2zM109.6 556.4h3.2v3.2h-3.2zM106.6 559.4h3.2v3.2h-3.2zM103.6 562.4h3.2v3.2h-3.2zM34.6 598.4h3.2v3.2h-3.2z"/>
<path fill="#ffc6c6" d="M118.6 496.4h3.2v3.2h-3.2zM118.6 499.4h3.2v3.2h-3.2zM118.6 502.4h3.2v3.2h-3.2zM118.6 505.4h3.2v3.2h-3.2zM118.6 508.4h3.2v3.2h-3.2zM118.6 511.4h3.2v3.2h-3.2zM118.6 514.4h3.2v3.2h-3.2zM118.6 517.4h3.2v3.2h-3.2zM118.6 520.4h3.2v3.2h-3.2zM118.6 523.4h3.2v3.2h-3.2zM118.6 526.4h3.2v3.2h-3.2zM118.6 529.4h3.2v3.2h-3.2zM118.6 532.4h3.2v3.2h-3.2zM118.6 535.4h3.2v3.2h-3.2zM118.6 538.4h3.2v3.2h-3.2zM118.6 541.4h3.2v3.2h-3.2zM118.6 544.4h3.2v3.2h-3.2zM115.6 547.4h6.2v3.2h-6.2zM115.6 550.4h3.2v3.2h-3.2zM115.6 553.4h3.2v3.2h-3.2zM112.6 556.4h6.2v3.2h-6.2zM112.6 559.4h3.2v3.2h-3.2zM106.6 562.4h6.2v3.2h-6.2zM100.6 565.4h6.2v3.2h-6.2zM97.6 568.4h3.2v3.2h-3.2zM94.6 577.4h3.2v3.2h-3.2zM91.6 580.4h3.2v3.2h-3.2zM88.6 586.4h3.2v3.2h-3.2zM82.6 592.4h3.2v3.2h-3.2zM79.6 595.4h3.2v3.2h-3.2zM76.6 598.4h3.2v3.2h-3.2zM67.6 604.4h3.2v3.2h-3.2zM49.6 607.4h9.2v3.2h-9.2z"/>
<path fill="#ffc9c9" d="M121.6 496.4h3.2v3.2h-3.2zM121.6 499.4h3.2v3.2h-3.2zM121.6 502.4h3.2v3.2h-3.2zM121.6 505.4h3.2v3.2h-3.2zM121.6 508.4h3.2v3.2h-3.2zM121.6 511.4h3.2v3.2h-3.2zM121.6 514.4h3.2v3.2h-3.2zM121.6 517.4h3.2v3.2h-3.2zM121.6 520.4h3.2v3.2h-3.2zM121.6 523.4h3.2v3.2h-3.2zM121.6 526.4h3.2v3.2h-3.2zM121.6 529.4h3.2v3.2h-3.2zM121.6 532.4h3.2v3.2h-3.2zM121.6 535.4h3.2v3.2h-3.2zM121.6 538.4h3.2v3.2h-3.2zM121.6 541.4h3.2v3.2h-3.2zM121.6 544.4h3.2v3.2h-3.2zM121.6 547.4h3.2v3.2h-3.2zM118.6 550.4h6.2v3.2h-6.2zM118.6 553.4h3.2v3.2h-3.2zM118.6 556.4h3.2v3.2h-3.2zM115.6 559.4h3.2v3.2h-3.2zM112.6 562.4h6.2v3.2h-6.2zM109.6 565.4h6.2v3.2h-6.2zM103.6 568.4h6.2v3.2h-6.2zM100.6 571.4h3.2v3.2h-3.2zM97.6 574.4h3.2v3.2h-3.2zM94.6 580.4h3.2v3.2h-3.2zM91.6 583.4h3.2v3.2h-3.2zM31.6 592.4h3.2v3.2h-3.2zM73.6 601.4h3.2v3.2h-3.2zM46.6 607.4h3.2v3.2h-3.2zM58.6 607.4h3.2v3.2h-3.2z"/>
<path fill="#ffcccc" d="M124.6 496.4h12.2v3.2h-12.2zM124.6 499.4h12.2v3.2h-12.2zM124.6 502.4h12.2v3.2h-12.2zM124.6 505.4h12.2v3.2h-12.2zM124.6 508.4h12.2v3.2h-12.2zM124.6 511.4h12.2v3.2h-12.2zM124.6 514.4h12.2v3.2h-12.2zM124.6 517.4h12.2v3.2h-12.2zM124.6 520.4h12.2v3.2h-12.2zM124.6 523.4h12.2v3.2h-12.2zM124.6 526.4h12.2v3.2h-12.2zM124.6 529.4h12.2v3.2h-12.2zM124.6 532.4h12.2v3.2h-12.2zM124.6 535.4h12.2v3.2h-12.2zM124.6 538.4h12.2v3.2h-12.2zM124.6 541.4h12.2v3.2h-12.2zM124.6 544.4h12.2v3.2h-12.2zM124.6 547.4h3.2v3.2h-3.2zM124.6 550.4h3.2v3.2h-3.2zM121.6 553.4h6.2v3.2h-6.2zM121.6 556.4h3.2v3.2h-3.2zM121.6 559.4h3.2v3.2h-3.2zM118.6 562.4h3.2v3.2h-3.2zM115.6 565.4h3.2v3.2h-3.2zM109.6 568.4h6.2v3.2h-6.2zM106.6 571.4h6.2v3.2h-6.2zM100.6 574.4h6.2v3.2h-6.2zM97.6 577.4h3.2v3.2h-3.2zM94.6 583.4h3.2v3.2h-3.2zM91.6 586.4h3.2v3.2h-3.2zM88.6 589.4h3.2v3.2h-3.2zM85.6 592.4h3.2v3.2h-3.2zM43.6 607.4h3.2v3.2h-3.2zM61.6 607.4h3.2v3.2h-3.2z"/>
<path fill="#f94548" d="M43.6 505.4h3.2v3.2h-3.2zM43.6 508.4h3.2v3.2h-3.2zM43.6 511.4h3.2v3.2h-3.2zM43.6 514.4h3.2v3.2h-3.2zM43.6 517.4h3.2v3.2h-3.2zM43.6 520.4h3.2v3.2h-3.2zM43.6 523.4h3.2v3.2h-3.2zM43.6 526.4h3.2v3.2h-3.2zM43.6 529.4h3.2v3.2h-3.2zM64.6 577.4h3.2v3.2h-3.2zM43.6 583.4h3.2v3.2h-3.2zM61.6 586.4h3.2v3.2h-3.2zM52.6 589.4h6.2v3.2h-6.2z"/>
<path fill="#fc5151" d="M67.6 508.4h3.2v3.2h-3.2zM67.6 511.4h3.2v3.2h-3.2zM67.6 514.4h3.2v3.2h-3.2zM67.6 517.4h3.2v3.2h-3.2zM67.6 520.4h3.2v3.2h-3.2zM67.6 523.4h3.2v3.2h-3.2zM67.6 526.4h3.2v3.2h-3.2zM67.6 529.4h3.2v3.2h-3.2zM67.6 571.4h3.2v3.2h-3.2zM61.6 589.4h3.2v3.2h-3.2z"/>
<path fill="#fc9696" d="M34.6 517.4h3.2v3.2h-3.2zM34.6 520.4h3.2v3.2h-3.2zM34.6 523.4h3.2v3.2h-3.2zM34.6 526.4h3.2v3.2h-3.2zM34.6 529.4h3.2v3.2h-3.2zM34.6 532.4h3.2v3.2h-3.2zM34.6 535.4h3.2v3.2h-3.2zM34.6 538.4h3.2v3.2h-3.2zM34.6 541.4h3.2v3.2h-3.2zM79.6 571.4h3.2v3.2h-3.2zM34.6 577.4h3.2v3.2h-3.2zM34.6 580.4h3.2v3.2h-3.2zM76.6 583.4h3.2v3.2h-3.2zM49.6 601.4h3.2v3.2h-3.2zM55.6 601.4h3.2v3.2h-3.2z"/>
<path fill="#fc5a5d" d="M40.6 520.4h3.2v3.2h-3.2zM40.6 523.4h3.2v3.2h-3.2zM40.6 526.4h3.2v3.2h-3.2zM40.6 529.4h3.2v3.2h-3.2zM40.6 532.4h3.2v3.2h-3.2zM40.6 535.4h3.2v3.2h-3.2zM67.6 583.4h3.2v3.2h-3.2zM58.6 592.4h3.2v3.2h-3.2z"/>
<path fill="#f93939" d="M61.6 520.4h3.2v3.2h-3.2zM61.6 523.4h3.2v3.2h-3.2zM61.6 526.4h3.2v3.2h-3.2zM61.6 529.4h3.2v3.2h-3.2zM46.6 535.4h3.2v3.2h-3.2zM46.6 538.4h3.2v3.2h-3.2zM61.6 577.4h3.2v3.2h-3.2zM46.6 580.4h3.2v3.2h-3.2z"/>
<path fill="#f94245" d="M64.6 520.4h3.2v3.2h-3.2zM64.6 523.4h3.2v3.2h-3.2zM64.6 526.4h3.2v3.2h-3.2zM64.6 529.4h3.2v3.2h-3.2zM64.6 532.4h3.2v3.2h-3.2zM64.6 535.4h3.2v3.2h-3.2zM43.6 541.4h3.2v3.2h-3.2zM43.6 544.4h3.2v3.2h-3.2zM43.6 547.4h3.2v3.2h-3.2zM43.6 550.4h3.2v3.2h-3.2zM64.6 574.4h3.2v3.2h-3.2zM43.6 577.4h3.2v3.2h-3.2zM46.6 586.4h3.2v3.2h-3.2z"/>
<path fill="#fc8d90" d="M79.6 523.4h3.2v3.2h-3.2zM79.6 526.4h3.2v3.2h-3.2zM79.6 529.4h3.2v3.2h-3.2zM79.6 532.4h3.2v3.2h-3.2zM79.6 535.4h3.2v3.2h-3.2zM79.6 538.4h3.2v3.2h-3.2zM79.6 547.4h3.2v3.2h-3.2zM79.6 550.4h3.2v3.2h-3.2zM79.6 553.4h3.2v3.2h-3.2z"/>
<path fill="#fc6060" d="M70.6 529.4h3.2v3.2h-3.2zM70.6 532.4h3.2v3.2h-3.2zM70.6 535.4h3.2v3.2h-3.2zM70.6 538.4h3.2v3.2h-3.2zM70.6 562.4h3.2v3.2h-3.2zM70.6 565.4h3.2v3.2h-3.2z"/>
<path fill="#fc6f72" d="M73.6 529.4h3.2v3.2h-3.2zM73.6 532.4h3.2v3.2h-3.2zM73.6 535.4h3.2v3.2h-3.2zM73.6 538.4h3.2v3.2h-3.2zM73.6 541.4h3.2v3.2h-3.2zM73.6 547.4h3.2v3.2h-3.2zM73.6 550.4h3.2v3.2h-3.2zM73.6 553.4h3.2v3.2h-3.2zM73.6 556.4h3.2v3.2h-3.2zM73.6 559.4h3.2v3.2h-3.2z"/>
<path fill="#fc7578" d="M37.6 532.4h3.2v3.2h-3.2zM37.6 535.4h3.2v3.2h-3.2zM37.6 538.4h3.2v3.2h-3.2zM37.6 580.4h3.2v3.2h-3.2z"/>
<path fill="#fc4e51" d="M67.6 532.4h3.2v3.2h-3.2zM67.6 535.4h3.2v3.2h-3.2zM67.6 538.4h3.2v3.2h-3.2zM67.6 541.4h3.2v3.2h-3.2zM67.6 565.4h3.2v3.2h-3.2zM67.6 568.4h3.2v3.2h-3.2zM43.6 586.4h3.2v3.2h-3.2z"/>
<path fill="#fc8181" d="M76.6 532.4h3.2v3.2h-3.2zM76.6 535.4h3.2v3.2h-3.2zM76.6 538.4h3.2v3.2h-3.2zM76.6 541.4h3.2v3.2h-3.2zM76.6 544.4h3.2v3.2h-3.2zM76.6 547.4h3.2v3.2h-3.2zM76.6 550.4h3.2v3.2h-3.2zM76.6 553.4h3.2v3.2h-3.2zM73.6 583.4h3.2v3.2h-3.2z"/>
<path fill="#fc5a5a" d="M40.6 538.4h3.2v3.2h-3.2zM40.6 541.4h3.2v3.2h-3.2zM40.6 544.4h3.2v3.2h-3.2zM40.6 580.4h3.2v3.2h-3.2z"/>
<path fill="#f94242" d="M64.6 538.4h3.2v3.2h-3.2zM64.6 541.4h3.2v3.2h-3.2zM43.6 553.4h3.2v3.2h-3.2zM43.6 556.4h3.2v3.2h-3.2zM64.6 571.4h3.2v3.2h-3.2zM43.6 574.4h3.2v3.2h-3.2z"/>
<path fill="#fc7575" d="M37.6 541.4h3.2v3.2h-3.2zM37.6 544.4h3.2v3.2h-3.2zM37.6 547.4h3.2v3.2h-3.2zM37.6 550.4h3.2v3.2h-3.2zM37.6 553.4h3.2v3.2h-3.2zM73.6 571.4h3.2v3.2h-3.2zM37.6 574.4h3.2v3.2h-3.2zM37.6 577.4h3.2v3.2h-3.2zM70.6 586.4h3.2v3.2h-3.2z"/>
<path fill="#fc5d60" d="M70.6 541.4h3.2v3.2h-3.2zM70.6 544.4h3.2v3.2h-3.2zM70.6 547.4h3.2v3.2h-3.2zM70.6 550.4h3.2v3.2h-3.2zM70.6 553.4h3.2v3.2h-3.2zM70.6 556.4h3.2v3.2h-3.2zM70.6 559.4h3.2v3.2h-3.2z"/>
<path fill="#fc8d8d" d="M79.6 541.4h3.2v3.2h-3.2zM79.6 544.4h3.2v3.2h-3.2zM76.6 577.4h3.2v3.2h-3.2zM70.6 592.4h3.2v3.2h-3.2zM67.6 595.4h3.2v3.2h-3.2z"/>
<path fill="#fc999c" d="M82.6 541.4h3.2v3.2h-3.2zM82.6 544.4h3.2v3.2h-3.2zM76.6 586.4h3.2v3.2h-3.2z"/>
<path fill="#fca8ab" d="M88.6 541.4h3.2v3.2h-3.2zM82.6 577.4h3.2v3.2h-3.2z"/>
<path fill="#fc9396" d="M34.6 544.4h3.2v3.2h-3.2zM34.6 547.4h3.2v3.2h-3.2zM34.6 550.4h3.2v3.2h-3.2zM34.6 553.4h3.2v3.2h-3.2zM34.6 556.4h3.2v3.2h-3.2zM79.6 568.4h3.2v3.2h-3.2zM34.6 574.4h3.2v3.2h-3.2zM52.6 601.4h3.2v3.2h-3.2z"/>
<path fill="#f93f42" d="M64.6 544.4h3.2v3.2h-3.2zM64.6 547.4h3.2v3.2h-3.2zM64.6 550.4h3.2v3.2h-3.2zM64.6 553.4h3.2v3.2h-3.2zM64.6 556.4h3.2v3.2h-3.2zM43.6 559.4h3.2v3.2h-3.2zM64.6 559.4h3.2v3.2h-3.2zM43.6 562.4h3.2v3.2h-3.2zM64.6 562.4h3.2v3.2h-3.2zM43.6 565.4h3.2v3.2h-3.2zM64.6 565.4h3.2v3.2h-3.2zM43.6 568.4h3.2v3.2h-3.2zM64.6 568.4h3.2v3.2h-3.2zM43.6 571.4h3.2v3.2h-3.2zM58.6 586.4h3.2v3.2h-3.2z"/>
<path fill="#fc4e4e" d="M67.6 544.4h3.2v3.2h-3.2zM67.6 547.4h3.2v3.2h-3.2zM67.6 550.4h3.2v3.2h-3.2zM67.6 553.4h3.2v3.2h-3.2zM67.6 556.4h3.2v3.2h-3.2zM67.6 559.4h3.2v3.2h-3.2zM67.6 562.4h3.2v3.2h-3.2z"/>
<path fill="#fc6f6f" d="M73.6 544.4h3.2v3.2h-3.2zM70.6 583.4h3.2v3.2h-3.2zM46.6 595.4h3.2v3.2h-3.2z"/>
<path fill="#fcc3c3" d="M112.6 544.4h3.2v3.2h-3.2zM112.6 547.4h3.2v3.2h-3.2zM109.6 550.4h3.2v3.2h-3.2zM109.6 553.4h3.2v3.2h-3.2zM106.6 556.4h3.2v3.2h-3.2zM103.6 559.4h3.2v3.2h-3.2zM100.6 562.4h3.2v3.2h-3.2zM97.6 565.4h3.2v3.2h-3.2zM94.6 571.4h3.2v3.2h-3.2zM91.6 577.4h3.2v3.2h-3.2zM31.6 589.4h3.2v3.2h-3.2z"/>
<path fill="#ffc3c6" d="M115.6 544.4h3.2v3.2h-3.2zM109.6 559.4h3.2v3.2h-3.2zM94.6 574.4h3.2v3.2h-3.2zM85.6 589.4h3.2v3.2h-3.2z"/>
<path fill="#fc575a" d="M40.6 547.4h3.2v3.2h-3.2zM40.6 550.4h3.2v3.2h-3.2zM40.6 553.4h3.2v3.2h-3.2zM40.6 556.4h3.2v3.2h-3.2zM40.6 574.4h3.2v3.2h-3.2zM40.6 577.4h3.2v3.2h-3.2zM43.6 589.4h3.2v3.2h-3.2zM49.6 592.4h3.2v3.2h-3.2z"/>
<path fill="#fcbdc0" d="M103.6 547.4h3.2v3.2h-3.2zM100.6 553.4h3.2v3.2h-3.2zM97.6 559.4h3.2v3.2h-3.2zM85.6 586.4h3.2v3.2h-3.2zM82.6 589.4h3.2v3.2h-3.2zM37.6 601.4h3.2v3.2h-3.2z"/>
<path fill="#ffcccf" d="M127.6 547.4h9.2v3.2h-9.2z"/>
<path fill="#fcb1b4" d="M91.6 550.4h3.2v3.2h-3.2zM82.6 583.4h3.2v3.2h-3.2zM79.6 589.4h3.2v3.2h-3.2z"/>
<path fill="#fcbabd" d="M97.6 550.4h3.2v3.2h-3.2zM94.6 562.4h3.2v3.2h-3.2zM91.6 568.4h3.2v3.2h-3.2zM79.6 592.4h3.2v3.2h-3.2z"/>
<path fill="#ffcfcf" d="M127.6 550.4h9.2v3.2h-9.2zM127.6 553.4h9.2v3.2h-9.2zM124.6 556.4h12.2v3.2h-12.2zM124.6 559.4h3.2v3.2h-3.2zM121.6 562.4h3.2v3.2h-3.2zM118.6 565.4h3.2v3.2h-3.2zM115.6 568.4h6.2v3.2h-6.2zM112.6 571.4h3.2v3.2h-3.2zM106.6 574.4h6.2v3.2h-6.2zM100.6 577.4h6.2v3.2h-6.2zM97.6 580.4h3.2v3.2h-3.2zM94.6 586.4h3.2v3.2h-3.2zM31.6 595.4h3.2v3.2h-3.2zM82.6 595.4h3.2v3.2h-3.2zM79.6 598.4h3.2v3.2h-3.2zM34.6 601.4h3.2v3.2h-3.2zM37.6 604.4h3.2v3.2h-3.2zM70.6 604.4h3.2v3.2h-3.2z"/>
<path fill="#fca2a5" d="M85.6 553.4h3.2v3.2h-3.2zM85.6 556.4h3.2v3.2h-3.2zM82.6 568.4h3.2v3.2h-3.2zM79.6 583.4h3.2v3.2h-3.2z"/>
<path fill="#fcb4b4" d="M91.6 553.4h3.2v3.2h-3.2zM31.6 556.4h3.2v3.2h-3.2zM91.6 556.4h3.2v3.2h-3.2zM31.6 559.4h3.2v3.2h-3.2zM91.6 559.4h3.2v3.2h-3.2zM31.6 562.4h3.2v3.2h-3.2zM31.6 565.4h3.2v3.2h-3.2zM31.6 568.4h3.2v3.2h-3.2zM88.6 568.4h3.2v3.2h-3.2zM61.6 604.4h3.2v3.2h-3.2z"/>
<path fill="#ffcfd2" d="M28.6 556.4h3.2v3.2h-3.2zM28.6 559.4h3.2v3.2h-3.2zM127.6 559.4h9.2v3.2h-9.2zM28.6 562.4h3.2v3.2h-3.2zM124.6 562.4h3.2v3.2h-3.2zM28.6 565.4h3.2v3.2h-3.2zM121.6 565.4h3.2v3.2h-3.2zM28.6 568.4h3.2v3.2h-3.2zM115.6 571.4h3.2v3.2h-3.2zM112.6 574.4h3.2v3.2h-3.2zM106.6 577.4h3.2v3.2h-3.2zM91.6 589.4h3.2v3.2h-3.2z"/>
<path fill="#fc7275" d="M37.6 556.4h3.2v3.2h-3.2zM37.6 559.4h3.2v3.2h-3.2zM37.6 562.4h3.2v3.2h-3.2zM37.6 565.4h3.2v3.2h-3.2zM73.6 568.4h3.2v3.2h-3.2zM37.6 571.4h3.2v3.2h-3.2zM61.6 595.4h3.2v3.2h-3.2z"/>
<path fill="#fcabae" d="M88.6 556.4h3.2v3.2h-3.2zM70.6 598.4h3.2v3.2h-3.2zM52.6 604.4h6.2v3.2h-6.2z"/>
<path fill="#fcb7ba" d="M94.6 556.4h3.2v3.2h-3.2zM88.6 574.4h3.2v3.2h-3.2zM34.6 595.4h3.2v3.2h-3.2z"/>
<path fill="#fc9393" d="M34.6 559.4h3.2v3.2h-3.2zM34.6 562.4h3.2v3.2h-3.2zM34.6 565.4h3.2v3.2h-3.2zM79.6 565.4h3.2v3.2h-3.2zM34.6 568.4h3.2v3.2h-3.2zM34.6 571.4h3.2v3.2h-3.2zM73.6 589.4h3.2v3.2h-3.2zM37.6 592.4h3.2v3.2h-3.2zM64.6 598.4h3.2v3.2h-3.2z"/>
<path fill="#fc5757" d="M40.6 559.4h3.2v3.2h-3.2zM40.6 562.4h3.2v3.2h-3.2zM40.6 565.4h3.2v3.2h-3.2zM40.6 568.4h3.2v3.2h-3.2zM40.6 571.4h3.2v3.2h-3.2zM67.6 580.4h3.2v3.2h-3.2zM52.6 592.4h6.2v3.2h-6.2z"/>
<path fill="#fc9c9f" d="M82.6 559.4h3.2v3.2h-3.2z"/>
<path fill="#fca5a5" d="M85.6 559.4h3.2v3.2h-3.2zM82.6 571.4h3.2v3.2h-3.2zM34.6 589.4h3.2v3.2h-3.2zM76.6 589.4h3.2v3.2h-3.2z"/>
<path fill="#fcaeae" d="M88.6 559.4h3.2v3.2h-3.2zM85.6 571.4h3.2v3.2h-3.2zM82.6 580.4h3.2v3.2h-3.2zM34.6 592.4h3.2v3.2h-3.2zM76.6 592.4h3.2v3.2h-3.2zM37.6 598.4h3.2v3.2h-3.2zM40.6 601.4h3.2v3.2h-3.2zM49.6 604.4h3.2v3.2h-3.2z"/>
<path fill="#ffc9cc" d="M118.6 559.4h3.2v3.2h-3.2zM103.6 571.4h3.2v3.2h-3.2z"/>
<path fill="#fc8484" d="M76.6 562.4h3.2v3.2h-3.2zM76.6 565.4h3.2v3.2h-3.2zM46.6 598.4h3.2v3.2h-3.2z"/>
<path fill="#fc9093" d="M79.6 562.4h3.2v3.2h-3.2z"/>
<path fill="#fc9f9f" d="M82.6 562.4h3.2v3.2h-3.2zM79.6 580.4h3.2v3.2h-3.2zM34.6 586.4h3.2v3.2h-3.2zM73.6 592.4h3.2v3.2h-3.2zM67.6 598.4h3.2v3.2h-3.2zM61.6 601.4h3.2v3.2h-3.2z"/>
<path fill="#fca5a8" d="M85.6 562.4h3.2v3.2h-3.2z"/>
<path fill="#fcaeb1" d="M88.6 562.4h3.2v3.2h-3.2zM85.6 574.4h3.2v3.2h-3.2zM58.6 604.4h3.2v3.2h-3.2z"/>
<path fill="#fca8a8" d="M85.6 565.4h3.2v3.2h-3.2zM82.6 574.4h3.2v3.2h-3.2zM64.6 601.4h3.2v3.2h-3.2z"/>
<path fill="#ffc6c9" d="M106.6 565.4h3.2v3.2h-3.2zM100.6 568.4h3.2v3.2h-3.2zM97.6 571.4h3.2v3.2h-3.2z"/>
<path fill="#ffd5d5" d="M127.6 565.4h9.2v3.2h-9.2zM124.6 568.4h12.2v3.2h-12.2zM121.6 571.4h6.2v3.2h-6.2zM118.6 574.4h6.2v3.2h-6.2zM115.6 577.4h3.2v3.2h-3.2zM109.6 580.4h6.2v3.2h-6.2zM28.6 583.4h3.2v3.2h-3.2zM103.6 583.4h6.2v3.2h-6.2zM97.6 586.4h6.2v3.2h-6.2zM94.6 589.4h3.2v3.2h-3.2zM91.6 592.4h3.2v3.2h-3.2zM40.6 607.4h3.2v3.2h-3.2z"/>
<path fill="#fc8787" d="M76.6 568.4h3.2v3.2h-3.2zM37.6 589.4h3.2v3.2h-3.2z"/>
<path fill="#fc6363" d="M70.6 571.4h3.2v3.2h-3.2zM67.6 586.4h3.2v3.2h-3.2z"/>
<path fill="#fc878a" d="M76.6 571.4h3.2v3.2h-3.2zM73.6 586.4h3.2v3.2h-3.2zM61.6 598.4h3.2v3.2h-3.2z"/>
<path fill="#ffd8d8" d="M127.6 571.4h9.2v3.2h-9.2zM124.6 574.4h3.2v3.2h-3.2zM121.6 577.4h3.2v3.2h-3.2zM115.6 580.4h6.2v3.2h-6.2zM112.6 583.4h6.2v3.2h-6.2zM103.6 586.4h9.2v3.2h-9.2zM97.6 589.4h3.2v3.2h-3.2zM94.6 592.4h3.2v3.2h-3.2zM88.6 595.4h3.2v3.2h-3.2zM31.6 598.4h3.2v3.2h-3.2zM82.6 598.4h3.2v3.2h-3.2zM73.6 604.4h3.2v3.2h-3.2zM67.6 607.4h3.2v3.2h-3.2z"/>
<path fill="#fc6366" d="M70.6 574.4h3.2v3.2h-3.2zM40.6 586.4h3.2v3.2h-3.2z"/>
<path fill="#fc8a8a" d="M76.6 574.4h3.2v3.2h-3.2zM40.6 595.4h3.2v3.2h-3.2z"/>
<path fill="#fc9999" d="M79.6 574.4h3.2v3.2h-3.2zM34.6 583.4h3.2v3.2h-3.2zM46.6 601.4h3.2v3.2h-3.2zM58.6 601.4h3.2v3.2h-3.2z"/>
<path fill="#ffd8db" d="M127.6 574.4h9.2v3.2h-9.2zM100.6 589.4h3.2v3.2h-3.2zM52.6 610.4h3.2v3.2h-3.2z"/>
<path fill="#fc5454" d="M67.6 577.4h3.2v3.2h-3.2zM64.6 586.4h3.2v3.2h-3.2z"/>
<path fill="#fc6666" d="M70.6 577.4h3.2v3.2h-3.2z"/>
<path fill="#fc787b" d="M73.6 577.4h3.2v3.2h-3.2zM37.6 583.4h3.2v3.2h-3.2z"/>
<path fill="#ffd5d8" d="M118.6 577.4h3.2v3.2h-3.2zM109.6 583.4h3.2v3.2h-3.2zM28.6 586.4h3.2v3.2h-3.2z"/>
<path fill="#ffdbdb" d="M124.6 577.4h12.2v3.2h-12.2zM121.6 580.4h6.2v3.2h-6.2zM118.6 583.4h3.2v3.2h-3.2zM112.6 586.4h6.2v3.2h-6.2zM28.6 589.4h3.2v3.2h-3.2zM103.6 589.4h9.2v3.2h-9.2zM97.6 592.4h3.2v3.2h-3.2zM91.6 595.4h3.2v3.2h-3.2zM85.6 598.4h3.2v3.2h-3.2zM79.6 601.4h3.2v3.2h-3.2zM34.6 604.4h3.2v3.2h-3.2zM46.6 610.4h6.2v3.2h-6.2zM55.6 610.4h3.2v3.2h-3.2z"/>
<path fill="#fc6969" d="M70.6 580.4h3.2v3.2h-3.2zM52.6 595.4h6.2v3.2h-6.2z"/>
<path fill="#fc7b7b" d="M73.6 580.4h3.2v3.2h-3.2zM40.6 592.4h3.2v3.2h-3.2z"/>
<path fill="#ffdede" d="M127.6 580.4h9.2v3.2h-9.2zM124.6 583.4h12.2v3.2h-12.2zM118.6 586.4h6.2v3.2h-6.2zM112.6 589.4h6.2v3.2h-6.2zM28.6 592.4h3.2v3.2h-3.2zM100.6 592.4h9.2v3.2h-9.2zM94.6 595.4h3.2v3.2h-3.2zM88.6 598.4h3.2v3.2h-3.2zM76.6 604.4h3.2v3.2h-3.2zM37.6 607.4h3.2v3.2h-3.2zM70.6 607.4h3.2v3.2h-3.2z"/>
<path fill="#ffeaea" d="M25.6 583.4h3.2v3.2h-3.2zM25.6 586.4h3.2v3.2h-3.2zM127.6 595.4h9.2v3.2h-9.2zM118.6 598.4h9.2v3.2h-9.2zM97.6 601.4h18.2v3.2h-18.2zM31.6 604.4h3.2v3.2h-3.2zM85.6 604.4h6.2v3.2h-6.2zM76.6 607.4h3.2v3.2h-3.2zM70.6 610.4h3.2v3.2h-3.2zM46.6 613.4h6.2v3.2h-6.2zM55.6 613.4h6.2v3.2h-6.2z"/>
<path fill="#f93c3f" d="M61.6 583.4h3.2v3.2h-3.2zM52.6 586.4h6.2v3.2h-6.2z"/>
<path fill="#fc4b4e" d="M64.6 583.4h3.2v3.2h-3.2zM46.6 589.4h3.2v3.2h-3.2z"/>
<path fill="#ffd2d5" d="M100.6 583.4h3.2v3.2h-3.2z"/>
<path fill="#ffdbde" d="M121.6 583.4h3.2v3.2h-3.2zM58.6 610.4h3.2v3.2h-3.2z"/>
<path fill="#fc7e81" d="M37.6 586.4h3.2v3.2h-3.2zM70.6 589.4h3.2v3.2h-3.2zM64.6 595.4h3.2v3.2h-3.2zM49.6 598.4h3.2v3.2h-3.2z"/>
<path fill="#f93f3f" d="M49.6 586.4h3.2v3.2h-3.2z"/>
<path fill="#ffe1e1" d="M124.6 586.4h12.2v3.2h-12.2zM121.6 589.4h3.2v3.2h-3.2zM112.6 592.4h6.2v3.2h-6.2zM97.6 595.4h9.2v3.2h-9.2zM91.6 598.4h3.2v3.2h-3.2zM31.6 601.4h3.2v3.2h-3.2zM82.6 601.4h6.2v3.2h-6.2z"/>
<path fill="#fff6f6" d="M22.6 589.4h3.2v3.2h-3.2zM22.6 592.4h3.2v3.2h-3.2zM25.6 601.4h3.2v3.2h-3.2zM28.6 607.4h3.2v3.2h-3.2zM127.6 607.4h9.2v3.2h-9.2zM31.6 610.4h3.2v3.2h-3.2zM82.6 610.4h36.2v3.2h-36.2zM34.6 613.4h3.2v3.2h-3.2zM73.6 613.4h3.2v3.2h-3.2zM40.6 616.4h9.2v3.2h-9.2zM61.6 616.4h12.2v3.2h-12.2zM43.6 619.4h24.2v3.2h-24.2z"/>
<path fill="#ffeded" d="M25.6 589.4h3.2v3.2h-3.2zM127.6 598.4h9.2v3.2h-9.2zM28.6 601.4h3.2v3.2h-3.2zM115.6 601.4h12.2v3.2h-12.2zM91.6 604.4h18.2v3.2h-18.2zM79.6 607.4h3.2v3.2h-3.2zM37.6 610.4h3.2v3.2h-3.2zM43.6 613.4h3.2v3.2h-3.2zM61.6 613.4h6.2v3.2h-6.2z"/>
<path fill="#fc6c6c" d="M40.6 589.4h3.2v3.2h-3.2z"/>
<path fill="#f94b4b" d="M58.6 589.4h3.2v3.2h-3.2z"/>
<path fill="#fc6c6f" d="M67.6 589.4h3.2v3.2h-3.2zM64.6 592.4h3.2v3.2h-3.2zM58.6 595.4h3.2v3.2h-3.2z"/>
<path fill="#ffdee1" d="M118.6 589.4h3.2v3.2h-3.2zM109.6 592.4h3.2v3.2h-3.2zM43.6 610.4h3.2v3.2h-3.2zM61.6 610.4h3.2v3.2h-3.2z"/>
<path fill="#ffe1e4" d="M124.6 589.4h3.2v3.2h-3.2zM106.6 595.4h3.2v3.2h-3.2zM94.6 598.4h3.2v3.2h-3.2z"/>
<path fill="#ffe4e4" d="M127.6 589.4h9.2v3.2h-9.2zM118.6 592.4h9.2v3.2h-9.2zM28.6 595.4h3.2v3.2h-3.2zM109.6 595.4h9.2v3.2h-9.2zM97.6 598.4h3.2v3.2h-3.2zM88.6 601.4h3.2v3.2h-3.2zM79.6 604.4h3.2v3.2h-3.2zM73.6 607.4h3.2v3.2h-3.2zM64.6 610.4h3.2v3.2h-3.2z"/>
<path fill="#fff0f0" d="M25.6 592.4h3.2v3.2h-3.2zM127.6 601.4h9.2v3.2h-9.2zM109.6 604.4h18.2v3.2h-18.2zM31.6 607.4h3.2v3.2h-3.2zM82.6 607.4h15.2v3.2h-15.2zM34.6 610.4h3.2v3.2h-3.2zM73.6 610.4h3.2v3.2h-3.2zM40.6 613.4h3.2v3.2h-3.2zM67.6 613.4h3.2v3.2h-3.2z"/>
<path fill="#fc6669" d="M43.6 592.4h3.2v3.2h-3.2z"/>
<path fill="#fc7b7e" d="M67.6 592.4h3.2v3.2h-3.2z"/>
<path fill="#fff9f9" d="M22.6 595.4h3.2v3.2h-3.2zM22.6 598.4h3.2v3.2h-3.2zM25.6 604.4h3.2v3.2h-3.2zM28.6 610.4h3.2v3.2h-3.2zM121.6 610.4h15.2v3.2h-15.2zM76.6 613.4h45.2v3.2h-45.2zM34.6 616.4h6.2v3.2h-6.2zM73.6 616.4h48.2v3.2h-48.2zM37.6 619.4h6.2v3.2h-6.2zM70.6 619.4h48.2v3.2h-48.2z"/>
<path fill="#fff0f3" d="M25.6 595.4h3.2v3.2h-3.2z"/>
<path fill="#fc9fa2" d="M37.6 595.4h3.2v3.2h-3.2zM43.6 601.4h3.2v3.2h-3.2z"/>
<path fill="#fc696c" d="M49.6 595.4h3.2v3.2h-3.2z"/>
<path fill="#fc8a8d" d="M43.6 598.4h3.2v3.2h-3.2z"/>
<path fill="#fc7e7e" d="M52.6 598.4h6.2v3.2h-6.2z"/>
<path fill="#ffe4e7" d="M100.6 598.4h3.2v3.2h-3.2zM40.6 610.4h3.2v3.2h-3.2z"/>
<path fill="#ffe7ea" d="M115.6 598.4h3.2v3.2h-3.2zM52.6 613.4h3.2v3.2h-3.2z"/>
<path fill="#fffcfc" d="M22.6 601.4h3.2v3.2h-3.2zM22.6 604.4h3.2v3.2h-3.2zM25.6 607.4h3.2v3.2h-3.2zM25.6 610.4h3.2v3.2h-3.2zM28.6 613.4h6.2v3.2h-6.2zM121.6 613.4h15.2v3.2h-15.2zM28.6 616.4h6.2v3.2h-6.2zM121.6 616.4h15.2v3.2h-15.2zM31.6 619.4h6.2v3.2h-6.2zM121.6 619.4h15.2v3.2h-15.2z"/>
<path fill="#fff3f6" d="M124.6 607.4h3.2v3.2h-3.2z"/>
<path fill="#fff6f9" d="M118.6 610.4h3.2v3.2h-3.2zM67.6 619.4h3.2v3.2h-3.2z"/>
<path fill="#fff9fc" d="M118.6 619.4h3.2v3.2h-3.2z"/>
</g>
<path d="M52.3 499.6V613.6M25.5 584.1H128.4M76.8 499.6V613.6M25.5 557H128.4M101.2 499.6V613.6M25.5 529.9H128.4" fill="none" stroke="#fff" stroke-opacity="0.14" stroke-width="0.6"/>
<path d="M50.8 541V574.5C50.8 580 55.8 580 55.8 574.5V541M47.8 499V575.9C47.8 587 59 587 59 575.9V499M45.2 499V575.9C45.2 592 62 592 62 575.9V499M42.7 499V574.9C42.7 596 65 596 65 574.9V499M40.2 499V572.5C40.2 599 68.5 599 68.5 572.5V499M37.6 499V570C37.6 602 72 602 72 570V499" fill="none" stroke="#fff" stroke-opacity="0.2" stroke-width="0.5"/>
<rect x="52.8" y="501.8" width="48.5" height="55.5" fill="#a8a8a8" fill-opacity="0.17"/>
<path d="M52.8 501.8V557.3M52.8 557.3H101.2" fill="none" stroke="#fff" stroke-opacity="0.32" stroke-width="0.6"/>
</g>
<rect x="25.6" y="499.4" width="102.8" height="114.3" fill="none" stroke="#68686c" stroke-width="1.1"/>
<text x="27.8" y="622" font-size="8" text-anchor="middle" font-weight="bold" stroke="#000" stroke-width="0.18">0</text>
<text x="52.3" y="622" font-size="8" text-anchor="middle" font-weight="bold" stroke="#000" stroke-width="0.18">10</text>
<text x="76.8" y="622" font-size="8" text-anchor="middle" font-weight="bold" stroke="#000" stroke-width="0.18">20</text>
<text x="101.2" y="622" font-size="8" text-anchor="middle" font-weight="bold" stroke="#000" stroke-width="0.18">50</text>
<text x="125.7" y="622" font-size="8" text-anchor="middle" font-weight="bold" stroke="#000" stroke-width="0.18">70</text>
<text x="24.2" y="505.7" font-size="8" text-anchor="end" font-weight="bold" stroke="#000" stroke-width="0.18">70</text>
<text x="24.2" y="532.8" font-size="8" text-anchor="end" font-weight="bold" stroke="#000" stroke-width="0.18">50</text>
<text x="24.2" y="559.9" font-size="8" text-anchor="end" font-weight="bold" stroke="#000" stroke-width="0.18">20</text>
<text x="24.2" y="587" font-size="8" text-anchor="end" font-weight="bold" stroke="#000" stroke-width="0.18">10</text>
<text x="24.2" y="614.1" font-size="8" text-anchor="end" font-weight="bold" stroke="#000" stroke-width="0.18">0</text>
<text x="75.2" y="631.4" font-size="8" text-anchor="middle" font-weight="bold" stroke="#000" stroke-width="0.18">AXLi (µmol/L)</text>
<text x="12.2" y="550.7" font-size="8" text-anchor="middle" font-weight="bold" stroke="#000" stroke-width="0.18" transform="rotate(-90 12.2 550.7)">MEKi (µmol/L)</text>
</g>
<g>
<rect x="172" y="494.3" width="28.9" height="1.9" fill="url(#cbg2)"/>
<rect x="209.4" y="494.3" width="31.2" height="1.9" fill="url(#cbr2)"/>
<text x="175.4" y="493.8" font-size="8" text-anchor="middle" font-weight="bold" stroke="#000" stroke-width="0.18">-20</text>
<text x="206" y="493.8" font-size="8" text-anchor="middle" font-weight="bold" stroke="#000" stroke-width="0.18">0</text>
<text x="236.4" y="493.8" font-size="8" text-anchor="middle" font-weight="bold" stroke="#000" stroke-width="0.18">20</text>
<text x="207.1" y="474.4" font-size="8" text-anchor="middle" font-weight="bold" stroke="#000" stroke-width="0.18">Bliss synergy</text>
<text x="207.1" y="484.3" font-size="8" text-anchor="middle" font-weight="bold" stroke="#000" stroke-width="0.18">score 5.232</text>
<rect x="155.8" y="499.3" width="102.7" height="114.4" fill="#fff"/>
<g clip-path="url(#hc2)">
<g filter="url(#hblur)">
<path fill="#fcfffc" d="M155.8 496.3h12.2v3.2h-12.2zM158.8 499.3h6.2v3.2h-6.2zM155.8 514.3h3.2v3.2h-3.2zM155.8 517.3h6.2v3.2h-6.2zM155.8 520.3h6.2v3.2h-6.2zM155.8 523.3h6.2v3.2h-6.2zM167.8 568.3h3.2v3.2h-3.2zM182.8 568.3h3.2v3.2h-3.2zM155.8 571.3h3.2v3.2h-3.2zM209.8 577.3h3.2v3.2h-3.2zM212.8 580.3h9.2v3.2h-9.2zM227.8 580.3h3.2v3.2h-3.2zM218.8 583.3h3.2v3.2h-3.2zM230.8 586.3h3.2v3.2h-3.2zM221.8 595.3h3.2v3.2h-3.2zM209.8 598.3h3.2v3.2h-3.2zM221.8 598.3h3.2v3.2h-3.2zM230.8 598.3h3.2v3.2h-3.2zM209.8 601.3h3.2v3.2h-3.2zM221.8 601.3h3.2v3.2h-3.2zM155.8 604.3h3.2v3.2h-3.2zM209.8 604.3h3.2v3.2h-3.2zM221.8 604.3h9.2v3.2h-9.2zM155.8 607.3h3.2v3.2h-3.2zM206.8 607.3h6.2v3.2h-6.2zM224.8 607.3h6.2v3.2h-6.2zM158.8 610.3h3.2v3.2h-3.2zM203.8 610.3h6.2v3.2h-6.2zM224.8 610.3h6.2v3.2h-6.2zM158.8 613.3h6.2v3.2h-6.2zM200.8 613.3h6.2v3.2h-6.2zM158.8 616.3h6.2v3.2h-6.2zM200.8 616.3h6.2v3.2h-6.2zM158.8 619.3h6.2v3.2h-6.2zM200.8 619.3h6.2v3.2h-6.2z"/>
<path fill="#fff9f9" d="M170.8 496.3h3.2v3.2h-3.2zM170.8 499.3h3.2v3.2h-3.2zM167.8 502.3h3.2v3.2h-3.2zM164.8 505.3h3.2v3.2h-3.2zM164.8 508.3h3.2v3.2h-3.2zM164.8 511.3h3.2v3.2h-3.2zM164.8 514.3h3.2v3.2h-3.2zM164.8 517.3h3.2v3.2h-3.2zM161.8 523.3h3.2v3.2h-3.2zM158.8 526.3h3.2v3.2h-3.2zM155.8 529.3h3.2v3.2h-3.2zM152.8 532.3h3.2v3.2h-3.2zM152.8 565.3h3.2v3.2h-3.2zM185.8 568.3h3.2v3.2h-3.2zM221.8 577.3h3.2v3.2h-3.2zM230.8 583.3h3.2v3.2h-3.2zM212.8 586.3h3.2v3.2h-3.2zM212.8 589.3h6.2v3.2h-6.2zM212.8 592.3h6.2v3.2h-6.2zM233.8 607.3h3.2v3.2h-3.2z"/>
<path fill="#fff3f3" d="M173.8 496.3h3.2v3.2h-3.2zM173.8 499.3h3.2v3.2h-3.2zM170.8 505.3h3.2v3.2h-3.2zM167.8 511.3h3.2v3.2h-3.2zM167.8 514.3h3.2v3.2h-3.2zM161.8 526.3h3.2v3.2h-3.2zM158.8 529.3h3.2v3.2h-3.2zM152.8 538.3h3.2v3.2h-3.2zM152.8 559.3h3.2v3.2h-3.2zM209.8 574.3h3.2v3.2h-3.2zM233.8 592.3h3.2v3.2h-3.2zM233.8 595.3h3.2v3.2h-3.2zM233.8 598.3h3.2v3.2h-3.2zM236.8 607.3h3.2v3.2h-3.2zM239.8 610.3h3.2v3.2h-3.2z"/>
<path fill="#fff0f0" d="M176.8 496.3h3.2v3.2h-3.2zM176.8 499.3h3.2v3.2h-3.2zM173.8 502.3h3.2v3.2h-3.2zM170.8 508.3h3.2v3.2h-3.2zM167.8 517.3h3.2v3.2h-3.2zM164.8 523.3h3.2v3.2h-3.2zM155.8 535.3h3.2v3.2h-3.2zM155.8 562.3h3.2v3.2h-3.2zM158.8 565.3h3.2v3.2h-3.2zM188.8 568.3h3.2v3.2h-3.2zM212.8 574.3h3.2v3.2h-3.2zM227.8 577.3h3.2v3.2h-3.2zM230.8 580.3h3.2v3.2h-3.2zM233.8 589.3h3.2v3.2h-3.2zM242.8 613.3h3.2v3.2h-3.2zM242.8 616.3h3.2v3.2h-3.2zM242.8 619.3h3.2v3.2h-3.2z"/>
<path fill="#ffeaea" d="M179.8 496.3h3.2v3.2h-3.2zM179.8 499.3h3.2v3.2h-3.2zM176.8 505.3h3.2v3.2h-3.2zM173.8 508.3h3.2v3.2h-3.2zM170.8 514.3h3.2v3.2h-3.2zM164.8 526.3h3.2v3.2h-3.2zM161.8 529.3h3.2v3.2h-3.2zM152.8 544.3h3.2v3.2h-3.2zM152.8 547.3h3.2v3.2h-3.2zM152.8 550.3h3.2v3.2h-3.2zM152.8 553.3h3.2v3.2h-3.2zM191.8 568.3h3.2v3.2h-3.2zM218.8 574.3h3.2v3.2h-3.2zM233.8 586.3h3.2v3.2h-3.2zM236.8 601.3h3.2v3.2h-3.2zM239.8 607.3h3.2v3.2h-3.2zM242.8 610.3h3.2v3.2h-3.2z"/>
<path fill="#ffe4e4" d="M182.8 496.3h3.2v3.2h-3.2zM182.8 499.3h3.2v3.2h-3.2zM179.8 505.3h3.2v3.2h-3.2zM173.8 514.3h3.2v3.2h-3.2zM170.8 520.3h3.2v3.2h-3.2zM158.8 535.3h3.2v3.2h-3.2zM167.8 565.3h3.2v3.2h-3.2zM194.8 568.3h3.2v3.2h-3.2zM233.8 583.3h3.2v3.2h-3.2zM239.8 604.3h3.2v3.2h-3.2z"/>
<path fill="#ffdbde" d="M185.8 496.3h3.2v3.2h-3.2z"/>
<path fill="#ffd5d5" d="M188.8 496.3h3.2v3.2h-3.2zM188.8 499.3h3.2v3.2h-3.2zM185.8 505.3h3.2v3.2h-3.2zM176.8 517.3h3.2v3.2h-3.2zM161.8 559.3h3.2v3.2h-3.2zM176.8 565.3h3.2v3.2h-3.2zM203.8 568.3h3.2v3.2h-3.2zM239.8 598.3h3.2v3.2h-3.2zM245.8 607.3h3.2v3.2h-3.2zM248.8 610.3h3.2v3.2h-3.2z"/>
<path fill="#ffcfcf" d="M191.8 496.3h3.2v3.2h-3.2zM185.8 508.3h3.2v3.2h-3.2zM182.8 511.3h3.2v3.2h-3.2zM170.8 526.3h3.2v3.2h-3.2zM161.8 538.3h3.2v3.2h-3.2zM158.8 547.3h3.2v3.2h-3.2zM158.8 550.3h3.2v3.2h-3.2zM167.8 562.3h3.2v3.2h-3.2zM179.8 565.3h3.2v3.2h-3.2zM206.8 568.3h3.2v3.2h-3.2zM233.8 577.3h3.2v3.2h-3.2zM239.8 595.3h3.2v3.2h-3.2zM242.8 601.3h3.2v3.2h-3.2zM251.8 613.3h3.2v3.2h-3.2zM251.8 616.3h3.2v3.2h-3.2zM251.8 619.3h3.2v3.2h-3.2z"/>
<path fill="#ffc6c6" d="M194.8 496.3h3.2v3.2h-3.2zM188.8 508.3h3.2v3.2h-3.2zM185.8 511.3h3.2v3.2h-3.2zM170.8 562.3h3.2v3.2h-3.2zM191.8 565.3h6.2v3.2h-6.2zM212.8 568.3h3.2v3.2h-3.2zM224.8 571.3h3.2v3.2h-3.2zM242.8 598.3h3.2v3.2h-3.2zM251.8 610.3h3.2v3.2h-3.2z"/>
<path fill="#fcbdbd" d="M197.8 496.3h3.2v3.2h-3.2zM191.8 508.3h3.2v3.2h-3.2zM188.8 511.3h3.2v3.2h-3.2zM185.8 514.3h3.2v3.2h-3.2zM161.8 547.3h3.2v3.2h-3.2zM161.8 550.3h3.2v3.2h-3.2zM164.8 556.3h3.2v3.2h-3.2zM167.8 559.3h3.2v3.2h-3.2zM227.8 571.3h3.2v3.2h-3.2zM233.8 574.3h3.2v3.2h-3.2zM242.8 595.3h3.2v3.2h-3.2zM248.8 604.3h3.2v3.2h-3.2z"/>
<path fill="#fcb4b4" d="M200.8 496.3h3.2v3.2h-3.2zM194.8 508.3h3.2v3.2h-3.2zM191.8 511.3h3.2v3.2h-3.2zM185.8 517.3h3.2v3.2h-3.2zM182.8 520.3h3.2v3.2h-3.2zM179.8 523.3h3.2v3.2h-3.2zM176.8 562.3h3.2v3.2h-3.2zM209.8 565.3h3.2v3.2h-3.2zM257.8 613.3h9.2v3.2h-9.2zM257.8 616.3h9.2v3.2h-9.2zM257.8 619.3h9.2v3.2h-9.2z"/>
<path fill="#fcabab" d="M203.8 496.3h3.2v3.2h-3.2zM197.8 508.3h3.2v3.2h-3.2zM194.8 511.3h3.2v3.2h-3.2zM164.8 547.3h3.2v3.2h-3.2zM164.8 550.3h3.2v3.2h-3.2zM182.8 562.3h9.2v3.2h-9.2zM257.8 610.3h9.2v3.2h-9.2z"/>
<path fill="#fca2a2" d="M206.8 496.3h3.2v3.2h-3.2zM206.8 499.3h3.2v3.2h-3.2zM200.8 508.3h3.2v3.2h-3.2zM197.8 511.3h3.2v3.2h-3.2zM167.8 553.3h3.2v3.2h-3.2zM251.8 601.3h3.2v3.2h-3.2z"/>
<path fill="#fc999c" d="M209.8 496.3h3.2v3.2h-3.2zM170.8 538.3h3.2v3.2h-3.2zM167.8 550.3h3.2v3.2h-3.2zM245.8 589.3h3.2v3.2h-3.2z"/>
<path fill="#fc9393" d="M212.8 496.3h3.2v3.2h-3.2zM212.8 499.3h3.2v3.2h-3.2zM206.8 508.3h3.2v3.2h-3.2zM203.8 511.3h3.2v3.2h-3.2zM191.8 520.3h3.2v3.2h-3.2zM179.8 529.3h3.2v3.2h-3.2zM173.8 535.3h3.2v3.2h-3.2zM203.8 556.3h3.2v3.2h-3.2zM179.8 559.3h3.2v3.2h-3.2zM188.8 559.3h3.2v3.2h-3.2zM215.8 562.3h3.2v3.2h-3.2zM221.8 565.3h3.2v3.2h-3.2zM230.8 568.3h3.2v3.2h-3.2zM239.8 574.3h3.2v3.2h-3.2zM242.8 580.3h3.2v3.2h-3.2zM245.8 586.3h3.2v3.2h-3.2z"/>
<path fill="#fc8a8d" d="M215.8 496.3h3.2v3.2h-3.2zM212.8 505.3h3.2v3.2h-3.2zM206.8 511.3h3.2v3.2h-3.2zM209.8 556.3h3.2v3.2h-3.2zM242.8 577.3h3.2v3.2h-3.2zM248.8 589.3h3.2v3.2h-3.2z"/>
<path fill="#fc8484" d="M218.8 496.3h3.2v3.2h-3.2zM218.8 499.3h3.2v3.2h-3.2zM206.8 514.3h3.2v3.2h-3.2zM197.8 520.3h3.2v3.2h-3.2zM209.8 553.3h3.2v3.2h-3.2zM176.8 556.3h3.2v3.2h-3.2zM212.8 556.3h3.2v3.2h-3.2zM215.8 559.3h3.2v3.2h-3.2zM239.8 571.3h3.2v3.2h-3.2zM248.8 586.3h3.2v3.2h-3.2zM257.8 601.3h9.2v3.2h-9.2z"/>
<path fill="#fc7e7e" d="M221.8 496.3h3.2v3.2h-3.2zM215.8 511.3h3.2v3.2h-3.2zM200.8 520.3h3.2v3.2h-3.2zM191.8 526.3h3.2v3.2h-3.2zM200.8 550.3h3.2v3.2h-3.2zM209.8 550.3h3.2v3.2h-3.2zM188.8 556.3h3.2v3.2h-3.2zM236.8 568.3h3.2v3.2h-3.2zM251.8 589.3h3.2v3.2h-3.2z"/>
<path fill="#fc7578" d="M224.8 496.3h3.2v3.2h-3.2zM224.8 499.3h3.2v3.2h-3.2zM200.8 523.3h3.2v3.2h-3.2zM200.8 547.3h3.2v3.2h-3.2zM173.8 550.3h3.2v3.2h-3.2zM197.8 550.3h3.2v3.2h-3.2zM212.8 550.3h3.2v3.2h-3.2zM242.8 571.3h3.2v3.2h-3.2zM251.8 586.3h3.2v3.2h-3.2z"/>
<path fill="#fc6f6f" d="M227.8 496.3h3.2v3.2h-3.2zM227.8 499.3h3.2v3.2h-3.2zM227.8 502.3h3.2v3.2h-3.2zM221.8 517.3h6.2v3.2h-6.2zM212.8 520.3h3.2v3.2h-3.2zM206.8 523.3h3.2v3.2h-3.2zM197.8 529.3h3.2v3.2h-3.2zM206.8 541.3h3.2v3.2h-3.2zM197.8 547.3h3.2v3.2h-3.2zM194.8 550.3h3.2v3.2h-3.2zM224.8 562.3h3.2v3.2h-3.2zM248.8 577.3h3.2v3.2h-3.2zM257.8 592.3h9.2v3.2h-9.2z"/>
<path fill="#fc6669" d="M230.8 496.3h3.2v3.2h-3.2zM230.8 499.3h3.2v3.2h-3.2zM230.8 502.3h3.2v3.2h-3.2zM230.8 508.3h3.2v3.2h-3.2zM230.8 511.3h3.2v3.2h-3.2zM215.8 523.3h3.2v3.2h-3.2zM224.8 523.3h9.2v3.2h-9.2zM206.8 532.3h3.2v3.2h-3.2zM188.8 535.3h9.2v3.2h-9.2zM197.8 538.3h3.2v3.2h-3.2zM194.8 547.3h3.2v3.2h-3.2zM215.8 547.3h3.2v3.2h-3.2zM176.8 550.3h3.2v3.2h-3.2zM191.8 550.3h3.2v3.2h-3.2zM182.8 553.3h3.2v3.2h-3.2zM251.8 577.3h3.2v3.2h-3.2zM254.8 583.3h3.2v3.2h-3.2z"/>
<path fill="#fc6060" d="M233.8 496.3h3.2v3.2h-3.2zM233.8 511.3h3.2v3.2h-3.2zM236.8 520.3h3.2v3.2h-3.2zM236.8 523.3h3.2v3.2h-3.2zM230.8 526.3h3.2v3.2h-3.2zM215.8 529.3h3.2v3.2h-3.2zM185.8 538.3h3.2v3.2h-3.2zM179.8 541.3h3.2v3.2h-3.2zM191.8 541.3h3.2v3.2h-3.2zM218.8 550.3h3.2v3.2h-3.2zM242.8 565.3h3.2v3.2h-3.2zM251.8 571.3h3.2v3.2h-3.2zM257.8 580.3h9.2v3.2h-9.2z"/>
<path fill="#fc5757" d="M236.8 496.3h3.2v3.2h-3.2zM236.8 511.3h3.2v3.2h-3.2zM230.8 529.3h6.2v3.2h-6.2zM218.8 535.3h3.2v3.2h-3.2zM218.8 544.3h3.2v3.2h-3.2zM221.8 553.3h3.2v3.2h-3.2zM248.8 562.3h3.2v3.2h-3.2z"/>
<path fill="#fc4b4e" d="M239.8 496.3h3.2v3.2h-3.2zM239.8 499.3h3.2v3.2h-3.2zM239.8 511.3h3.2v3.2h-3.2zM245.8 520.3h3.2v3.2h-3.2zM248.8 526.3h3.2v3.2h-3.2zM248.8 529.3h3.2v3.2h-3.2zM230.8 532.3h6.2v3.2h-6.2zM248.8 532.3h3.2v3.2h-3.2zM245.8 535.3h6.2v3.2h-6.2zM221.8 538.3h3.2v3.2h-3.2zM221.8 547.3h3.2v3.2h-3.2zM257.8 550.3h9.2v3.2h-9.2zM248.8 556.3h3.2v3.2h-3.2z"/>
<path fill="#f94245" d="M242.8 496.3h3.2v3.2h-3.2zM242.8 499.3h3.2v3.2h-3.2zM242.8 511.3h3.2v3.2h-3.2zM254.8 529.3h3.2v3.2h-3.2zM230.8 535.3h3.2v3.2h-3.2zM257.8 535.3h9.2v3.2h-9.2zM245.8 541.3h3.2v3.2h-3.2zM236.8 559.3h3.2v3.2h-3.2z"/>
<path fill="#f9393c" d="M245.8 496.3h3.2v3.2h-3.2zM245.8 499.3h3.2v3.2h-3.2zM257.8 526.3h9.2v3.2h-9.2zM239.8 541.3h3.2v3.2h-3.2zM242.8 553.3h3.2v3.2h-3.2z"/>
<path fill="#f93639" d="M248.8 496.3h18.2v3.2h-18.2zM248.8 499.3h18.2v3.2h-18.2zM245.8 502.3h21.2v3.2h-21.2zM245.8 505.3h21.2v3.2h-21.2zM248.8 508.3h18.2v3.2h-18.2zM248.8 511.3h18.2v3.2h-18.2zM251.8 514.3h15.2v3.2h-15.2zM251.8 517.3h15.2v3.2h-15.2zM254.8 520.3h12.2v3.2h-12.2zM257.8 523.3h9.2v3.2h-9.2zM227.8 541.3h12.2v3.2h-12.2zM227.8 544.3h15.2v3.2h-15.2zM227.8 547.3h18.2v3.2h-18.2zM227.8 550.3h18.2v3.2h-18.2zM227.8 553.3h15.2v3.2h-15.2zM230.8 556.3h9.2v3.2h-9.2z"/>
<path fill="#fffcfc" d="M167.8 499.3h3.2v3.2h-3.2zM164.8 502.3h3.2v3.2h-3.2zM161.8 505.3h3.2v3.2h-3.2zM161.8 508.3h3.2v3.2h-3.2zM161.8 511.3h3.2v3.2h-3.2zM161.8 514.3h3.2v3.2h-3.2zM152.8 526.3h3.2v3.2h-3.2zM152.8 529.3h3.2v3.2h-3.2zM152.8 568.3h9.2v3.2h-9.2zM152.8 571.3h3.2v3.2h-3.2zM206.8 574.3h3.2v3.2h-3.2zM215.8 577.3h6.2v3.2h-6.2zM212.8 583.3h3.2v3.2h-3.2zM209.8 586.3h3.2v3.2h-3.2zM215.8 586.3h3.2v3.2h-3.2zM209.8 589.3h3.2v3.2h-3.2zM209.8 592.3h3.2v3.2h-3.2zM212.8 595.3h6.2v3.2h-6.2zM212.8 598.3h6.2v3.2h-6.2zM233.8 610.3h3.2v3.2h-3.2zM209.8 613.3h6.2v3.2h-6.2zM233.8 613.3h6.2v3.2h-6.2zM209.8 616.3h6.2v3.2h-6.2zM233.8 616.3h6.2v3.2h-6.2zM209.8 619.3h6.2v3.2h-6.2zM233.8 619.3h6.2v3.2h-6.2z"/>
<path fill="#ffdbdb" d="M185.8 499.3h3.2v3.2h-3.2zM182.8 505.3h3.2v3.2h-3.2zM176.8 514.3h3.2v3.2h-3.2zM170.8 523.3h3.2v3.2h-3.2zM200.8 568.3h3.2v3.2h-3.2zM233.8 580.3h3.2v3.2h-3.2zM248.8 613.3h3.2v3.2h-3.2zM248.8 616.3h3.2v3.2h-3.2zM248.8 619.3h3.2v3.2h-3.2z"/>
<path fill="#ffcccc" d="M191.8 499.3h3.2v3.2h-3.2zM188.8 505.3h3.2v3.2h-3.2zM176.8 520.3h3.2v3.2h-3.2zM182.8 565.3h3.2v3.2h-3.2zM209.8 568.3h3.2v3.2h-3.2zM221.8 571.3h3.2v3.2h-3.2zM230.8 574.3h3.2v3.2h-3.2zM236.8 583.3h3.2v3.2h-3.2zM245.8 604.3h3.2v3.2h-3.2z"/>
<path fill="#ffc3c6" d="M194.8 499.3h3.2v3.2h-3.2z"/>
<path fill="#fcbabd" d="M197.8 499.3h3.2v3.2h-3.2zM173.8 562.3h3.2v3.2h-3.2z"/>
<path fill="#fcb1b4" d="M200.8 499.3h3.2v3.2h-3.2zM188.8 514.3h3.2v3.2h-3.2zM170.8 532.3h3.2v3.2h-3.2z"/>
<path fill="#fca8ab" d="M203.8 499.3h3.2v3.2h-3.2zM191.8 514.3h3.2v3.2h-3.2zM239.8 580.3h3.2v3.2h-3.2z"/>
<path fill="#fc9999" d="M209.8 499.3h3.2v3.2h-3.2zM206.8 505.3h3.2v3.2h-3.2zM203.8 508.3h3.2v3.2h-3.2zM200.8 511.3h3.2v3.2h-3.2zM197.8 514.3h3.2v3.2h-3.2zM182.8 526.3h3.2v3.2h-3.2zM167.8 547.3h3.2v3.2h-3.2zM176.8 559.3h3.2v3.2h-3.2zM194.8 559.3h3.2v3.2h-3.2z"/>
<path fill="#fc8a8a" d="M215.8 499.3h3.2v3.2h-3.2zM203.8 514.3h3.2v3.2h-3.2zM194.8 520.3h3.2v3.2h-3.2zM203.8 553.3h3.2v3.2h-3.2zM245.8 583.3h3.2v3.2h-3.2z"/>
<path fill="#fc7b7e" d="M221.8 499.3h3.2v3.2h-3.2zM218.8 508.3h3.2v3.2h-3.2zM206.8 517.3h3.2v3.2h-3.2zM173.8 541.3h3.2v3.2h-3.2zM212.8 553.3h3.2v3.2h-3.2zM179.8 556.3h3.2v3.2h-3.2zM221.8 562.3h3.2v3.2h-3.2zM227.8 565.3h3.2v3.2h-3.2zM248.8 583.3h3.2v3.2h-3.2z"/>
<path fill="#fc5d60" d="M233.8 499.3h3.2v3.2h-3.2zM233.8 502.3h3.2v3.2h-3.2zM233.8 505.3h3.2v3.2h-3.2zM233.8 508.3h3.2v3.2h-3.2zM236.8 517.3h3.2v3.2h-3.2zM233.8 526.3h3.2v3.2h-3.2zM215.8 541.3h3.2v3.2h-3.2zM191.8 544.3h3.2v3.2h-3.2zM179.8 550.3h3.2v3.2h-3.2zM221.8 556.3h3.2v3.2h-3.2zM257.8 565.3h9.2v3.2h-9.2zM251.8 568.3h3.2v3.2h-3.2zM257.8 568.3h9.2v3.2h-9.2zM254.8 571.3h12.2v3.2h-12.2zM254.8 574.3h12.2v3.2h-12.2zM257.8 577.3h9.2v3.2h-9.2z"/>
<path fill="#fc5457" d="M236.8 499.3h3.2v3.2h-3.2zM236.8 508.3h3.2v3.2h-3.2zM239.8 517.3h3.2v3.2h-3.2zM242.8 523.3h3.2v3.2h-3.2zM242.8 526.3h3.2v3.2h-3.2zM236.8 529.3h6.2v3.2h-6.2zM221.8 532.3h3.2v3.2h-3.2zM218.8 538.3h3.2v3.2h-3.2zM218.8 541.3h3.2v3.2h-3.2zM185.8 544.3h3.2v3.2h-3.2zM185.8 547.3h3.2v3.2h-3.2zM257.8 556.3h9.2v3.2h-9.2zM251.8 559.3h3.2v3.2h-3.2zM233.8 562.3h3.2v3.2h-3.2zM245.8 562.3h3.2v3.2h-3.2z"/>
<path fill="#fff6f6" d="M170.8 502.3h3.2v3.2h-3.2zM167.8 505.3h3.2v3.2h-3.2zM164.8 520.3h3.2v3.2h-3.2zM155.8 532.3h3.2v3.2h-3.2zM152.8 535.3h3.2v3.2h-3.2zM152.8 562.3h3.2v3.2h-3.2zM155.8 565.3h3.2v3.2h-3.2zM200.8 571.3h3.2v3.2h-3.2zM224.8 577.3h3.2v3.2h-3.2zM233.8 601.3h3.2v3.2h-3.2zM233.8 604.3h3.2v3.2h-3.2zM236.8 610.3h3.2v3.2h-3.2zM239.8 613.3h3.2v3.2h-3.2zM239.8 616.3h3.2v3.2h-3.2zM239.8 619.3h3.2v3.2h-3.2z"/>
<path fill="#ffeded" d="M176.8 502.3h3.2v3.2h-3.2zM170.8 511.3h3.2v3.2h-3.2zM167.8 520.3h3.2v3.2h-3.2zM158.8 532.3h3.2v3.2h-3.2zM155.8 538.3h3.2v3.2h-3.2zM152.8 541.3h3.2v3.2h-3.2zM152.8 556.3h3.2v3.2h-3.2zM155.8 559.3h3.2v3.2h-3.2zM161.8 565.3h3.2v3.2h-3.2zM203.8 571.3h3.2v3.2h-3.2zM215.8 574.3h3.2v3.2h-3.2zM236.8 604.3h3.2v3.2h-3.2z"/>
<path fill="#ffe7e7" d="M179.8 502.3h3.2v3.2h-3.2zM173.8 511.3h3.2v3.2h-3.2zM170.8 517.3h3.2v3.2h-3.2zM167.8 523.3h3.2v3.2h-3.2zM155.8 541.3h3.2v3.2h-3.2zM155.8 556.3h3.2v3.2h-3.2zM158.8 562.3h3.2v3.2h-3.2zM164.8 565.3h3.2v3.2h-3.2zM206.8 571.3h3.2v3.2h-3.2zM236.8 598.3h3.2v3.2h-3.2zM245.8 613.3h3.2v3.2h-3.2zM245.8 616.3h3.2v3.2h-3.2zM245.8 619.3h3.2v3.2h-3.2z"/>
<path fill="#ffe1e1" d="M182.8 502.3h3.2v3.2h-3.2zM176.8 511.3h3.2v3.2h-3.2zM161.8 532.3h3.2v3.2h-3.2zM155.8 547.3h3.2v3.2h-3.2zM155.8 550.3h3.2v3.2h-3.2zM155.8 553.3h3.2v3.2h-3.2zM158.8 559.3h3.2v3.2h-3.2zM209.8 571.3h3.2v3.2h-3.2zM224.8 574.3h3.2v3.2h-3.2zM230.8 577.3h3.2v3.2h-3.2zM236.8 595.3h3.2v3.2h-3.2zM242.8 607.3h3.2v3.2h-3.2zM245.8 610.3h3.2v3.2h-3.2z"/>
<path fill="#ffd8d8" d="M185.8 502.3h3.2v3.2h-3.2zM182.8 508.3h3.2v3.2h-3.2zM179.8 511.3h3.2v3.2h-3.2zM173.8 520.3h3.2v3.2h-3.2zM161.8 535.3h3.2v3.2h-3.2zM158.8 541.3h3.2v3.2h-3.2zM158.8 556.3h3.2v3.2h-3.2zM164.8 562.3h3.2v3.2h-3.2zM173.8 565.3h3.2v3.2h-3.2zM215.8 571.3h3.2v3.2h-3.2zM227.8 574.3h3.2v3.2h-3.2zM236.8 589.3h3.2v3.2h-3.2zM242.8 604.3h3.2v3.2h-3.2z"/>
<path fill="#ffd2d2" d="M188.8 502.3h3.2v3.2h-3.2zM179.8 514.3h3.2v3.2h-3.2zM167.8 529.3h3.2v3.2h-3.2zM158.8 544.3h3.2v3.2h-3.2zM158.8 553.3h3.2v3.2h-3.2zM236.8 586.3h3.2v3.2h-3.2z"/>
<path fill="#ffc9c9" d="M191.8 502.3h3.2v3.2h-3.2zM179.8 517.3h3.2v3.2h-3.2zM164.8 535.3h3.2v3.2h-3.2zM164.8 559.3h3.2v3.2h-3.2zM188.8 565.3h3.2v3.2h-3.2zM239.8 592.3h3.2v3.2h-3.2zM248.8 607.3h3.2v3.2h-3.2z"/>
<path fill="#fcc0c0" d="M194.8 502.3h3.2v3.2h-3.2zM179.8 520.3h3.2v3.2h-3.2zM176.8 523.3h3.2v3.2h-3.2zM173.8 526.3h3.2v3.2h-3.2zM164.8 538.3h3.2v3.2h-3.2zM161.8 544.3h3.2v3.2h-3.2zM215.8 568.3h3.2v3.2h-3.2zM239.8 589.3h3.2v3.2h-3.2zM245.8 601.3h3.2v3.2h-3.2zM254.8 613.3h3.2v3.2h-3.2zM254.8 616.3h3.2v3.2h-3.2zM254.8 619.3h3.2v3.2h-3.2z"/>
<path fill="#fcb7b7" d="M197.8 502.3h3.2v3.2h-3.2zM164.8 541.3h3.2v3.2h-3.2zM236.8 577.3h3.2v3.2h-3.2zM245.8 598.3h3.2v3.2h-3.2zM254.8 610.3h3.2v3.2h-3.2z"/>
<path fill="#fcaeae" d="M200.8 502.3h3.2v3.2h-3.2zM167.8 538.3h3.2v3.2h-3.2zM164.8 544.3h3.2v3.2h-3.2zM167.8 556.3h3.2v3.2h-3.2zM179.8 562.3h3.2v3.2h-3.2zM194.8 562.3h9.2v3.2h-9.2zM212.8 565.3h3.2v3.2h-3.2zM245.8 595.3h3.2v3.2h-3.2zM251.8 604.3h3.2v3.2h-3.2z"/>
<path fill="#fca5a5" d="M203.8 502.3h3.2v3.2h-3.2zM179.8 526.3h3.2v3.2h-3.2zM170.8 535.3h3.2v3.2h-3.2zM173.8 559.3h3.2v3.2h-3.2zM233.8 571.3h3.2v3.2h-3.2zM242.8 586.3h3.2v3.2h-3.2z"/>
<path fill="#fc9c9f" d="M206.8 502.3h3.2v3.2h-3.2zM191.8 517.3h3.2v3.2h-3.2zM200.8 559.3h6.2v3.2h-6.2zM218.8 565.3h3.2v3.2h-3.2zM248.8 595.3h3.2v3.2h-3.2z"/>
<path fill="#fc9696" d="M209.8 502.3h3.2v3.2h-3.2zM194.8 517.3h3.2v3.2h-3.2zM191.8 559.3h3.2v3.2h-3.2zM209.8 559.3h3.2v3.2h-3.2z"/>
<path fill="#fc9090" d="M212.8 502.3h3.2v3.2h-3.2zM200.8 514.3h3.2v3.2h-3.2zM176.8 532.3h3.2v3.2h-3.2zM170.8 541.3h3.2v3.2h-3.2zM173.8 556.3h3.2v3.2h-3.2zM200.8 556.3h3.2v3.2h-3.2zM206.8 556.3h3.2v3.2h-3.2zM182.8 559.3h6.2v3.2h-6.2z"/>
<path fill="#fc878a" d="M215.8 502.3h3.2v3.2h-3.2zM191.8 523.3h3.2v3.2h-3.2zM182.8 529.3h3.2v3.2h-3.2zM170.8 544.3h3.2v3.2h-3.2zM170.8 550.3h3.2v3.2h-3.2zM206.8 553.3h3.2v3.2h-3.2zM218.8 562.3h3.2v3.2h-3.2zM233.8 568.3h3.2v3.2h-3.2z"/>
<path fill="#fc8184" d="M218.8 502.3h3.2v3.2h-3.2zM215.8 508.3h3.2v3.2h-3.2zM179.8 532.3h3.2v3.2h-3.2zM191.8 556.3h3.2v3.2h-3.2zM245.8 580.3h3.2v3.2h-3.2z"/>
<path fill="#fc7b7b" d="M221.8 502.3h3.2v3.2h-3.2zM212.8 514.3h3.2v3.2h-3.2zM197.8 523.3h3.2v3.2h-3.2zM188.8 529.3h3.2v3.2h-3.2zM203.8 547.3h6.2v3.2h-6.2zM185.8 556.3h3.2v3.2h-3.2zM245.8 577.3h3.2v3.2h-3.2zM257.8 598.3h9.2v3.2h-9.2z"/>
<path fill="#fc7575" d="M224.8 502.3h3.2v3.2h-3.2zM224.8 505.3h3.2v3.2h-3.2zM221.8 511.3h3.2v3.2h-3.2zM218.8 514.3h3.2v3.2h-3.2zM212.8 517.3h3.2v3.2h-3.2zM206.8 520.3h3.2v3.2h-3.2zM197.8 526.3h3.2v3.2h-3.2zM191.8 529.3h3.2v3.2h-3.2zM179.8 535.3h3.2v3.2h-3.2zM176.8 538.3h3.2v3.2h-3.2zM173.8 544.3h3.2v3.2h-3.2zM203.8 544.3h6.2v3.2h-6.2zM248.8 580.3h3.2v3.2h-3.2z"/>
<path fill="#fc5454" d="M236.8 502.3h3.2v3.2h-3.2zM236.8 505.3h3.2v3.2h-3.2zM242.8 529.3h3.2v3.2h-3.2zM182.8 544.3h3.2v3.2h-3.2zM182.8 547.3h3.2v3.2h-3.2zM254.8 556.3h3.2v3.2h-3.2zM239.8 562.3h6.2v3.2h-6.2z"/>
<path fill="#f94b4b" d="M239.8 502.3h3.2v3.2h-3.2zM221.8 544.3h3.2v3.2h-3.2zM254.8 550.3h3.2v3.2h-3.2zM251.8 553.3h3.2v3.2h-3.2zM242.8 559.3h3.2v3.2h-3.2z"/>
<path fill="#f93f42" d="M242.8 502.3h3.2v3.2h-3.2zM242.8 505.3h3.2v3.2h-3.2zM245.8 514.3h3.2v3.2h-3.2zM257.8 532.3h9.2v3.2h-9.2zM224.8 541.3h3.2v3.2h-3.2zM248.8 547.3h3.2v3.2h-3.2zM245.8 553.3h3.2v3.2h-3.2zM227.8 556.3h3.2v3.2h-3.2z"/>
<path fill="#ffedf0" d="M173.8 505.3h3.2v3.2h-3.2z"/>
<path fill="#ffc3c3" d="M191.8 505.3h3.2v3.2h-3.2zM167.8 532.3h3.2v3.2h-3.2zM197.8 565.3h3.2v3.2h-3.2zM236.8 580.3h3.2v3.2h-3.2z"/>
<path fill="#fcbaba" d="M194.8 505.3h3.2v3.2h-3.2zM206.8 565.3h3.2v3.2h-3.2zM239.8 586.3h3.2v3.2h-3.2zM251.8 607.3h3.2v3.2h-3.2z"/>
<path fill="#fcb1b1" d="M197.8 505.3h3.2v3.2h-3.2zM176.8 526.3h3.2v3.2h-3.2zM173.8 529.3h3.2v3.2h-3.2zM164.8 553.3h3.2v3.2h-3.2zM170.8 559.3h3.2v3.2h-3.2zM221.8 568.3h3.2v3.2h-3.2zM230.8 571.3h3.2v3.2h-3.2zM239.8 583.3h3.2v3.2h-3.2zM248.8 601.3h3.2v3.2h-3.2z"/>
<path fill="#fca8a8" d="M200.8 505.3h3.2v3.2h-3.2zM188.8 517.3h3.2v3.2h-3.2zM185.8 520.3h3.2v3.2h-3.2zM182.8 523.3h3.2v3.2h-3.2zM206.8 562.3h3.2v3.2h-3.2zM224.8 568.3h3.2v3.2h-3.2zM236.8 574.3h3.2v3.2h-3.2zM248.8 598.3h3.2v3.2h-3.2zM254.8 607.3h3.2v3.2h-3.2z"/>
<path fill="#fc9fa2" d="M203.8 505.3h3.2v3.2h-3.2zM194.8 514.3h3.2v3.2h-3.2zM176.8 529.3h3.2v3.2h-3.2zM173.8 532.3h3.2v3.2h-3.2z"/>
<path fill="#fc9093" d="M209.8 505.3h3.2v3.2h-3.2zM188.8 523.3h3.2v3.2h-3.2zM170.8 553.3h3.2v3.2h-3.2zM254.8 601.3h3.2v3.2h-3.2z"/>
<path fill="#fc8487" d="M215.8 505.3h3.2v3.2h-3.2zM188.8 526.3h3.2v3.2h-3.2zM170.8 547.3h3.2v3.2h-3.2zM251.8 592.3h3.2v3.2h-3.2z"/>
<path fill="#fc7e81" d="M218.8 505.3h3.2v3.2h-3.2zM209.8 514.3h3.2v3.2h-3.2zM197.8 553.3h3.2v3.2h-3.2zM254.8 595.3h3.2v3.2h-3.2z"/>
<path fill="#fc787b" d="M221.8 505.3h3.2v3.2h-3.2zM218.8 511.3h3.2v3.2h-3.2zM203.8 520.3h3.2v3.2h-3.2zM182.8 532.3h3.2v3.2h-3.2zM194.8 553.3h3.2v3.2h-3.2zM182.8 556.3h3.2v3.2h-3.2zM215.8 556.3h3.2v3.2h-3.2zM218.8 559.3h3.2v3.2h-3.2z"/>
<path fill="#fc6c6f" d="M227.8 505.3h3.2v3.2h-3.2zM227.8 508.3h3.2v3.2h-3.2zM227.8 511.3h3.2v3.2h-3.2zM227.8 514.3h3.2v3.2h-3.2zM227.8 517.3h3.2v3.2h-3.2zM203.8 526.3h3.2v3.2h-3.2zM200.8 529.3h3.2v3.2h-3.2zM191.8 532.3h3.2v3.2h-3.2zM200.8 541.3h3.2v3.2h-3.2zM188.8 553.3h3.2v3.2h-3.2zM218.8 556.3h3.2v3.2h-3.2z"/>
<path fill="#fc6666" d="M230.8 505.3h3.2v3.2h-3.2zM233.8 520.3h3.2v3.2h-3.2zM218.8 523.3h6.2v3.2h-6.2zM212.8 526.3h3.2v3.2h-3.2zM209.8 529.3h3.2v3.2h-3.2zM209.8 535.3h3.2v3.2h-3.2zM212.8 541.3h3.2v3.2h-3.2zM218.8 553.3h3.2v3.2h-3.2zM236.8 565.3h3.2v3.2h-3.2zM257.8 586.3h9.2v3.2h-9.2z"/>
<path fill="#f9484b" d="M239.8 505.3h3.2v3.2h-3.2zM248.8 523.3h3.2v3.2h-3.2zM251.8 532.3h3.2v3.2h-3.2zM224.8 535.3h3.2v3.2h-3.2zM239.8 535.3h3.2v3.2h-3.2zM251.8 535.3h3.2v3.2h-3.2zM245.8 538.3h9.2v3.2h-9.2zM257.8 547.3h9.2v3.2h-9.2z"/>
<path fill="#fff3f6" d="M167.8 508.3h3.2v3.2h-3.2z"/>
<path fill="#ffe4e7" d="M176.8 508.3h3.2v3.2h-3.2zM221.8 574.3h3.2v3.2h-3.2z"/>
<path fill="#ffdede" d="M179.8 508.3h3.2v3.2h-3.2zM173.8 517.3h3.2v3.2h-3.2zM167.8 526.3h3.2v3.2h-3.2zM164.8 529.3h3.2v3.2h-3.2zM158.8 538.3h3.2v3.2h-3.2zM170.8 565.3h3.2v3.2h-3.2zM197.8 568.3h3.2v3.2h-3.2zM212.8 571.3h3.2v3.2h-3.2zM236.8 592.3h3.2v3.2h-3.2zM239.8 601.3h3.2v3.2h-3.2z"/>
<path fill="#fc8d8d" d="M209.8 508.3h3.2v3.2h-3.2zM197.8 517.3h3.2v3.2h-3.2zM197.8 556.3h3.2v3.2h-3.2z"/>
<path fill="#fc8787" d="M212.8 508.3h3.2v3.2h-3.2zM209.8 511.3h3.2v3.2h-3.2zM200.8 517.3h3.2v3.2h-3.2zM173.8 538.3h3.2v3.2h-3.2zM200.8 553.3h3.2v3.2h-3.2zM194.8 556.3h3.2v3.2h-3.2zM224.8 565.3h3.2v3.2h-3.2zM254.8 598.3h3.2v3.2h-3.2z"/>
<path fill="#fc7878" d="M221.8 508.3h3.2v3.2h-3.2zM215.8 514.3h3.2v3.2h-3.2zM209.8 517.3h3.2v3.2h-3.2zM194.8 526.3h3.2v3.2h-3.2zM209.8 547.3h3.2v3.2h-3.2zM254.8 592.3h3.2v3.2h-3.2z"/>
<path fill="#fc7275" d="M224.8 508.3h3.2v3.2h-3.2zM185.8 532.3h3.2v3.2h-3.2zM191.8 553.3h3.2v3.2h-3.2zM230.8 565.3h3.2v3.2h-3.2zM239.8 568.3h3.2v3.2h-3.2zM245.8 574.3h3.2v3.2h-3.2zM257.8 595.3h9.2v3.2h-9.2z"/>
<path fill="#fc4b4b" d="M239.8 508.3h3.2v3.2h-3.2zM242.8 535.3h3.2v3.2h-3.2zM221.8 541.3h3.2v3.2h-3.2z"/>
<path fill="#f94242" d="M242.8 508.3h3.2v3.2h-3.2zM251.8 523.3h3.2v3.2h-3.2zM233.8 535.3h3.2v3.2h-3.2zM239.8 538.3h3.2v3.2h-3.2zM248.8 544.3h3.2v3.2h-3.2zM248.8 550.3h3.2v3.2h-3.2zM242.8 556.3h3.2v3.2h-3.2zM233.8 559.3h3.2v3.2h-3.2z"/>
<path fill="#f93939" d="M245.8 508.3h3.2v3.2h-3.2zM248.8 514.3h3.2v3.2h-3.2zM230.8 538.3h6.2v3.2h-6.2zM242.8 544.3h3.2v3.2h-3.2z"/>
<path fill="#fc8181" d="M212.8 511.3h3.2v3.2h-3.2zM203.8 517.3h3.2v3.2h-3.2zM194.8 523.3h3.2v3.2h-3.2zM185.8 529.3h3.2v3.2h-3.2zM176.8 535.3h3.2v3.2h-3.2zM203.8 550.3h6.2v3.2h-6.2zM173.8 553.3h3.2v3.2h-3.2zM242.8 574.3h3.2v3.2h-3.2z"/>
<path fill="#fc7272" d="M224.8 511.3h3.2v3.2h-3.2zM221.8 514.3h3.2v3.2h-3.2zM215.8 517.3h3.2v3.2h-3.2zM209.8 520.3h3.2v3.2h-3.2zM203.8 523.3h3.2v3.2h-3.2zM194.8 529.3h3.2v3.2h-3.2zM209.8 544.3h3.2v3.2h-3.2zM173.8 547.3h3.2v3.2h-3.2zM176.8 553.3h3.2v3.2h-3.2zM215.8 553.3h3.2v3.2h-3.2zM254.8 589.3h3.2v3.2h-3.2z"/>
<path fill="#f93c3c" d="M245.8 511.3h3.2v3.2h-3.2zM254.8 523.3h3.2v3.2h-3.2zM236.8 538.3h3.2v3.2h-3.2zM224.8 544.3h3.2v3.2h-3.2zM224.8 547.3h3.2v3.2h-3.2zM245.8 547.3h3.2v3.2h-3.2zM245.8 550.3h3.2v3.2h-3.2zM239.8 556.3h3.2v3.2h-3.2z"/>
<path fill="#ffc6c9" d="M182.8 514.3h3.2v3.2h-3.2zM161.8 541.3h3.2v3.2h-3.2z"/>
<path fill="#fc6f72" d="M224.8 514.3h3.2v3.2h-3.2zM218.8 517.3h3.2v3.2h-3.2zM200.8 526.3h3.2v3.2h-3.2zM188.8 532.3h3.2v3.2h-3.2zM203.8 541.3h3.2v3.2h-3.2zM200.8 544.3h3.2v3.2h-3.2zM212.8 547.3h3.2v3.2h-3.2zM251.8 583.3h3.2v3.2h-3.2z"/>
<path fill="#fc6969" d="M230.8 514.3h3.2v3.2h-3.2zM212.8 523.3h3.2v3.2h-3.2zM209.8 526.3h3.2v3.2h-3.2zM206.8 529.3h3.2v3.2h-3.2zM185.8 535.3h3.2v3.2h-3.2zM197.8 535.3h3.2v3.2h-3.2zM206.8 535.3h3.2v3.2h-3.2zM179.8 538.3h3.2v3.2h-3.2zM209.8 538.3h3.2v3.2h-3.2zM197.8 541.3h3.2v3.2h-3.2zM185.8 553.3h3.2v3.2h-3.2zM257.8 589.3h9.2v3.2h-9.2z"/>
<path fill="#fc6063" d="M233.8 514.3h3.2v3.2h-3.2zM218.8 526.3h12.2v3.2h-12.2zM212.8 532.3h3.2v3.2h-3.2zM212.8 535.3h3.2v3.2h-3.2zM182.8 538.3h3.2v3.2h-3.2zM188.8 538.3h3.2v3.2h-3.2zM191.8 547.3h3.2v3.2h-3.2zM188.8 550.3h3.2v3.2h-3.2zM248.8 568.3h3.2v3.2h-3.2zM254.8 577.3h3.2v3.2h-3.2z"/>
<path fill="#fc5a5a" d="M236.8 514.3h3.2v3.2h-3.2zM239.8 520.3h3.2v3.2h-3.2zM239.8 526.3h3.2v3.2h-3.2zM224.8 529.3h3.2v3.2h-3.2zM182.8 541.3h3.2v3.2h-3.2zM257.8 559.3h9.2v3.2h-9.2zM230.8 562.3h3.2v3.2h-3.2zM251.8 562.3h3.2v3.2h-3.2z"/>
<path fill="#fc5151" d="M239.8 514.3h3.2v3.2h-3.2zM245.8 526.3h3.2v3.2h-3.2zM245.8 529.3h3.2v3.2h-3.2zM224.8 532.3h3.2v3.2h-3.2zM221.8 535.3h3.2v3.2h-3.2zM257.8 553.3h9.2v3.2h-9.2z"/>
<path fill="#f94848" d="M242.8 514.3h3.2v3.2h-3.2zM251.8 529.3h3.2v3.2h-3.2zM254.8 538.3h3.2v3.2h-3.2zM251.8 541.3h6.2v3.2h-6.2zM257.8 544.3h9.2v3.2h-9.2zM254.8 547.3h3.2v3.2h-3.2z"/>
<path fill="#fcbdc0" d="M182.8 517.3h3.2v3.2h-3.2zM203.8 565.3h3.2v3.2h-3.2z"/>
<path fill="#fc696c" d="M230.8 517.3h3.2v3.2h-3.2zM221.8 520.3h3.2v3.2h-3.2zM230.8 520.3h3.2v3.2h-3.2zM206.8 526.3h3.2v3.2h-3.2zM200.8 532.3h6.2v3.2h-6.2zM200.8 535.3h6.2v3.2h-6.2zM200.8 538.3h3.2v3.2h-3.2zM176.8 541.3h3.2v3.2h-3.2zM197.8 544.3h3.2v3.2h-3.2zM179.8 553.3h3.2v3.2h-3.2zM248.8 574.3h3.2v3.2h-3.2zM251.8 580.3h3.2v3.2h-3.2z"/>
<path fill="#fc6366" d="M233.8 517.3h3.2v3.2h-3.2zM233.8 523.3h3.2v3.2h-3.2zM209.8 532.3h3.2v3.2h-3.2zM194.8 538.3h3.2v3.2h-3.2zM194.8 541.3h3.2v3.2h-3.2zM176.8 544.3h3.2v3.2h-3.2zM194.8 544.3h3.2v3.2h-3.2zM245.8 568.3h3.2v3.2h-3.2zM248.8 571.3h3.2v3.2h-3.2zM254.8 580.3h3.2v3.2h-3.2z"/>
<path fill="#fc4e4e" d="M242.8 517.3h3.2v3.2h-3.2zM227.8 532.3h3.2v3.2h-3.2zM236.8 532.3h3.2v3.2h-3.2zM254.8 553.3h3.2v3.2h-3.2zM224.8 556.3h3.2v3.2h-3.2zM245.8 559.3h3.2v3.2h-3.2z"/>
<path fill="#f94548" d="M245.8 517.3h3.2v3.2h-3.2zM251.8 526.3h3.2v3.2h-3.2zM254.8 535.3h3.2v3.2h-3.2zM242.8 538.3h3.2v3.2h-3.2zM248.8 541.3h3.2v3.2h-3.2zM257.8 541.3h9.2v3.2h-9.2zM254.8 544.3h3.2v3.2h-3.2zM251.8 550.3h3.2v3.2h-3.2zM248.8 553.3h3.2v3.2h-3.2zM245.8 556.3h3.2v3.2h-3.2zM230.8 559.3h3.2v3.2h-3.2zM239.8 559.3h3.2v3.2h-3.2z"/>
<path fill="#f93f3f" d="M248.8 517.3h3.2v3.2h-3.2zM254.8 526.3h3.2v3.2h-3.2zM242.8 541.3h3.2v3.2h-3.2zM224.8 550.3h3.2v3.2h-3.2z"/>
<path fill="#fc9c9c" d="M188.8 520.3h3.2v3.2h-3.2zM185.8 523.3h3.2v3.2h-3.2zM167.8 544.3h3.2v3.2h-3.2zM197.8 559.3h3.2v3.2h-3.2zM206.8 559.3h3.2v3.2h-3.2zM212.8 562.3h3.2v3.2h-3.2zM227.8 568.3h3.2v3.2h-3.2zM242.8 583.3h3.2v3.2h-3.2zM254.8 604.3h3.2v3.2h-3.2zM257.8 607.3h9.2v3.2h-9.2z"/>
<path fill="#fc6c6c" d="M215.8 520.3h6.2v3.2h-6.2zM224.8 520.3h6.2v3.2h-6.2zM209.8 523.3h3.2v3.2h-3.2zM203.8 529.3h3.2v3.2h-3.2zM194.8 532.3h6.2v3.2h-6.2zM182.8 535.3h3.2v3.2h-3.2zM203.8 538.3h6.2v3.2h-6.2zM209.8 541.3h3.2v3.2h-3.2zM212.8 544.3h3.2v3.2h-3.2zM215.8 550.3h3.2v3.2h-3.2zM221.8 559.3h3.2v3.2h-3.2zM233.8 565.3h3.2v3.2h-3.2zM242.8 568.3h3.2v3.2h-3.2zM245.8 571.3h3.2v3.2h-3.2zM254.8 586.3h3.2v3.2h-3.2z"/>
<path fill="#fc5154" d="M242.8 520.3h3.2v3.2h-3.2zM248.8 559.3h3.2v3.2h-3.2zM236.8 562.3h3.2v3.2h-3.2z"/>
<path fill="#f94545" d="M248.8 520.3h3.2v3.2h-3.2zM254.8 532.3h3.2v3.2h-3.2zM227.8 535.3h3.2v3.2h-3.2zM236.8 535.3h3.2v3.2h-3.2zM224.8 538.3h3.2v3.2h-3.2zM257.8 538.3h9.2v3.2h-9.2zM251.8 544.3h3.2v3.2h-3.2zM251.8 547.3h3.2v3.2h-3.2zM224.8 553.3h3.2v3.2h-3.2z"/>
<path fill="#f93c3f" d="M251.8 520.3h3.2v3.2h-3.2zM257.8 529.3h9.2v3.2h-9.2zM227.8 538.3h3.2v3.2h-3.2zM245.8 544.3h3.2v3.2h-3.2z"/>
<path fill="#ffcccf" d="M173.8 523.3h3.2v3.2h-3.2z"/>
<path fill="#fc5a5d" d="M239.8 523.3h3.2v3.2h-3.2zM221.8 529.3h3.2v3.2h-3.2zM215.8 535.3h3.2v3.2h-3.2zM188.8 541.3h3.2v3.2h-3.2zM188.8 547.3h3.2v3.2h-3.2zM218.8 547.3h3.2v3.2h-3.2zM182.8 550.3h3.2v3.2h-3.2zM254.8 562.3h3.2v3.2h-3.2z"/>
<path fill="#fc4e51" d="M245.8 523.3h3.2v3.2h-3.2zM239.8 532.3h9.2v3.2h-9.2zM221.8 550.3h3.2v3.2h-3.2zM251.8 556.3h3.2v3.2h-3.2zM227.8 559.3h3.2v3.2h-3.2z"/>
<path fill="#fc8d90" d="M185.8 526.3h3.2v3.2h-3.2zM212.8 559.3h3.2v3.2h-3.2zM251.8 595.3h3.2v3.2h-3.2zM257.8 604.3h9.2v3.2h-9.2z"/>
<path fill="#fc6363" d="M215.8 526.3h3.2v3.2h-3.2zM212.8 529.3h3.2v3.2h-3.2zM191.8 538.3h3.2v3.2h-3.2zM212.8 538.3h3.2v3.2h-3.2zM215.8 544.3h3.2v3.2h-3.2zM176.8 547.3h3.2v3.2h-3.2zM227.8 562.3h3.2v3.2h-3.2zM239.8 565.3h3.2v3.2h-3.2zM251.8 574.3h3.2v3.2h-3.2zM257.8 583.3h9.2v3.2h-9.2z"/>
<path fill="#fc5d5d" d="M236.8 526.3h3.2v3.2h-3.2zM218.8 529.3h3.2v3.2h-3.2zM215.8 532.3h3.2v3.2h-3.2zM215.8 538.3h3.2v3.2h-3.2zM185.8 550.3h3.2v3.2h-3.2zM224.8 559.3h3.2v3.2h-3.2zM257.8 562.3h9.2v3.2h-9.2zM245.8 565.3h12.2v3.2h-12.2zM254.8 568.3h3.2v3.2h-3.2z"/>
<path fill="#fcc0c3" d="M170.8 529.3h3.2v3.2h-3.2zM200.8 565.3h3.2v3.2h-3.2z"/>
<path fill="#fc575a" d="M227.8 529.3h3.2v3.2h-3.2zM218.8 532.3h3.2v3.2h-3.2zM185.8 541.3h3.2v3.2h-3.2zM179.8 544.3h3.2v3.2h-3.2zM188.8 544.3h3.2v3.2h-3.2zM179.8 547.3h3.2v3.2h-3.2zM254.8 559.3h3.2v3.2h-3.2z"/>
<path fill="#ffd2d5" d="M164.8 532.3h3.2v3.2h-3.2zM218.8 571.3h3.2v3.2h-3.2z"/>
<path fill="#fcb7ba" d="M167.8 535.3h3.2v3.2h-3.2zM218.8 568.3h3.2v3.2h-3.2z"/>
<path fill="#fca2a5" d="M167.8 541.3h3.2v3.2h-3.2zM209.8 562.3h3.2v3.2h-3.2zM245.8 592.3h3.2v3.2h-3.2z"/>
<path fill="#ffe1e4" d="M155.8 544.3h3.2v3.2h-3.2z"/>
<path fill="#fcc3c3" d="M161.8 553.3h3.2v3.2h-3.2z"/>
<path fill="#ffc9cc" d="M161.8 556.3h3.2v3.2h-3.2zM185.8 565.3h3.2v3.2h-3.2z"/>
<path fill="#fc9f9f" d="M170.8 556.3h3.2v3.2h-3.2zM239.8 577.3h3.2v3.2h-3.2z"/>
<path fill="#ffdee1" d="M161.8 562.3h3.2v3.2h-3.2z"/>
<path fill="#fcabae" d="M191.8 562.3h3.2v3.2h-3.2zM203.8 562.3h3.2v3.2h-3.2zM242.8 589.3h3.2v3.2h-3.2z"/>
<path fill="#fca5a8" d="M215.8 565.3h3.2v3.2h-3.2z"/>
<path fill="#f9fff9" d="M170.8 568.3h6.2v3.2h-6.2zM179.8 568.3h3.2v3.2h-3.2zM197.8 571.3h3.2v3.2h-3.2zM209.8 580.3h3.2v3.2h-3.2zM221.8 580.3h6.2v3.2h-6.2zM221.8 583.3h3.2v3.2h-3.2zM221.8 586.3h3.2v3.2h-3.2zM221.8 589.3h3.2v3.2h-3.2zM230.8 589.3h3.2v3.2h-3.2zM221.8 592.3h3.2v3.2h-3.2zM230.8 592.3h3.2v3.2h-3.2zM230.8 595.3h3.2v3.2h-3.2zM224.8 598.3h6.2v3.2h-6.2zM155.8 601.3h3.2v3.2h-3.2zM224.8 601.3h6.2v3.2h-6.2zM206.8 604.3h3.2v3.2h-3.2zM158.8 607.3h3.2v3.2h-3.2zM203.8 607.3h3.2v3.2h-3.2zM161.8 610.3h3.2v3.2h-3.2zM200.8 610.3h3.2v3.2h-3.2zM164.8 613.3h3.2v3.2h-3.2zM197.8 613.3h3.2v3.2h-3.2zM164.8 616.3h3.2v3.2h-3.2zM197.8 616.3h3.2v3.2h-3.2zM164.8 619.3h3.2v3.2h-3.2zM197.8 619.3h3.2v3.2h-3.2z"/>
<path fill="#f6fff6" d="M176.8 568.3h3.2v3.2h-3.2zM155.8 574.3h3.2v3.2h-3.2zM203.8 574.3h3.2v3.2h-3.2zM224.8 583.3h6.2v3.2h-6.2zM206.8 592.3h3.2v3.2h-3.2zM206.8 595.3h3.2v3.2h-3.2zM224.8 595.3h6.2v3.2h-6.2zM155.8 598.3h3.2v3.2h-3.2zM206.8 598.3h3.2v3.2h-3.2zM206.8 601.3h3.2v3.2h-3.2zM158.8 604.3h3.2v3.2h-3.2zM161.8 607.3h3.2v3.2h-3.2zM164.8 610.3h3.2v3.2h-3.2zM197.8 610.3h3.2v3.2h-3.2zM167.8 613.3h3.2v3.2h-3.2zM194.8 613.3h3.2v3.2h-3.2zM167.8 616.3h3.2v3.2h-3.2zM194.8 616.3h3.2v3.2h-3.2zM167.8 619.3h3.2v3.2h-3.2zM194.8 619.3h3.2v3.2h-3.2z"/>
<path fill="#f6fcf6" d="M158.8 571.3h3.2v3.2h-3.2zM206.8 589.3h3.2v3.2h-3.2zM224.8 592.3h3.2v3.2h-3.2z"/>
<path fill="#f0fcf0" d="M161.8 571.3h3.2v3.2h-3.2zM194.8 571.3h3.2v3.2h-3.2zM155.8 580.3h3.2v3.2h-3.2zM155.8 592.3h3.2v3.2h-3.2zM158.8 601.3h3.2v3.2h-3.2zM203.8 601.3h3.2v3.2h-3.2zM161.8 604.3h3.2v3.2h-3.2zM200.8 604.3h3.2v3.2h-3.2zM164.8 607.3h3.2v3.2h-3.2zM197.8 607.3h3.2v3.2h-3.2zM170.8 610.3h3.2v3.2h-3.2zM191.8 610.3h3.2v3.2h-3.2zM176.8 613.3h15.2v3.2h-15.2zM176.8 616.3h15.2v3.2h-15.2zM176.8 619.3h15.2v3.2h-15.2z"/>
<path fill="#eafcea" d="M164.8 571.3h3.2v3.2h-3.2zM203.8 577.3h3.2v3.2h-3.2zM203.8 595.3h3.2v3.2h-3.2zM158.8 598.3h3.2v3.2h-3.2zM200.8 601.3h3.2v3.2h-3.2zM164.8 604.3h3.2v3.2h-3.2zM197.8 604.3h3.2v3.2h-3.2zM167.8 607.3h3.2v3.2h-3.2zM194.8 607.3h3.2v3.2h-3.2zM173.8 610.3h3.2v3.2h-3.2zM185.8 610.3h3.2v3.2h-3.2z"/>
<path fill="#e4fce4" d="M167.8 571.3h3.2v3.2h-3.2zM161.8 574.3h3.2v3.2h-3.2zM158.8 577.3h3.2v3.2h-3.2zM203.8 583.3h3.2v3.2h-3.2zM203.8 586.3h3.2v3.2h-3.2zM158.8 595.3h3.2v3.2h-3.2zM200.8 598.3h3.2v3.2h-3.2zM194.8 604.3h3.2v3.2h-3.2zM170.8 607.3h3.2v3.2h-3.2z"/>
<path fill="#def9de" d="M170.8 571.3h3.2v3.2h-3.2zM200.8 577.3h3.2v3.2h-3.2zM200.8 595.3h3.2v3.2h-3.2zM161.8 598.3h3.2v3.2h-3.2zM164.8 601.3h3.2v3.2h-3.2zM173.8 607.3h3.2v3.2h-3.2z"/>
<path fill="#d8f9d8" d="M173.8 571.3h3.2v3.2h-3.2zM185.8 571.3h3.2v3.2h-3.2zM164.8 574.3h3.2v3.2h-3.2zM194.8 574.3h3.2v3.2h-3.2zM161.8 577.3h3.2v3.2h-3.2zM200.8 580.3h3.2v3.2h-3.2zM200.8 592.3h3.2v3.2h-3.2zM197.8 598.3h3.2v3.2h-3.2zM194.8 601.3h3.2v3.2h-3.2zM170.8 604.3h3.2v3.2h-3.2zM176.8 607.3h9.2v3.2h-9.2z"/>
<path fill="#d2f9d2" d="M176.8 571.3h9.2v3.2h-9.2zM197.8 577.3h3.2v3.2h-3.2zM200.8 583.3h3.2v3.2h-3.2zM200.8 586.3h3.2v3.2h-3.2zM200.8 589.3h3.2v3.2h-3.2zM164.8 598.3h3.2v3.2h-3.2z"/>
<path fill="#e1f9e1" d="M188.8 571.3h3.2v3.2h-3.2zM197.8 601.3h3.2v3.2h-3.2zM167.8 604.3h3.2v3.2h-3.2zM188.8 607.3h3.2v3.2h-3.2z"/>
<path fill="#e7fce7" d="M191.8 571.3h3.2v3.2h-3.2zM203.8 580.3h3.2v3.2h-3.2zM203.8 589.3h3.2v3.2h-3.2zM203.8 592.3h3.2v3.2h-3.2zM161.8 601.3h3.2v3.2h-3.2zM191.8 607.3h3.2v3.2h-3.2zM176.8 610.3h9.2v3.2h-9.2z"/>
<path fill="#fc9396" d="M236.8 571.3h3.2v3.2h-3.2zM248.8 592.3h3.2v3.2h-3.2z"/>
<path fill="#edfced" d="M158.8 574.3h3.2v3.2h-3.2zM200.8 574.3h3.2v3.2h-3.2zM155.8 583.3h3.2v3.2h-3.2zM155.8 586.3h3.2v3.2h-3.2zM155.8 589.3h3.2v3.2h-3.2zM203.8 598.3h3.2v3.2h-3.2zM188.8 610.3h3.2v3.2h-3.2z"/>
<path fill="#cff9cf" d="M167.8 574.3h3.2v3.2h-3.2zM197.8 595.3h3.2v3.2h-3.2zM191.8 601.3h3.2v3.2h-3.2zM173.8 604.3h3.2v3.2h-3.2z"/>
<path fill="#c6f6c6" d="M170.8 574.3h3.2v3.2h-3.2zM194.8 577.3h3.2v3.2h-3.2zM197.8 580.3h3.2v3.2h-3.2zM197.8 592.3h3.2v3.2h-3.2zM164.8 595.3h3.2v3.2h-3.2zM167.8 598.3h3.2v3.2h-3.2zM188.8 601.3h3.2v3.2h-3.2zM179.8 604.3h3.2v3.2h-3.2z"/>
<path fill="#bdf6bd" d="M173.8 574.3h3.2v3.2h-3.2zM167.8 577.3h3.2v3.2h-3.2zM161.8 586.3h3.2v3.2h-3.2zM197.8 586.3h3.2v3.2h-3.2zM185.8 601.3h3.2v3.2h-3.2z"/>
<path fill="#b4f3b4" d="M176.8 574.3h9.2v3.2h-9.2zM194.8 592.3h3.2v3.2h-3.2zM191.8 595.3h3.2v3.2h-3.2zM179.8 601.3h3.2v3.2h-3.2z"/>
<path fill="#baf6ba" d="M185.8 574.3h3.2v3.2h-3.2zM164.8 580.3h3.2v3.2h-3.2z"/>
<path fill="#c3f6c3" d="M188.8 574.3h3.2v3.2h-3.2zM161.8 583.3h3.2v3.2h-3.2zM191.8 598.3h3.2v3.2h-3.2z"/>
<path fill="#cff6cf" d="M191.8 574.3h3.2v3.2h-3.2z"/>
<path fill="#e1fce1" d="M197.8 574.3h3.2v3.2h-3.2z"/>
<path fill="#f3fcf3" d="M155.8 577.3h3.2v3.2h-3.2zM206.8 577.3h3.2v3.2h-3.2zM206.8 580.3h3.2v3.2h-3.2zM206.8 583.3h3.2v3.2h-3.2zM206.8 586.3h3.2v3.2h-3.2zM224.8 586.3h6.2v3.2h-6.2zM224.8 589.3h6.2v3.2h-6.2zM227.8 592.3h3.2v3.2h-3.2zM155.8 595.3h3.2v3.2h-3.2zM203.8 604.3h3.2v3.2h-3.2zM200.8 607.3h3.2v3.2h-3.2zM167.8 610.3h3.2v3.2h-3.2zM194.8 610.3h3.2v3.2h-3.2zM170.8 613.3h6.2v3.2h-6.2zM191.8 613.3h3.2v3.2h-3.2zM170.8 616.3h6.2v3.2h-6.2zM191.8 616.3h3.2v3.2h-3.2zM170.8 619.3h6.2v3.2h-6.2zM191.8 619.3h3.2v3.2h-3.2z"/>
<path fill="#c9f6c9" d="M164.8 577.3h3.2v3.2h-3.2zM161.8 592.3h3.2v3.2h-3.2zM176.8 604.3h3.2v3.2h-3.2zM182.8 604.3h3.2v3.2h-3.2z"/>
<path fill="#b1f3b1" d="M170.8 577.3h3.2v3.2h-3.2z"/>
<path fill="#a5f0a5" d="M173.8 577.3h3.2v3.2h-3.2zM167.8 592.3h3.2v3.2h-3.2zM188.8 595.3h3.2v3.2h-3.2zM176.8 598.3h3.2v3.2h-3.2z"/>
<path fill="#9cf09c" d="M176.8 577.3h3.2v3.2h-3.2zM170.8 580.3h3.2v3.2h-3.2zM191.8 583.3h3.2v3.2h-3.2zM167.8 589.3h3.2v3.2h-3.2zM173.8 595.3h3.2v3.2h-3.2z"/>
<path fill="#99f099" d="M179.8 577.3h6.2v3.2h-6.2zM188.8 580.3h3.2v3.2h-3.2zM167.8 586.3h3.2v3.2h-3.2zM191.8 589.3h3.2v3.2h-3.2zM185.8 595.3h3.2v3.2h-3.2z"/>
<path fill="#a2f0a2" d="M185.8 577.3h3.2v3.2h-3.2zM191.8 592.3h3.2v3.2h-3.2zM179.8 598.3h6.2v3.2h-6.2z"/>
<path fill="#aef3ae" d="M188.8 577.3h3.2v3.2h-3.2zM164.8 583.3h3.2v3.2h-3.2zM194.8 583.3h3.2v3.2h-3.2zM164.8 589.3h3.2v3.2h-3.2zM173.8 598.3h3.2v3.2h-3.2z"/>
<path fill="#baf3ba" d="M191.8 577.3h3.2v3.2h-3.2zM170.8 598.3h3.2v3.2h-3.2z"/>
<path fill="#dbf9db" d="M158.8 580.3h3.2v3.2h-3.2zM158.8 592.3h3.2v3.2h-3.2zM191.8 604.3h3.2v3.2h-3.2zM185.8 607.3h3.2v3.2h-3.2z"/>
<path fill="#ccf6cc" d="M161.8 580.3h3.2v3.2h-3.2zM194.8 598.3h3.2v3.2h-3.2zM170.8 601.3h3.2v3.2h-3.2zM185.8 604.3h3.2v3.2h-3.2z"/>
<path fill="#abf3ab" d="M167.8 580.3h3.2v3.2h-3.2zM164.8 586.3h3.2v3.2h-3.2zM194.8 589.3h3.2v3.2h-3.2zM185.8 598.3h3.2v3.2h-3.2z"/>
<path fill="#8ded8d" d="M173.8 580.3h3.2v3.2h-3.2zM170.8 583.3h3.2v3.2h-3.2zM179.8 595.3h3.2v3.2h-3.2z"/>
<path fill="#84ed84" d="M176.8 580.3h3.2v3.2h-3.2zM188.8 586.3h3.2v3.2h-3.2zM185.8 592.3h3.2v3.2h-3.2z"/>
<path fill="#81ea81" d="M179.8 580.3h3.2v3.2h-3.2z"/>
<path fill="#81ed81" d="M182.8 580.3h3.2v3.2h-3.2z"/>
<path fill="#8aed8a" d="M185.8 580.3h3.2v3.2h-3.2zM188.8 583.3h3.2v3.2h-3.2zM170.8 589.3h3.2v3.2h-3.2z"/>
<path fill="#a8f3a8" d="M191.8 580.3h3.2v3.2h-3.2zM194.8 586.3h3.2v3.2h-3.2zM170.8 595.3h3.2v3.2h-3.2z"/>
<path fill="#b7f3b7" d="M194.8 580.3h3.2v3.2h-3.2zM164.8 592.3h3.2v3.2h-3.2zM167.8 595.3h3.2v3.2h-3.2zM188.8 598.3h3.2v3.2h-3.2zM176.8 601.3h3.2v3.2h-3.2zM182.8 601.3h3.2v3.2h-3.2z"/>
<path fill="#d5f9d5" d="M158.8 583.3h3.2v3.2h-3.2zM158.8 586.3h3.2v3.2h-3.2zM158.8 589.3h3.2v3.2h-3.2zM161.8 595.3h3.2v3.2h-3.2zM167.8 601.3h3.2v3.2h-3.2zM188.8 604.3h3.2v3.2h-3.2z"/>
<path fill="#9ff09f" d="M167.8 583.3h3.2v3.2h-3.2z"/>
<path fill="#7eea7e" d="M173.8 583.3h3.2v3.2h-3.2z"/>
<path fill="#72ea72" d="M176.8 583.3h3.2v3.2h-3.2zM182.8 583.3h3.2v3.2h-3.2z"/>
<path fill="#6fea6f" d="M179.8 583.3h3.2v3.2h-3.2zM176.8 589.3h3.2v3.2h-3.2z"/>
<path fill="#7bea7b" d="M185.8 583.3h3.2v3.2h-3.2zM176.8 592.3h3.2v3.2h-3.2zM182.8 592.3h3.2v3.2h-3.2z"/>
<path fill="#c0f6c0" d="M197.8 583.3h3.2v3.2h-3.2zM161.8 589.3h3.2v3.2h-3.2zM197.8 589.3h3.2v3.2h-3.2zM194.8 595.3h3.2v3.2h-3.2zM173.8 601.3h3.2v3.2h-3.2z"/>
<path fill="#fffcff" d="M215.8 583.3h3.2v3.2h-3.2z"/>
<path fill="#87ed87" d="M170.8 586.3h3.2v3.2h-3.2zM188.8 589.3h3.2v3.2h-3.2zM173.8 592.3h3.2v3.2h-3.2z"/>
<path fill="#75ea75" d="M173.8 586.3h3.2v3.2h-3.2zM185.8 586.3h3.2v3.2h-3.2z"/>
<path fill="#6ce76c" d="M176.8 586.3h3.2v3.2h-3.2zM182.8 589.3h3.2v3.2h-3.2z"/>
<path fill="#66e766" d="M179.8 586.3h3.2v3.2h-3.2z"/>
<path fill="#69e769" d="M182.8 586.3h3.2v3.2h-3.2zM179.8 589.3h3.2v3.2h-3.2z"/>
<path fill="#96f096" d="M191.8 586.3h3.2v3.2h-3.2zM170.8 592.3h3.2v3.2h-3.2z"/>
<path fill="#78ea78" d="M173.8 589.3h3.2v3.2h-3.2zM185.8 589.3h3.2v3.2h-3.2zM179.8 592.3h3.2v3.2h-3.2z"/>
<path fill="#93ed93" d="M188.8 592.3h3.2v3.2h-3.2z"/>
<path fill="#fcb4b7" d="M242.8 592.3h3.2v3.2h-3.2z"/>
<path fill="#90ed90" d="M176.8 595.3h3.2v3.2h-3.2zM182.8 595.3h3.2v3.2h-3.2z"/>
<path fill="#fc9699" d="M251.8 598.3h3.2v3.2h-3.2z"/>
</g>
<path d="M182.2 499.3V613.7M155.8 584.1H258.5M206.7 499.3V613.7M155.8 557H258.5M231.2 499.3V613.7M155.8 529.9H258.5" fill="none" stroke="#fff" stroke-opacity="0.14" stroke-width="0.6"/>
<path d="M207.7 499.3V557H258.5" fill="none" stroke="#fff" stroke-opacity="0.3" stroke-width="0.6"/>
</g>
<rect x="155.8" y="499.3" width="102.7" height="114.4" fill="none" stroke="#68686c" stroke-width="1.1"/>
<text x="157.8" y="622" font-size="8" text-anchor="middle" font-weight="bold" stroke="#000" stroke-width="0.18">0</text>
<text x="182.2" y="622" font-size="8" text-anchor="middle" font-weight="bold" stroke="#000" stroke-width="0.18">10</text>
<text x="206.7" y="622" font-size="8" text-anchor="middle" font-weight="bold" stroke="#000" stroke-width="0.18">20</text>
<text x="231.2" y="622" font-size="8" text-anchor="middle" font-weight="bold" stroke="#000" stroke-width="0.18">50</text>
<text x="255.6" y="622" font-size="8" text-anchor="middle" font-weight="bold" stroke="#000" stroke-width="0.18">70</text>
<text x="154.2" y="505.7" font-size="8" text-anchor="end" font-weight="bold" stroke="#000" stroke-width="0.18">70</text>
<text x="154.2" y="532.8" font-size="8" text-anchor="end" font-weight="bold" stroke="#000" stroke-width="0.18">50</text>
<text x="154.2" y="559.9" font-size="8" text-anchor="end" font-weight="bold" stroke="#000" stroke-width="0.18">20</text>
<text x="154.2" y="587" font-size="8" text-anchor="end" font-weight="bold" stroke="#000" stroke-width="0.18">10</text>
<text x="154.2" y="614.1" font-size="8" text-anchor="end" font-weight="bold" stroke="#000" stroke-width="0.18">0</text>
<text x="205.5" y="631.4" font-size="8" text-anchor="middle" font-weight="bold" stroke="#000" stroke-width="0.18">MEKi (µmol/L)</text>
<text x="141.3" y="552" font-size="8" text-anchor="middle" font-weight="bold" stroke="#000" stroke-width="0.18" transform="rotate(-90 141.3 552)">PARPi (µmol/L)</text>
</g>
<g>
<rect x="302.5" y="494.3" width="29.8" height="1.9" fill="url(#cbg3)"/>
<rect x="342.2" y="494.3" width="29.8" height="1.9" fill="url(#cbr3)"/>
<text x="306" y="493.8" font-size="8" text-anchor="middle" font-weight="bold" stroke="#000" stroke-width="0.18">-20</text>
<text x="336.6" y="493.8" font-size="8" text-anchor="middle" font-weight="bold" stroke="#000" stroke-width="0.18">0</text>
<text x="367.2" y="493.8" font-size="8" text-anchor="middle" font-weight="bold" stroke="#000" stroke-width="0.18">20</text>
<text x="338" y="474.4" font-size="8" text-anchor="middle" font-weight="bold" stroke="#000" stroke-width="0.18">Bliss synergy</text>
<text x="338" y="484.3" font-size="8" text-anchor="middle" font-weight="bold" stroke="#000" stroke-width="0.18">score –4.371</text>
<rect x="286.5" y="499.3" width="102.8" height="114.4" fill="#fff"/>
<g clip-path="url(#hc3)">
<g filter="url(#hblur)">
<path fill="#fff3f3" d="M286.5 496.3h3.2v3.2h-3.2zM286.5 499.3h3.2v3.2h-3.2zM286.5 502.3h3.2v3.2h-3.2zM286.5 520.3h3.2v3.2h-3.2zM286.5 523.3h3.2v3.2h-3.2zM286.5 526.3h3.2v3.2h-3.2zM367.5 532.3h12.2v3.2h-12.2zM352.5 541.3h3.2v3.2h-3.2zM331.5 550.3h9.2v3.2h-9.2zM331.5 559.3h3.2v3.2h-3.2zM343.5 559.3h3.2v3.2h-3.2zM295.5 562.3h3.2v3.2h-3.2zM358.5 571.3h3.2v3.2h-3.2zM385.5 571.3h12.2v3.2h-12.2zM286.5 580.3h3.2v3.2h-3.2zM286.5 583.3h3.2v3.2h-3.2zM286.5 586.3h3.2v3.2h-3.2zM286.5 589.3h3.2v3.2h-3.2zM286.5 592.3h3.2v3.2h-3.2zM286.5 595.3h3.2v3.2h-3.2z"/>
<path fill="#fff9f9" d="M289.5 496.3h3.2v3.2h-3.2zM289.5 499.3h3.2v3.2h-3.2zM289.5 502.3h3.2v3.2h-3.2zM289.5 505.3h3.2v3.2h-3.2zM289.5 517.3h3.2v3.2h-3.2zM289.5 520.3h3.2v3.2h-3.2zM289.5 523.3h3.2v3.2h-3.2zM289.5 526.3h3.2v3.2h-3.2zM289.5 529.3h3.2v3.2h-3.2zM286.5 532.3h3.2v3.2h-3.2zM286.5 535.3h3.2v3.2h-3.2zM358.5 535.3h3.2v3.2h-3.2zM292.5 547.3h3.2v3.2h-3.2zM286.5 571.3h3.2v3.2h-3.2zM289.5 574.3h3.2v3.2h-3.2zM289.5 577.3h3.2v3.2h-3.2zM289.5 580.3h3.2v3.2h-3.2zM289.5 583.3h3.2v3.2h-3.2zM289.5 586.3h3.2v3.2h-3.2zM289.5 589.3h3.2v3.2h-3.2zM289.5 592.3h3.2v3.2h-3.2zM289.5 595.3h3.2v3.2h-3.2zM289.5 598.3h3.2v3.2h-3.2zM286.5 604.3h3.2v3.2h-3.2zM286.5 607.3h3.2v3.2h-3.2z"/>
<path fill="#e7fce7" d="M292.5 496.3h3.2v3.2h-3.2zM379.5 499.3h3.2v3.2h-3.2zM379.5 502.3h3.2v3.2h-3.2zM382.5 505.3h3.2v3.2h-3.2zM382.5 508.3h3.2v3.2h-3.2zM382.5 511.3h3.2v3.2h-3.2zM382.5 514.3h3.2v3.2h-3.2zM382.5 517.3h3.2v3.2h-3.2zM379.5 523.3h3.2v3.2h-3.2zM292.5 526.3h3.2v3.2h-3.2zM367.5 529.3h3.2v3.2h-3.2zM355.5 535.3h3.2v3.2h-3.2zM304.5 541.3h3.2v3.2h-3.2zM316.5 544.3h3.2v3.2h-3.2zM343.5 544.3h3.2v3.2h-3.2zM310.5 565.3h3.2v3.2h-3.2zM346.5 565.3h3.2v3.2h-3.2zM295.5 568.3h3.2v3.2h-3.2zM292.5 577.3h3.2v3.2h-3.2zM385.5 580.3h3.2v3.2h-3.2zM388.5 586.3h9.2v3.2h-9.2zM388.5 589.3h9.2v3.2h-9.2zM388.5 592.3h9.2v3.2h-9.2zM292.5 595.3h3.2v3.2h-3.2zM385.5 595.3h3.2v3.2h-3.2zM382.5 598.3h3.2v3.2h-3.2zM373.5 604.3h3.2v3.2h-3.2zM370.5 607.3h3.2v3.2h-3.2zM358.5 610.3h3.2v3.2h-3.2zM304.5 613.3h3.2v3.2h-3.2zM340.5 613.3h6.2v3.2h-6.2zM304.5 616.3h3.2v3.2h-3.2zM340.5 616.3h6.2v3.2h-6.2zM304.5 619.3h3.2v3.2h-3.2zM340.5 619.3h6.2v3.2h-6.2z"/>
<path fill="#c3f6c3" d="M295.5 496.3h3.2v3.2h-3.2zM361.5 496.3h3.2v3.2h-3.2zM361.5 499.3h3.2v3.2h-3.2zM364.5 505.3h3.2v3.2h-3.2zM367.5 517.3h3.2v3.2h-3.2zM367.5 520.3h3.2v3.2h-3.2zM295.5 526.3h3.2v3.2h-3.2zM358.5 529.3h3.2v3.2h-3.2zM298.5 532.3h3.2v3.2h-3.2zM310.5 538.3h3.2v3.2h-3.2zM322.5 541.3h6.2v3.2h-6.2zM313.5 568.3h3.2v3.2h-3.2zM340.5 568.3h3.2v3.2h-3.2zM352.5 574.3h3.2v3.2h-3.2zM364.5 583.3h3.2v3.2h-3.2zM370.5 589.3h3.2v3.2h-3.2zM367.5 592.3h3.2v3.2h-3.2zM358.5 601.3h3.2v3.2h-3.2zM349.5 604.3h3.2v3.2h-3.2zM310.5 607.3h3.2v3.2h-3.2zM337.5 607.3h3.2v3.2h-3.2z"/>
<path fill="#a8f0a8" d="M298.5 496.3h3.2v3.2h-3.2zM355.5 502.3h3.2v3.2h-3.2z"/>
<path fill="#93ed93" d="M301.5 496.3h3.2v3.2h-3.2zM346.5 496.3h3.2v3.2h-3.2zM352.5 505.3h3.2v3.2h-3.2zM298.5 517.3h3.2v3.2h-3.2zM307.5 529.3h3.2v3.2h-3.2zM343.5 532.3h3.2v3.2h-3.2zM328.5 535.3h6.2v3.2h-6.2zM343.5 577.3h3.2v3.2h-3.2zM352.5 586.3h3.2v3.2h-3.2zM352.5 589.3h3.2v3.2h-3.2zM319.5 601.3h3.2v3.2h-3.2zM328.5 601.3h3.2v3.2h-3.2z"/>
<path fill="#87ed87" d="M304.5 496.3h3.2v3.2h-3.2zM343.5 496.3h3.2v3.2h-3.2zM349.5 505.3h3.2v3.2h-3.2zM346.5 529.3h3.2v3.2h-3.2zM322.5 532.3h3.2v3.2h-3.2zM319.5 574.3h3.2v3.2h-3.2zM328.5 574.3h3.2v3.2h-3.2zM307.5 577.3h3.2v3.2h-3.2zM349.5 586.3h3.2v3.2h-3.2zM346.5 592.3h3.2v3.2h-3.2zM307.5 595.3h3.2v3.2h-3.2zM340.5 595.3h3.2v3.2h-3.2zM331.5 598.3h3.2v3.2h-3.2z"/>
<path fill="#7eea7e" d="M307.5 496.3h3.2v3.2h-3.2zM301.5 505.3h3.2v3.2h-3.2zM349.5 508.3h3.2v3.2h-3.2zM352.5 514.3h3.2v3.2h-3.2zM304.5 523.3h3.2v3.2h-3.2zM352.5 523.3h3.2v3.2h-3.2zM349.5 526.3h3.2v3.2h-3.2zM316.5 529.3h3.2v3.2h-3.2zM334.5 577.3h3.2v3.2h-3.2zM346.5 586.3h3.2v3.2h-3.2zM346.5 589.3h3.2v3.2h-3.2zM304.5 592.3h3.2v3.2h-3.2zM343.5 592.3h3.2v3.2h-3.2zM310.5 595.3h3.2v3.2h-3.2z"/>
<path fill="#78ea78" d="M310.5 496.3h3.2v3.2h-3.2zM340.5 499.3h3.2v3.2h-3.2zM343.5 502.3h3.2v3.2h-3.2zM301.5 511.3h3.2v3.2h-3.2zM349.5 511.3h3.2v3.2h-3.2zM301.5 514.3h3.2v3.2h-3.2zM352.5 520.3h3.2v3.2h-3.2zM307.5 523.3h3.2v3.2h-3.2zM319.5 529.3h3.2v3.2h-3.2zM316.5 577.3h3.2v3.2h-3.2zM307.5 580.3h3.2v3.2h-3.2zM304.5 583.3h3.2v3.2h-3.2zM343.5 583.3h3.2v3.2h-3.2zM343.5 589.3h3.2v3.2h-3.2zM307.5 592.3h3.2v3.2h-3.2zM340.5 592.3h3.2v3.2h-3.2zM331.5 595.3h3.2v3.2h-3.2z"/>
<path fill="#72ea72" d="M313.5 496.3h3.2v3.2h-3.2zM337.5 496.3h3.2v3.2h-3.2zM343.5 505.3h3.2v3.2h-3.2zM346.5 508.3h3.2v3.2h-3.2zM349.5 514.3h3.2v3.2h-3.2zM304.5 517.3h3.2v3.2h-3.2zM310.5 523.3h3.2v3.2h-3.2zM349.5 523.3h3.2v3.2h-3.2zM346.5 526.3h3.2v3.2h-3.2zM325.5 529.3h3.2v3.2h-3.2zM337.5 529.3h3.2v3.2h-3.2zM322.5 577.3h6.2v3.2h-6.2zM310.5 580.3h3.2v3.2h-3.2zM340.5 583.3h3.2v3.2h-3.2zM304.5 586.3h3.2v3.2h-3.2zM337.5 592.3h3.2v3.2h-3.2zM319.5 595.3h3.2v3.2h-3.2zM325.5 595.3h6.2v3.2h-6.2z"/>
<path fill="#6fea6f" d="M316.5 496.3h3.2v3.2h-3.2zM334.5 496.3h3.2v3.2h-3.2zM313.5 499.3h3.2v3.2h-3.2zM337.5 499.3h3.2v3.2h-3.2zM310.5 502.3h3.2v3.2h-3.2zM340.5 502.3h3.2v3.2h-3.2zM307.5 505.3h3.2v3.2h-3.2zM304.5 508.3h3.2v3.2h-3.2zM304.5 511.3h3.2v3.2h-3.2zM304.5 514.3h3.2v3.2h-3.2zM307.5 520.3h3.2v3.2h-3.2zM316.5 526.3h3.2v3.2h-3.2zM328.5 529.3h9.2v3.2h-9.2zM334.5 580.3h3.2v3.2h-3.2zM307.5 583.3h3.2v3.2h-3.2zM340.5 589.3h3.2v3.2h-3.2zM310.5 592.3h3.2v3.2h-3.2zM322.5 595.3h3.2v3.2h-3.2z"/>
<path fill="#6ce76c" d="M319.5 496.3h6.2v3.2h-6.2zM316.5 499.3h3.2v3.2h-3.2zM307.5 517.3h3.2v3.2h-3.2zM349.5 520.3h3.2v3.2h-3.2zM313.5 523.3h3.2v3.2h-3.2zM319.5 526.3h3.2v3.2h-3.2zM343.5 526.3h3.2v3.2h-3.2zM313.5 580.3h3.2v3.2h-3.2zM307.5 586.3h3.2v3.2h-3.2zM340.5 586.3h3.2v3.2h-3.2zM313.5 592.3h3.2v3.2h-3.2zM334.5 592.3h3.2v3.2h-3.2z"/>
<path fill="#69e769" d="M325.5 496.3h9.2v3.2h-9.2zM319.5 499.3h6.2v3.2h-6.2zM334.5 499.3h3.2v3.2h-3.2zM313.5 502.3h3.2v3.2h-3.2zM337.5 502.3h3.2v3.2h-3.2zM310.5 505.3h3.2v3.2h-3.2zM340.5 505.3h3.2v3.2h-3.2zM307.5 508.3h3.2v3.2h-3.2zM343.5 508.3h3.2v3.2h-3.2zM307.5 511.3h3.2v3.2h-3.2zM307.5 514.3h3.2v3.2h-3.2zM310.5 520.3h3.2v3.2h-3.2zM316.5 580.3h3.2v3.2h-3.2zM331.5 580.3h3.2v3.2h-3.2zM337.5 583.3h3.2v3.2h-3.2zM337.5 589.3h3.2v3.2h-3.2zM331.5 592.3h3.2v3.2h-3.2z"/>
<path fill="#7bea7b" d="M340.5 496.3h3.2v3.2h-3.2zM307.5 499.3h3.2v3.2h-3.2zM304.5 502.3h3.2v3.2h-3.2zM346.5 505.3h3.2v3.2h-3.2zM301.5 508.3h3.2v3.2h-3.2zM301.5 517.3h3.2v3.2h-3.2zM352.5 517.3h3.2v3.2h-3.2zM310.5 526.3h3.2v3.2h-3.2zM343.5 529.3h3.2v3.2h-3.2zM313.5 577.3h3.2v3.2h-3.2zM331.5 577.3h3.2v3.2h-3.2zM340.5 580.3h3.2v3.2h-3.2zM313.5 595.3h3.2v3.2h-3.2zM334.5 595.3h3.2v3.2h-3.2z"/>
<path fill="#9cf09c" d="M349.5 496.3h3.2v3.2h-3.2zM352.5 502.3h3.2v3.2h-3.2zM358.5 517.3h3.2v3.2h-3.2zM358.5 520.3h3.2v3.2h-3.2zM355.5 526.3h3.2v3.2h-3.2zM310.5 532.3h3.2v3.2h-3.2zM346.5 532.3h3.2v3.2h-3.2zM319.5 535.3h3.2v3.2h-3.2zM322.5 571.3h6.2v3.2h-6.2zM340.5 574.3h3.2v3.2h-3.2zM355.5 589.3h3.2v3.2h-3.2zM349.5 595.3h3.2v3.2h-3.2zM304.5 598.3h3.2v3.2h-3.2zM343.5 598.3h3.2v3.2h-3.2zM313.5 601.3h3.2v3.2h-3.2zM334.5 601.3h3.2v3.2h-3.2z"/>
<path fill="#a8f3a8" d="M352.5 496.3h3.2v3.2h-3.2zM358.5 508.3h3.2v3.2h-3.2zM298.5 526.3h3.2v3.2h-3.2zM313.5 535.3h3.2v3.2h-3.2zM343.5 535.3h3.2v3.2h-3.2zM328.5 538.3h6.2v3.2h-6.2zM337.5 571.3h3.2v3.2h-3.2zM301.5 574.3h3.2v3.2h-3.2zM358.5 589.3h3.2v3.2h-3.2zM349.5 598.3h3.2v3.2h-3.2zM316.5 604.3h3.2v3.2h-3.2z"/>
<path fill="#b1f3b1" d="M355.5 496.3h3.2v3.2h-3.2zM295.5 511.3h3.2v3.2h-3.2zM361.5 511.3h3.2v3.2h-3.2zM361.5 523.3h3.2v3.2h-3.2zM355.5 529.3h3.2v3.2h-3.2zM310.5 535.3h3.2v3.2h-3.2zM319.5 538.3h3.2v3.2h-3.2zM352.5 577.3h3.2v3.2h-3.2zM358.5 583.3h3.2v3.2h-3.2zM361.5 589.3h3.2v3.2h-3.2zM301.5 601.3h3.2v3.2h-3.2zM346.5 601.3h3.2v3.2h-3.2zM310.5 604.3h3.2v3.2h-3.2zM337.5 604.3h3.2v3.2h-3.2z"/>
<path fill="#baf6ba" d="M358.5 496.3h3.2v3.2h-3.2zM361.5 583.3h3.2v3.2h-3.2zM364.5 586.3h3.2v3.2h-3.2zM364.5 592.3h3.2v3.2h-3.2zM358.5 598.3h3.2v3.2h-3.2z"/>
<path fill="#ccf6cc" d="M364.5 496.3h3.2v3.2h-3.2zM364.5 499.3h3.2v3.2h-3.2zM367.5 505.3h3.2v3.2h-3.2zM370.5 514.3h3.2v3.2h-3.2zM370.5 517.3h3.2v3.2h-3.2zM364.5 526.3h3.2v3.2h-3.2zM295.5 529.3h3.2v3.2h-3.2zM355.5 532.3h3.2v3.2h-3.2zM373.5 583.3h3.2v3.2h-3.2zM373.5 592.3h3.2v3.2h-3.2zM370.5 595.3h3.2v3.2h-3.2zM295.5 598.3h3.2v3.2h-3.2zM298.5 604.3h3.2v3.2h-3.2z"/>
<path fill="#d5f9d5" d="M367.5 496.3h3.2v3.2h-3.2zM370.5 502.3h3.2v3.2h-3.2zM373.5 511.3h3.2v3.2h-3.2zM373.5 514.3h3.2v3.2h-3.2zM373.5 517.3h3.2v3.2h-3.2zM373.5 520.3h3.2v3.2h-3.2zM367.5 526.3h3.2v3.2h-3.2zM313.5 541.3h3.2v3.2h-3.2zM325.5 565.3h12.2v3.2h-12.2zM352.5 571.3h3.2v3.2h-3.2zM373.5 580.3h3.2v3.2h-3.2zM379.5 583.3h3.2v3.2h-3.2zM379.5 586.3h3.2v3.2h-3.2zM379.5 589.3h3.2v3.2h-3.2zM370.5 598.3h3.2v3.2h-3.2zM295.5 601.3h3.2v3.2h-3.2zM367.5 601.3h3.2v3.2h-3.2zM352.5 607.3h3.2v3.2h-3.2zM310.5 610.3h3.2v3.2h-3.2zM334.5 610.3h3.2v3.2h-3.2z"/>
<path fill="#dbf9db" d="M370.5 496.3h3.2v3.2h-3.2zM373.5 502.3h3.2v3.2h-3.2zM376.5 511.3h3.2v3.2h-3.2zM376.5 514.3h3.2v3.2h-3.2zM376.5 517.3h3.2v3.2h-3.2zM373.5 523.3h3.2v3.2h-3.2zM310.5 541.3h3.2v3.2h-3.2zM325.5 544.3h12.2v3.2h-12.2zM319.5 565.3h3.2v3.2h-3.2zM340.5 565.3h3.2v3.2h-3.2zM298.5 568.3h3.2v3.2h-3.2zM361.5 577.3h3.2v3.2h-3.2zM379.5 580.3h3.2v3.2h-3.2zM382.5 583.3h3.2v3.2h-3.2zM382.5 586.3h3.2v3.2h-3.2zM382.5 589.3h3.2v3.2h-3.2zM373.5 598.3h3.2v3.2h-3.2zM370.5 601.3h3.2v3.2h-3.2zM295.5 604.3h3.2v3.2h-3.2zM367.5 604.3h3.2v3.2h-3.2zM358.5 607.3h3.2v3.2h-3.2zM304.5 610.3h3.2v3.2h-3.2zM343.5 610.3h3.2v3.2h-3.2z"/>
<path fill="#e1f9e1" d="M373.5 496.3h3.2v3.2h-3.2zM376.5 502.3h3.2v3.2h-3.2zM292.5 505.3h3.2v3.2h-3.2zM379.5 511.3h3.2v3.2h-3.2zM379.5 514.3h3.2v3.2h-3.2zM292.5 517.3h3.2v3.2h-3.2zM292.5 520.3h3.2v3.2h-3.2zM376.5 523.3h3.2v3.2h-3.2zM295.5 535.3h3.2v3.2h-3.2zM298.5 538.3h3.2v3.2h-3.2zM307.5 541.3h3.2v3.2h-3.2zM340.5 544.3h3.2v3.2h-3.2zM343.5 565.3h3.2v3.2h-3.2zM364.5 577.3h3.2v3.2h-3.2zM370.5 577.3h6.2v3.2h-6.2zM382.5 580.3h3.2v3.2h-3.2zM292.5 586.3h3.2v3.2h-3.2zM385.5 586.3h3.2v3.2h-3.2zM385.5 589.3h3.2v3.2h-3.2zM373.5 601.3h3.2v3.2h-3.2zM370.5 604.3h3.2v3.2h-3.2zM364.5 607.3h3.2v3.2h-3.2zM349.5 610.3h3.2v3.2h-3.2zM313.5 613.3h6.2v3.2h-6.2zM331.5 613.3h3.2v3.2h-3.2zM313.5 616.3h6.2v3.2h-6.2zM331.5 616.3h3.2v3.2h-3.2zM313.5 619.3h6.2v3.2h-6.2zM331.5 619.3h3.2v3.2h-3.2z"/>
<path fill="#e4fce4" d="M376.5 496.3h3.2v3.2h-3.2zM292.5 499.3h3.2v3.2h-3.2zM376.5 499.3h3.2v3.2h-3.2zM379.5 505.3h3.2v3.2h-3.2zM379.5 520.3h3.2v3.2h-3.2zM292.5 523.3h3.2v3.2h-3.2zM373.5 526.3h3.2v3.2h-3.2zM319.5 544.3h3.2v3.2h-3.2zM358.5 574.3h3.2v3.2h-3.2zM367.5 577.3h3.2v3.2h-3.2zM379.5 577.3h3.2v3.2h-3.2zM292.5 580.3h3.2v3.2h-3.2zM385.5 583.3h3.2v3.2h-3.2zM292.5 592.3h3.2v3.2h-3.2zM385.5 592.3h3.2v3.2h-3.2zM382.5 595.3h3.2v3.2h-3.2zM379.5 598.3h3.2v3.2h-3.2zM376.5 601.3h3.2v3.2h-3.2zM295.5 607.3h3.2v3.2h-3.2zM367.5 607.3h3.2v3.2h-3.2zM298.5 610.3h3.2v3.2h-3.2zM352.5 610.3h6.2v3.2h-6.2zM307.5 613.3h6.2v3.2h-6.2zM337.5 613.3h3.2v3.2h-3.2zM307.5 616.3h6.2v3.2h-6.2zM337.5 616.3h3.2v3.2h-3.2zM307.5 619.3h6.2v3.2h-6.2zM337.5 619.3h3.2v3.2h-3.2z"/>
<path fill="#eafcea" d="M379.5 496.3h3.2v3.2h-3.2zM382.5 502.3h3.2v3.2h-3.2zM385.5 514.3h3.2v3.2h-3.2zM382.5 520.3h3.2v3.2h-3.2zM382.5 523.3h3.2v3.2h-3.2zM376.5 526.3h3.2v3.2h-3.2zM292.5 529.3h3.2v3.2h-3.2zM295.5 538.3h3.2v3.2h-3.2zM352.5 538.3h3.2v3.2h-3.2zM307.5 565.3h3.2v3.2h-3.2zM355.5 571.3h3.2v3.2h-3.2zM292.5 574.3h3.2v3.2h-3.2zM382.5 577.3h3.2v3.2h-3.2zM388.5 583.3h9.2v3.2h-9.2zM388.5 595.3h9.2v3.2h-9.2zM292.5 598.3h3.2v3.2h-3.2zM385.5 598.3h3.2v3.2h-3.2zM379.5 601.3h3.2v3.2h-3.2zM376.5 604.3h3.2v3.2h-3.2zM361.5 610.3h6.2v3.2h-6.2zM301.5 613.3h3.2v3.2h-3.2zM346.5 613.3h3.2v3.2h-3.2zM301.5 616.3h3.2v3.2h-3.2zM346.5 616.3h3.2v3.2h-3.2zM301.5 619.3h3.2v3.2h-3.2zM346.5 619.3h3.2v3.2h-3.2z"/>
<path fill="#edfced" d="M382.5 496.3h6.2v3.2h-6.2zM382.5 499.3h6.2v3.2h-6.2zM385.5 502.3h3.2v3.2h-3.2zM385.5 505.3h3.2v3.2h-3.2zM385.5 508.3h3.2v3.2h-3.2zM385.5 511.3h3.2v3.2h-3.2zM388.5 514.3h9.2v3.2h-9.2zM385.5 517.3h12.2v3.2h-12.2zM385.5 520.3h12.2v3.2h-12.2zM385.5 523.3h3.2v3.2h-3.2zM379.5 526.3h3.2v3.2h-3.2zM370.5 529.3h3.2v3.2h-3.2zM292.5 532.3h3.2v3.2h-3.2zM301.5 541.3h3.2v3.2h-3.2zM349.5 541.3h3.2v3.2h-3.2zM313.5 544.3h3.2v3.2h-3.2zM331.5 562.3h9.2v3.2h-9.2zM301.5 565.3h6.2v3.2h-6.2zM388.5 598.3h9.2v3.2h-9.2zM292.5 601.3h3.2v3.2h-3.2zM382.5 601.3h3.2v3.2h-3.2zM379.5 604.3h3.2v3.2h-3.2zM373.5 607.3h3.2v3.2h-3.2zM295.5 610.3h3.2v3.2h-3.2zM367.5 610.3h3.2v3.2h-3.2zM298.5 613.3h3.2v3.2h-3.2zM349.5 613.3h6.2v3.2h-6.2zM298.5 616.3h3.2v3.2h-3.2zM349.5 616.3h6.2v3.2h-6.2zM298.5 619.3h3.2v3.2h-3.2zM349.5 619.3h6.2v3.2h-6.2z"/>
<path fill="#f0fcf0" d="M388.5 496.3h9.2v3.2h-9.2zM388.5 499.3h9.2v3.2h-9.2zM388.5 502.3h9.2v3.2h-9.2zM388.5 505.3h9.2v3.2h-9.2zM388.5 508.3h9.2v3.2h-9.2zM388.5 511.3h9.2v3.2h-9.2zM388.5 523.3h9.2v3.2h-9.2zM382.5 526.3h15.2v3.2h-15.2zM373.5 529.3h3.2v3.2h-3.2zM361.5 532.3h3.2v3.2h-3.2zM298.5 541.3h3.2v3.2h-3.2zM346.5 544.3h3.2v3.2h-3.2zM328.5 562.3h3.2v3.2h-3.2zM340.5 562.3h3.2v3.2h-3.2zM352.5 568.3h3.2v3.2h-3.2zM292.5 571.3h3.2v3.2h-3.2zM385.5 577.3h3.2v3.2h-3.2zM388.5 580.3h9.2v3.2h-9.2zM385.5 601.3h12.2v3.2h-12.2zM292.5 604.3h3.2v3.2h-3.2zM382.5 604.3h3.2v3.2h-3.2zM376.5 607.3h3.2v3.2h-3.2zM370.5 610.3h3.2v3.2h-3.2zM355.5 613.3h9.2v3.2h-9.2zM355.5 616.3h9.2v3.2h-9.2zM355.5 619.3h9.2v3.2h-9.2z"/>
<path fill="#c0f6c0" d="M295.5 499.3h3.2v3.2h-3.2zM364.5 508.3h3.2v3.2h-3.2zM364.5 523.3h3.2v3.2h-3.2zM349.5 535.3h3.2v3.2h-3.2zM328.5 541.3h9.2v3.2h-9.2zM337.5 568.3h3.2v3.2h-3.2zM355.5 577.3h3.2v3.2h-3.2zM295.5 580.3h3.2v3.2h-3.2zM367.5 586.3h3.2v3.2h-3.2zM367.5 589.3h3.2v3.2h-3.2zM364.5 595.3h3.2v3.2h-3.2zM361.5 598.3h3.2v3.2h-3.2zM298.5 601.3h3.2v3.2h-3.2zM355.5 601.3h3.2v3.2h-3.2zM301.5 604.3h3.2v3.2h-3.2zM313.5 607.3h3.2v3.2h-3.2zM334.5 607.3h3.2v3.2h-3.2z"/>
<path fill="#a2f0a2" d="M298.5 499.3h3.2v3.2h-3.2zM358.5 523.3h3.2v3.2h-3.2zM316.5 535.3h3.2v3.2h-3.2zM316.5 571.3h3.2v3.2h-3.2zM331.5 571.3h3.2v3.2h-3.2zM343.5 574.3h3.2v3.2h-3.2zM352.5 580.3h3.2v3.2h-3.2zM355.5 592.3h3.2v3.2h-3.2zM352.5 595.3h3.2v3.2h-3.2zM346.5 598.3h3.2v3.2h-3.2zM337.5 601.3h3.2v3.2h-3.2zM322.5 604.3h3.2v3.2h-3.2z"/>
<path fill="#90ed90" d="M301.5 499.3h3.2v3.2h-3.2zM349.5 502.3h3.2v3.2h-3.2zM298.5 508.3h3.2v3.2h-3.2zM298.5 514.3h3.2v3.2h-3.2zM355.5 514.3h3.2v3.2h-3.2zM355.5 523.3h3.2v3.2h-3.2zM349.5 529.3h3.2v3.2h-3.2zM316.5 532.3h3.2v3.2h-3.2zM313.5 574.3h3.2v3.2h-3.2zM334.5 574.3h3.2v3.2h-3.2zM304.5 577.3h3.2v3.2h-3.2zM349.5 592.3h3.2v3.2h-3.2zM310.5 598.3h3.2v3.2h-3.2zM337.5 598.3h3.2v3.2h-3.2zM322.5 601.3h6.2v3.2h-6.2z"/>
<path fill="#84ed84" d="M304.5 499.3h3.2v3.2h-3.2zM343.5 499.3h3.2v3.2h-3.2zM301.5 502.3h3.2v3.2h-3.2zM346.5 502.3h3.2v3.2h-3.2zM352.5 511.3h3.2v3.2h-3.2zM307.5 526.3h3.2v3.2h-3.2zM313.5 529.3h3.2v3.2h-3.2zM325.5 532.3h3.2v3.2h-3.2zM337.5 532.3h3.2v3.2h-3.2zM322.5 574.3h6.2v3.2h-6.2zM337.5 577.3h3.2v3.2h-3.2zM343.5 580.3h3.2v3.2h-3.2zM301.5 583.3h3.2v3.2h-3.2zM316.5 598.3h3.2v3.2h-3.2zM328.5 598.3h3.2v3.2h-3.2z"/>
<path fill="#75ea75" d="M310.5 499.3h3.2v3.2h-3.2zM307.5 502.3h3.2v3.2h-3.2zM304.5 505.3h3.2v3.2h-3.2zM304.5 520.3h3.2v3.2h-3.2zM313.5 526.3h3.2v3.2h-3.2zM322.5 529.3h3.2v3.2h-3.2zM340.5 529.3h3.2v3.2h-3.2zM319.5 577.3h3.2v3.2h-3.2zM328.5 577.3h3.2v3.2h-3.2zM337.5 580.3h3.2v3.2h-3.2zM343.5 586.3h3.2v3.2h-3.2zM304.5 589.3h3.2v3.2h-3.2zM316.5 595.3h3.2v3.2h-3.2z"/>
<path fill="#66e766" d="M325.5 499.3h9.2v3.2h-9.2zM316.5 502.3h3.2v3.2h-3.2zM310.5 508.3h3.2v3.2h-3.2zM346.5 514.3h3.2v3.2h-3.2zM310.5 517.3h3.2v3.2h-3.2zM316.5 523.3h3.2v3.2h-3.2zM346.5 523.3h3.2v3.2h-3.2zM322.5 526.3h3.2v3.2h-3.2zM340.5 526.3h3.2v3.2h-3.2zM319.5 580.3h3.2v3.2h-3.2zM328.5 580.3h3.2v3.2h-3.2zM310.5 583.3h3.2v3.2h-3.2zM337.5 586.3h3.2v3.2h-3.2zM310.5 589.3h3.2v3.2h-3.2zM316.5 592.3h3.2v3.2h-3.2z"/>
<path fill="#8ded8d" d="M346.5 499.3h3.2v3.2h-3.2zM298.5 511.3h3.2v3.2h-3.2zM352.5 526.3h3.2v3.2h-3.2zM331.5 574.3h3.2v3.2h-3.2zM301.5 580.3h3.2v3.2h-3.2zM346.5 580.3h3.2v3.2h-3.2zM349.5 583.3h3.2v3.2h-3.2zM304.5 595.3h3.2v3.2h-3.2zM343.5 595.3h3.2v3.2h-3.2zM334.5 598.3h3.2v3.2h-3.2z"/>
<path fill="#99f099" d="M349.5 499.3h3.2v3.2h-3.2zM298.5 502.3h3.2v3.2h-3.2zM355.5 508.3h3.2v3.2h-3.2zM304.5 529.3h3.2v3.2h-3.2zM322.5 535.3h3.2v3.2h-3.2zM337.5 535.3h3.2v3.2h-3.2zM307.5 574.3h3.2v3.2h-3.2zM301.5 577.3h3.2v3.2h-3.2zM346.5 577.3h3.2v3.2h-3.2zM298.5 583.3h3.2v3.2h-3.2zM298.5 589.3h3.2v3.2h-3.2zM352.5 592.3h3.2v3.2h-3.2zM331.5 601.3h3.2v3.2h-3.2z"/>
<path fill="#a5f0a5" d="M352.5 499.3h3.2v3.2h-3.2zM358.5 511.3h3.2v3.2h-3.2zM301.5 529.3h3.2v3.2h-3.2zM307.5 532.3h3.2v3.2h-3.2zM313.5 571.3h3.2v3.2h-3.2zM334.5 571.3h3.2v3.2h-3.2zM349.5 577.3h3.2v3.2h-3.2zM355.5 583.3h3.2v3.2h-3.2zM301.5 598.3h3.2v3.2h-3.2zM307.5 601.3h3.2v3.2h-3.2zM340.5 601.3h3.2v3.2h-3.2zM319.5 604.3h3.2v3.2h-3.2zM325.5 604.3h6.2v3.2h-6.2z"/>
<path fill="#aef3ae" d="M355.5 499.3h3.2v3.2h-3.2zM358.5 505.3h3.2v3.2h-3.2zM361.5 514.3h3.2v3.2h-3.2zM358.5 526.3h3.2v3.2h-3.2zM322.5 538.3h3.2v3.2h-3.2zM337.5 538.3h3.2v3.2h-3.2zM307.5 571.3h3.2v3.2h-3.2zM340.5 571.3h3.2v3.2h-3.2zM355.5 580.3h3.2v3.2h-3.2zM352.5 598.3h3.2v3.2h-3.2zM334.5 604.3h3.2v3.2h-3.2z"/>
<path fill="#baf3ba" d="M358.5 499.3h3.2v3.2h-3.2zM295.5 502.3h3.2v3.2h-3.2zM361.5 505.3h3.2v3.2h-3.2zM364.5 514.3h3.2v3.2h-3.2zM364.5 520.3h3.2v3.2h-3.2zM352.5 532.3h3.2v3.2h-3.2zM319.5 568.3h3.2v3.2h-3.2zM331.5 568.3h3.2v3.2h-3.2zM295.5 583.3h3.2v3.2h-3.2zM295.5 589.3h3.2v3.2h-3.2zM364.5 589.3h3.2v3.2h-3.2zM361.5 595.3h3.2v3.2h-3.2zM352.5 601.3h3.2v3.2h-3.2zM304.5 604.3h3.2v3.2h-3.2zM343.5 604.3h3.2v3.2h-3.2zM319.5 607.3h3.2v3.2h-3.2zM328.5 607.3h3.2v3.2h-3.2z"/>
<path fill="#d2f9d2" d="M367.5 499.3h3.2v3.2h-3.2zM370.5 505.3h3.2v3.2h-3.2zM370.5 523.3h3.2v3.2h-3.2zM361.5 529.3h3.2v3.2h-3.2zM298.5 535.3h3.2v3.2h-3.2zM352.5 535.3h3.2v3.2h-3.2zM304.5 538.3h3.2v3.2h-3.2zM343.5 541.3h3.2v3.2h-3.2zM301.5 568.3h3.2v3.2h-3.2zM346.5 568.3h3.2v3.2h-3.2zM355.5 574.3h3.2v3.2h-3.2zM367.5 580.3h6.2v3.2h-6.2zM376.5 583.3h3.2v3.2h-3.2zM376.5 592.3h3.2v3.2h-3.2zM373.5 595.3h3.2v3.2h-3.2zM361.5 604.3h3.2v3.2h-3.2zM349.5 607.3h3.2v3.2h-3.2zM313.5 610.3h6.2v3.2h-6.2zM331.5 610.3h3.2v3.2h-3.2z"/>
<path fill="#d8f9d8" d="M370.5 499.3h3.2v3.2h-3.2zM373.5 505.3h3.2v3.2h-3.2zM373.5 508.3h3.2v3.2h-3.2zM295.5 532.3h3.2v3.2h-3.2zM301.5 538.3h3.2v3.2h-3.2zM349.5 538.3h3.2v3.2h-3.2zM322.5 565.3h3.2v3.2h-3.2zM337.5 565.3h3.2v3.2h-3.2zM295.5 571.3h3.2v3.2h-3.2zM376.5 580.3h3.2v3.2h-3.2zM379.5 592.3h3.2v3.2h-3.2zM376.5 595.3h3.2v3.2h-3.2zM364.5 604.3h3.2v3.2h-3.2zM298.5 607.3h3.2v3.2h-3.2zM355.5 607.3h3.2v3.2h-3.2zM307.5 610.3h3.2v3.2h-3.2zM337.5 610.3h6.2v3.2h-6.2z"/>
<path fill="#def9de" d="M373.5 499.3h3.2v3.2h-3.2zM376.5 505.3h3.2v3.2h-3.2zM292.5 508.3h3.2v3.2h-3.2zM376.5 508.3h3.2v3.2h-3.2zM292.5 511.3h3.2v3.2h-3.2zM292.5 514.3h3.2v3.2h-3.2zM376.5 520.3h3.2v3.2h-3.2zM370.5 526.3h3.2v3.2h-3.2zM364.5 529.3h3.2v3.2h-3.2zM358.5 532.3h3.2v3.2h-3.2zM346.5 541.3h3.2v3.2h-3.2zM322.5 544.3h3.2v3.2h-3.2zM337.5 544.3h3.2v3.2h-3.2zM316.5 565.3h3.2v3.2h-3.2zM349.5 568.3h3.2v3.2h-3.2zM382.5 592.3h3.2v3.2h-3.2zM379.5 595.3h3.2v3.2h-3.2zM376.5 598.3h3.2v3.2h-3.2zM361.5 607.3h3.2v3.2h-3.2zM301.5 610.3h3.2v3.2h-3.2zM346.5 610.3h3.2v3.2h-3.2zM319.5 613.3h12.2v3.2h-12.2zM319.5 616.3h12.2v3.2h-12.2zM319.5 619.3h12.2v3.2h-12.2z"/>
<path fill="#e1fce1" d="M292.5 502.3h3.2v3.2h-3.2zM379.5 508.3h3.2v3.2h-3.2zM379.5 517.3h3.2v3.2h-3.2zM313.5 565.3h3.2v3.2h-3.2zM376.5 577.3h3.2v3.2h-3.2zM292.5 583.3h3.2v3.2h-3.2zM292.5 589.3h3.2v3.2h-3.2zM334.5 613.3h3.2v3.2h-3.2zM334.5 616.3h3.2v3.2h-3.2zM334.5 619.3h3.2v3.2h-3.2z"/>
<path fill="#63e763" d="M319.5 502.3h3.2v3.2h-3.2zM334.5 502.3h3.2v3.2h-3.2zM313.5 505.3h3.2v3.2h-3.2zM310.5 511.3h3.2v3.2h-3.2zM343.5 511.3h3.2v3.2h-3.2zM310.5 514.3h3.2v3.2h-3.2zM346.5 517.3h3.2v3.2h-3.2zM313.5 520.3h3.2v3.2h-3.2zM346.5 520.3h3.2v3.2h-3.2zM325.5 526.3h3.2v3.2h-3.2zM322.5 580.3h6.2v3.2h-6.2zM313.5 583.3h3.2v3.2h-3.2zM334.5 583.3h3.2v3.2h-3.2zM310.5 586.3h3.2v3.2h-3.2zM334.5 589.3h3.2v3.2h-3.2zM319.5 592.3h12.2v3.2h-12.2z"/>
<path fill="#60e760" d="M322.5 502.3h12.2v3.2h-12.2zM316.5 505.3h3.2v3.2h-3.2zM337.5 505.3h3.2v3.2h-3.2zM313.5 508.3h3.2v3.2h-3.2zM340.5 508.3h3.2v3.2h-3.2zM313.5 511.3h3.2v3.2h-3.2zM313.5 514.3h3.2v3.2h-3.2zM313.5 517.3h3.2v3.2h-3.2zM316.5 520.3h3.2v3.2h-3.2zM319.5 523.3h3.2v3.2h-3.2zM343.5 523.3h3.2v3.2h-3.2zM328.5 526.3h12.2v3.2h-12.2zM331.5 583.3h3.2v3.2h-3.2zM334.5 586.3h3.2v3.2h-3.2zM313.5 589.3h3.2v3.2h-3.2z"/>
<path fill="#b4f3b4" d="M358.5 502.3h3.2v3.2h-3.2zM295.5 508.3h3.2v3.2h-3.2zM361.5 508.3h3.2v3.2h-3.2zM295.5 514.3h3.2v3.2h-3.2zM295.5 517.3h3.2v3.2h-3.2zM298.5 529.3h3.2v3.2h-3.2zM301.5 532.3h3.2v3.2h-3.2zM346.5 535.3h3.2v3.2h-3.2zM340.5 538.3h3.2v3.2h-3.2zM304.5 571.3h3.2v3.2h-3.2zM343.5 571.3h3.2v3.2h-3.2zM349.5 574.3h3.2v3.2h-3.2zM361.5 586.3h3.2v3.2h-3.2zM361.5 592.3h3.2v3.2h-3.2zM358.5 595.3h3.2v3.2h-3.2zM298.5 598.3h3.2v3.2h-3.2zM355.5 598.3h3.2v3.2h-3.2zM349.5 601.3h3.2v3.2h-3.2zM307.5 604.3h3.2v3.2h-3.2z"/>
<path fill="#bdf6bd" d="M361.5 502.3h3.2v3.2h-3.2zM364.5 511.3h3.2v3.2h-3.2zM295.5 523.3h3.2v3.2h-3.2zM361.5 526.3h3.2v3.2h-3.2zM304.5 535.3h3.2v3.2h-3.2zM313.5 538.3h3.2v3.2h-3.2zM343.5 538.3h3.2v3.2h-3.2zM316.5 568.3h3.2v3.2h-3.2zM334.5 568.3h3.2v3.2h-3.2zM301.5 571.3h3.2v3.2h-3.2zM346.5 571.3h3.2v3.2h-3.2zM358.5 580.3h3.2v3.2h-3.2zM295.5 592.3h3.2v3.2h-3.2zM346.5 604.3h3.2v3.2h-3.2zM316.5 607.3h3.2v3.2h-3.2zM331.5 607.3h3.2v3.2h-3.2z"/>
<path fill="#c6f6c6" d="M364.5 502.3h3.2v3.2h-3.2zM367.5 511.3h3.2v3.2h-3.2zM367.5 514.3h3.2v3.2h-3.2zM301.5 535.3h3.2v3.2h-3.2zM337.5 541.3h3.2v3.2h-3.2zM310.5 568.3h3.2v3.2h-3.2zM349.5 571.3h3.2v3.2h-3.2zM295.5 577.3h3.2v3.2h-3.2zM367.5 583.3h3.2v3.2h-3.2zM370.5 586.3h3.2v3.2h-3.2zM370.5 592.3h3.2v3.2h-3.2zM295.5 595.3h3.2v3.2h-3.2zM352.5 604.3h3.2v3.2h-3.2zM307.5 607.3h3.2v3.2h-3.2zM340.5 607.3h3.2v3.2h-3.2z"/>
<path fill="#cff9cf" d="M367.5 502.3h3.2v3.2h-3.2zM370.5 508.3h3.2v3.2h-3.2zM295.5 574.3h3.2v3.2h-3.2zM364.5 580.3h3.2v3.2h-3.2zM376.5 589.3h3.2v3.2h-3.2zM364.5 601.3h3.2v3.2h-3.2zM358.5 604.3h3.2v3.2h-3.2zM301.5 607.3h3.2v3.2h-3.2zM319.5 610.3h12.2v3.2h-12.2z"/>
<path fill="#fff0f0" d="M286.5 505.3h3.2v3.2h-3.2zM286.5 508.3h3.2v3.2h-3.2zM286.5 511.3h3.2v3.2h-3.2zM286.5 514.3h3.2v3.2h-3.2zM286.5 517.3h3.2v3.2h-3.2zM355.5 538.3h3.2v3.2h-3.2zM328.5 550.3h3.2v3.2h-3.2zM343.5 550.3h3.2v3.2h-3.2zM328.5 559.3h3.2v3.2h-3.2zM298.5 562.3h3.2v3.2h-3.2zM310.5 562.3h3.2v3.2h-3.2z"/>
<path fill="#b7f3b7" d="M295.5 505.3h3.2v3.2h-3.2zM364.5 517.3h3.2v3.2h-3.2zM295.5 520.3h3.2v3.2h-3.2zM307.5 535.3h3.2v3.2h-3.2zM316.5 538.3h3.2v3.2h-3.2zM322.5 568.3h9.2v3.2h-9.2zM298.5 574.3h3.2v3.2h-3.2zM295.5 586.3h3.2v3.2h-3.2zM340.5 604.3h3.2v3.2h-3.2zM322.5 607.3h6.2v3.2h-6.2z"/>
<path fill="#93f093" d="M298.5 505.3h3.2v3.2h-3.2zM355.5 511.3h3.2v3.2h-3.2zM310.5 574.3h3.2v3.2h-3.2zM346.5 595.3h3.2v3.2h-3.2z"/>
<path fill="#5de75d" d="M319.5 505.3h6.2v3.2h-6.2zM334.5 505.3h3.2v3.2h-3.2zM316.5 508.3h3.2v3.2h-3.2zM316.5 511.3h3.2v3.2h-3.2zM340.5 511.3h3.2v3.2h-3.2zM343.5 514.3h3.2v3.2h-3.2zM316.5 517.3h3.2v3.2h-3.2zM322.5 523.3h3.2v3.2h-3.2zM316.5 583.3h3.2v3.2h-3.2zM328.5 583.3h3.2v3.2h-3.2zM313.5 586.3h3.2v3.2h-3.2zM316.5 589.3h3.2v3.2h-3.2zM331.5 589.3h3.2v3.2h-3.2z"/>
<path fill="#5ae75a" d="M325.5 505.3h9.2v3.2h-9.2zM319.5 508.3h3.2v3.2h-3.2zM337.5 508.3h3.2v3.2h-3.2zM316.5 514.3h3.2v3.2h-3.2zM343.5 517.3h3.2v3.2h-3.2zM319.5 520.3h3.2v3.2h-3.2zM343.5 520.3h3.2v3.2h-3.2zM325.5 523.3h3.2v3.2h-3.2zM340.5 523.3h3.2v3.2h-3.2zM319.5 583.3h9.2v3.2h-9.2zM316.5 586.3h3.2v3.2h-3.2zM331.5 586.3h3.2v3.2h-3.2zM319.5 589.3h3.2v3.2h-3.2zM328.5 589.3h3.2v3.2h-3.2z"/>
<path fill="#9ff09f" d="M355.5 505.3h3.2v3.2h-3.2zM358.5 514.3h3.2v3.2h-3.2zM298.5 523.3h3.2v3.2h-3.2zM352.5 529.3h3.2v3.2h-3.2zM340.5 535.3h3.2v3.2h-3.2zM319.5 571.3h3.2v3.2h-3.2zM328.5 571.3h3.2v3.2h-3.2zM304.5 574.3h3.2v3.2h-3.2zM298.5 580.3h3.2v3.2h-3.2zM355.5 586.3h3.2v3.2h-3.2zM298.5 592.3h3.2v3.2h-3.2zM310.5 601.3h3.2v3.2h-3.2z"/>
<path fill="#fff6f6" d="M289.5 508.3h3.2v3.2h-3.2zM289.5 511.3h3.2v3.2h-3.2zM289.5 514.3h3.2v3.2h-3.2zM286.5 529.3h3.2v3.2h-3.2zM379.5 532.3h3.2v3.2h-3.2zM385.5 535.3h3.2v3.2h-3.2zM388.5 538.3h9.2v3.2h-9.2zM295.5 544.3h9.2v3.2h-9.2zM349.5 544.3h3.2v3.2h-3.2zM316.5 547.3h3.2v3.2h-3.2zM346.5 547.3h3.2v3.2h-3.2zM292.5 550.3h3.2v3.2h-3.2zM292.5 556.3h3.2v3.2h-3.2zM292.5 559.3h3.2v3.2h-3.2zM334.5 559.3h9.2v3.2h-9.2zM313.5 562.3h3.2v3.2h-3.2zM286.5 574.3h3.2v3.2h-3.2zM286.5 598.3h3.2v3.2h-3.2zM286.5 601.3h3.2v3.2h-3.2z"/>
<path fill="#5ae45a" d="M322.5 508.3h3.2v3.2h-3.2zM319.5 511.3h3.2v3.2h-3.2zM322.5 589.3h6.2v3.2h-6.2z"/>
<path fill="#57e457" d="M325.5 508.3h12.2v3.2h-12.2zM322.5 511.3h18.2v3.2h-18.2zM319.5 514.3h24.2v3.2h-24.2zM319.5 517.3h24.2v3.2h-24.2zM322.5 520.3h21.2v3.2h-21.2zM328.5 523.3h12.2v3.2h-12.2zM319.5 586.3h12.2v3.2h-12.2z"/>
<path fill="#8aed8a" d="M352.5 508.3h3.2v3.2h-3.2zM355.5 517.3h3.2v3.2h-3.2zM355.5 520.3h3.2v3.2h-3.2zM301.5 523.3h3.2v3.2h-3.2zM304.5 526.3h3.2v3.2h-3.2zM310.5 529.3h3.2v3.2h-3.2zM319.5 532.3h3.2v3.2h-3.2zM340.5 532.3h3.2v3.2h-3.2zM316.5 574.3h3.2v3.2h-3.2zM340.5 577.3h3.2v3.2h-3.2zM349.5 589.3h3.2v3.2h-3.2zM301.5 592.3h3.2v3.2h-3.2zM313.5 598.3h3.2v3.2h-3.2z"/>
<path fill="#c9f6c9" d="M367.5 508.3h3.2v3.2h-3.2zM367.5 523.3h3.2v3.2h-3.2zM307.5 538.3h3.2v3.2h-3.2zM346.5 538.3h3.2v3.2h-3.2zM319.5 541.3h3.2v3.2h-3.2zM340.5 541.3h3.2v3.2h-3.2zM307.5 568.3h3.2v3.2h-3.2zM343.5 568.3h3.2v3.2h-3.2zM298.5 571.3h3.2v3.2h-3.2zM361.5 580.3h3.2v3.2h-3.2zM370.5 583.3h3.2v3.2h-3.2zM373.5 586.3h3.2v3.2h-3.2zM373.5 589.3h3.2v3.2h-3.2zM367.5 595.3h3.2v3.2h-3.2zM364.5 598.3h3.2v3.2h-3.2zM361.5 601.3h3.2v3.2h-3.2zM355.5 604.3h3.2v3.2h-3.2zM304.5 607.3h3.2v3.2h-3.2zM343.5 607.3h3.2v3.2h-3.2z"/>
<path fill="#6cea6c" d="M346.5 511.3h3.2v3.2h-3.2zM349.5 517.3h3.2v3.2h-3.2zM307.5 589.3h3.2v3.2h-3.2z"/>
<path fill="#cff6cf" d="M370.5 511.3h3.2v3.2h-3.2zM370.5 520.3h3.2v3.2h-3.2zM316.5 541.3h3.2v3.2h-3.2zM304.5 568.3h3.2v3.2h-3.2zM358.5 577.3h3.2v3.2h-3.2zM376.5 586.3h3.2v3.2h-3.2zM367.5 598.3h3.2v3.2h-3.2zM346.5 607.3h3.2v3.2h-3.2z"/>
<path fill="#abf3ab" d="M361.5 517.3h3.2v3.2h-3.2zM361.5 520.3h3.2v3.2h-3.2zM304.5 532.3h3.2v3.2h-3.2zM349.5 532.3h3.2v3.2h-3.2zM325.5 538.3h3.2v3.2h-3.2zM334.5 538.3h3.2v3.2h-3.2zM310.5 571.3h3.2v3.2h-3.2zM346.5 574.3h3.2v3.2h-3.2zM298.5 577.3h3.2v3.2h-3.2zM358.5 586.3h3.2v3.2h-3.2zM358.5 592.3h3.2v3.2h-3.2zM298.5 595.3h3.2v3.2h-3.2zM355.5 595.3h3.2v3.2h-3.2zM304.5 601.3h3.2v3.2h-3.2zM343.5 601.3h3.2v3.2h-3.2zM313.5 604.3h3.2v3.2h-3.2zM331.5 604.3h3.2v3.2h-3.2z"/>
<path fill="#96f096" d="M298.5 520.3h3.2v3.2h-3.2zM301.5 526.3h3.2v3.2h-3.2zM313.5 532.3h3.2v3.2h-3.2zM325.5 535.3h3.2v3.2h-3.2zM334.5 535.3h3.2v3.2h-3.2zM337.5 574.3h3.2v3.2h-3.2zM349.5 580.3h3.2v3.2h-3.2zM352.5 583.3h3.2v3.2h-3.2zM298.5 586.3h3.2v3.2h-3.2zM301.5 595.3h3.2v3.2h-3.2zM307.5 598.3h3.2v3.2h-3.2zM340.5 598.3h3.2v3.2h-3.2zM316.5 601.3h3.2v3.2h-3.2z"/>
<path fill="#81ed81" d="M301.5 520.3h3.2v3.2h-3.2zM328.5 532.3h3.2v3.2h-3.2zM334.5 532.3h3.2v3.2h-3.2zM310.5 577.3h3.2v3.2h-3.2zM304.5 580.3h3.2v3.2h-3.2zM346.5 583.3h3.2v3.2h-3.2zM301.5 589.3h3.2v3.2h-3.2zM337.5 595.3h3.2v3.2h-3.2zM319.5 598.3h3.2v3.2h-3.2zM325.5 598.3h3.2v3.2h-3.2z"/>
<path fill="#f3fcf3" d="M376.5 529.3h3.2v3.2h-3.2zM388.5 529.3h9.2v3.2h-9.2zM292.5 535.3h3.2v3.2h-3.2zM310.5 544.3h3.2v3.2h-3.2zM328.5 547.3h12.2v3.2h-12.2zM325.5 562.3h3.2v3.2h-3.2zM343.5 562.3h3.2v3.2h-3.2zM298.5 565.3h3.2v3.2h-3.2zM361.5 574.3h3.2v3.2h-3.2zM385.5 604.3h12.2v3.2h-12.2zM292.5 607.3h3.2v3.2h-3.2zM379.5 607.3h3.2v3.2h-3.2zM373.5 610.3h3.2v3.2h-3.2zM295.5 613.3h3.2v3.2h-3.2zM364.5 613.3h6.2v3.2h-6.2zM295.5 616.3h3.2v3.2h-3.2zM364.5 616.3h6.2v3.2h-6.2zM295.5 619.3h3.2v3.2h-3.2zM364.5 619.3h6.2v3.2h-6.2z"/>
<path fill="#f6fff6" d="M379.5 529.3h6.2v3.2h-6.2zM388.5 532.3h9.2v3.2h-9.2zM292.5 538.3h3.2v3.2h-3.2zM295.5 541.3h3.2v3.2h-3.2zM340.5 547.3h3.2v3.2h-3.2zM322.5 562.3h3.2v3.2h-3.2zM295.5 565.3h3.2v3.2h-3.2zM373.5 574.3h3.2v3.2h-3.2zM382.5 574.3h3.2v3.2h-3.2zM385.5 607.3h12.2v3.2h-12.2zM379.5 610.3h3.2v3.2h-3.2zM373.5 613.3h3.2v3.2h-3.2zM373.5 616.3h3.2v3.2h-3.2zM373.5 619.3h3.2v3.2h-3.2z"/>
<path fill="#f6fcf6" d="M385.5 529.3h3.2v3.2h-3.2zM325.5 547.3h3.2v3.2h-3.2zM292.5 568.3h3.2v3.2h-3.2zM376.5 574.3h6.2v3.2h-6.2zM388.5 577.3h9.2v3.2h-9.2zM382.5 607.3h3.2v3.2h-3.2zM376.5 610.3h3.2v3.2h-3.2zM370.5 613.3h3.2v3.2h-3.2zM370.5 616.3h3.2v3.2h-3.2zM370.5 619.3h3.2v3.2h-3.2z"/>
<path fill="#fffcfc" d="M289.5 532.3h3.2v3.2h-3.2zM382.5 532.3h3.2v3.2h-3.2zM289.5 535.3h3.2v3.2h-3.2zM286.5 538.3h6.2v3.2h-6.2zM292.5 544.3h3.2v3.2h-3.2zM304.5 544.3h3.2v3.2h-3.2zM292.5 562.3h3.2v3.2h-3.2zM316.5 562.3h3.2v3.2h-3.2zM346.5 562.3h3.2v3.2h-3.2zM286.5 565.3h3.2v3.2h-3.2zM289.5 568.3h3.2v3.2h-3.2zM289.5 571.3h3.2v3.2h-3.2zM367.5 574.3h3.2v3.2h-3.2zM289.5 601.3h3.2v3.2h-3.2zM289.5 604.3h3.2v3.2h-3.2zM289.5 607.3h3.2v3.2h-3.2zM286.5 610.3h6.2v3.2h-6.2zM286.5 613.3h3.2v3.2h-3.2zM286.5 616.3h3.2v3.2h-3.2zM286.5 619.3h3.2v3.2h-3.2z"/>
<path fill="#81ea81" d="M331.5 532.3h3.2v3.2h-3.2zM301.5 586.3h3.2v3.2h-3.2zM322.5 598.3h3.2v3.2h-3.2z"/>
<path fill="#fcfffc" d="M385.5 532.3h3.2v3.2h-3.2zM388.5 535.3h9.2v3.2h-9.2zM292.5 541.3h3.2v3.2h-3.2zM307.5 544.3h3.2v3.2h-3.2zM286.5 547.3h3.2v3.2h-3.2zM286.5 550.3h6.2v3.2h-6.2zM286.5 553.3h6.2v3.2h-6.2zM286.5 556.3h6.2v3.2h-6.2zM286.5 559.3h6.2v3.2h-6.2zM319.5 562.3h3.2v3.2h-3.2zM292.5 565.3h3.2v3.2h-3.2zM364.5 574.3h3.2v3.2h-3.2zM388.5 610.3h9.2v3.2h-9.2zM382.5 613.3h6.2v3.2h-6.2zM382.5 616.3h6.2v3.2h-6.2zM382.5 619.3h6.2v3.2h-6.2z"/>
<path fill="#ffe4e4" d="M361.5 535.3h3.2v3.2h-3.2zM301.5 547.3h6.2v3.2h-6.2zM319.5 550.3h3.2v3.2h-3.2zM328.5 553.3h3.2v3.2h-3.2zM328.5 556.3h3.2v3.2h-3.2zM319.5 559.3h3.2v3.2h-3.2zM388.5 565.3h9.2v3.2h-9.2z"/>
<path fill="#ffd8db" d="M364.5 535.3h3.2v3.2h-3.2zM310.5 550.3h3.2v3.2h-3.2zM304.5 559.3h6.2v3.2h-6.2z"/>
<path fill="#ffd5d5" d="M367.5 535.3h3.2v3.2h-3.2zM379.5 538.3h3.2v3.2h-3.2zM355.5 541.3h3.2v3.2h-3.2zM385.5 544.3h3.2v3.2h-3.2zM313.5 553.3h3.2v3.2h-3.2zM301.5 556.3h3.2v3.2h-3.2zM385.5 565.3h3.2v3.2h-3.2z"/>
<path fill="#ffd8d8" d="M370.5 535.3h3.2v3.2h-3.2zM301.5 550.3h9.2v3.2h-9.2zM349.5 550.3h3.2v3.2h-3.2zM316.5 553.3h3.2v3.2h-3.2zM349.5 559.3h3.2v3.2h-3.2zM382.5 568.3h3.2v3.2h-3.2zM364.5 571.3h6.2v3.2h-6.2z"/>
<path fill="#ffdbdb" d="M373.5 535.3h3.2v3.2h-3.2zM352.5 544.3h3.2v3.2h-3.2zM388.5 550.3h9.2v3.2h-9.2zM298.5 553.3h3.2v3.2h-3.2zM319.5 553.3h3.2v3.2h-3.2zM388.5 553.3h9.2v3.2h-9.2zM298.5 556.3h3.2v3.2h-3.2zM319.5 556.3h3.2v3.2h-3.2zM388.5 556.3h9.2v3.2h-9.2zM301.5 559.3h3.2v3.2h-3.2zM310.5 559.3h3.2v3.2h-3.2zM388.5 559.3h9.2v3.2h-9.2z"/>
<path fill="#ffe1e1" d="M376.5 535.3h3.2v3.2h-3.2zM385.5 541.3h3.2v3.2h-3.2zM349.5 547.3h3.2v3.2h-3.2zM388.5 547.3h9.2v3.2h-9.2zM316.5 550.3h3.2v3.2h-3.2zM325.5 553.3h3.2v3.2h-3.2zM346.5 553.3h3.2v3.2h-3.2zM325.5 556.3h3.2v3.2h-3.2zM346.5 556.3h3.2v3.2h-3.2zM298.5 559.3h3.2v3.2h-3.2zM316.5 559.3h3.2v3.2h-3.2zM361.5 571.3h3.2v3.2h-3.2zM373.5 571.3h3.2v3.2h-3.2z"/>
<path fill="#ffe7e7" d="M379.5 535.3h3.2v3.2h-3.2zM388.5 544.3h9.2v3.2h-9.2zM298.5 547.3h3.2v3.2h-3.2zM307.5 547.3h3.2v3.2h-3.2zM295.5 550.3h3.2v3.2h-3.2zM346.5 550.3h3.2v3.2h-3.2zM295.5 553.3h3.2v3.2h-3.2zM331.5 553.3h3.2v3.2h-3.2zM343.5 553.3h3.2v3.2h-3.2zM295.5 556.3h3.2v3.2h-3.2zM331.5 556.3h3.2v3.2h-3.2zM346.5 559.3h3.2v3.2h-3.2zM349.5 562.3h3.2v3.2h-3.2zM376.5 571.3h3.2v3.2h-3.2z"/>
<path fill="#ffeded" d="M382.5 535.3h3.2v3.2h-3.2zM388.5 541.3h9.2v3.2h-9.2zM295.5 547.3h3.2v3.2h-3.2zM313.5 547.3h3.2v3.2h-3.2zM325.5 550.3h3.2v3.2h-3.2zM325.5 559.3h3.2v3.2h-3.2zM301.5 562.3h9.2v3.2h-9.2zM382.5 571.3h3.2v3.2h-3.2z"/>
<path fill="#ffd5d8" d="M358.5 538.3h3.2v3.2h-3.2zM316.5 556.3h3.2v3.2h-3.2z"/>
<path fill="#ffc6c6" d="M361.5 538.3h3.2v3.2h-3.2zM385.5 550.3h3.2v3.2h-3.2zM385.5 559.3h3.2v3.2h-3.2zM382.5 565.3h3.2v3.2h-3.2z"/>
<path fill="#fcc0c0" d="M364.5 538.3h3.2v3.2h-3.2zM361.5 568.3h3.2v3.2h-3.2z"/>
<path fill="#fcbdbd" d="M367.5 538.3h3.2v3.2h-3.2zM358.5 541.3h3.2v3.2h-3.2zM352.5 556.3h3.2v3.2h-3.2zM370.5 568.3h3.2v3.2h-3.2z"/>
<path fill="#fcc3c3" d="M370.5 538.3h3.2v3.2h-3.2zM382.5 544.3h3.2v3.2h-3.2zM373.5 568.3h3.2v3.2h-3.2z"/>
<path fill="#ffc6c9" d="M373.5 538.3h3.2v3.2h-3.2z"/>
<path fill="#ffcfcf" d="M376.5 538.3h3.2v3.2h-3.2zM352.5 562.3h3.2v3.2h-3.2zM358.5 568.3h3.2v3.2h-3.2zM379.5 568.3h3.2v3.2h-3.2z"/>
<path fill="#ffdee1" d="M382.5 538.3h3.2v3.2h-3.2z"/>
<path fill="#ffeaea" d="M385.5 538.3h3.2v3.2h-3.2zM310.5 547.3h3.2v3.2h-3.2zM322.5 550.3h3.2v3.2h-3.2zM334.5 553.3h9.2v3.2h-9.2zM334.5 556.3h12.2v3.2h-12.2zM295.5 559.3h3.2v3.2h-3.2zM355.5 568.3h3.2v3.2h-3.2zM388.5 568.3h9.2v3.2h-9.2zM379.5 571.3h3.2v3.2h-3.2z"/>
<path fill="#fcaeb1" d="M361.5 541.3h3.2v3.2h-3.2z"/>
<path fill="#fca8a8" d="M364.5 541.3h6.2v3.2h-6.2zM376.5 544.3h3.2v3.2h-3.2zM379.5 547.3h3.2v3.2h-3.2z"/>
<path fill="#fcabae" d="M370.5 541.3h3.2v3.2h-3.2z"/>
<path fill="#fcb1b4" d="M373.5 541.3h3.2v3.2h-3.2zM358.5 565.3h3.2v3.2h-3.2z"/>
<path fill="#fcbaba" d="M376.5 541.3h3.2v3.2h-3.2zM382.5 562.3h3.2v3.2h-3.2zM379.5 565.3h3.2v3.2h-3.2z"/>
<path fill="#ffc3c6" d="M379.5 541.3h3.2v3.2h-3.2z"/>
<path fill="#ffd2d2" d="M382.5 541.3h3.2v3.2h-3.2zM304.5 553.3h9.2v3.2h-9.2zM349.5 553.3h3.2v3.2h-3.2zM304.5 556.3h9.2v3.2h-9.2zM349.5 556.3h3.2v3.2h-3.2z"/>
<path fill="#fcc0c3" d="M355.5 544.3h3.2v3.2h-3.2z"/>
<path fill="#fcabab" d="M358.5 544.3h3.2v3.2h-3.2zM355.5 550.3h3.2v3.2h-3.2zM355.5 559.3h3.2v3.2h-3.2z"/>
<path fill="#fc9c9c" d="M361.5 544.3h3.2v3.2h-3.2zM358.5 547.3h3.2v3.2h-3.2zM379.5 553.3h3.2v3.2h-3.2zM376.5 562.3h3.2v3.2h-3.2zM364.5 565.3h6.2v3.2h-6.2z"/>
<path fill="#fc9396" d="M364.5 544.3h3.2v3.2h-3.2z"/>
<path fill="#fc9393" d="M367.5 544.3h3.2v3.2h-3.2zM358.5 550.3h3.2v3.2h-3.2zM358.5 559.3h3.2v3.2h-3.2zM373.5 562.3h3.2v3.2h-3.2z"/>
<path fill="#fc9999" d="M370.5 544.3h3.2v3.2h-3.2z"/>
<path fill="#fc9f9f" d="M373.5 544.3h3.2v3.2h-3.2zM379.5 550.3h3.2v3.2h-3.2zM379.5 559.3h3.2v3.2h-3.2zM358.5 562.3h3.2v3.2h-3.2zM370.5 565.3h3.2v3.2h-3.2z"/>
<path fill="#fcb4b4" d="M379.5 544.3h3.2v3.2h-3.2zM355.5 547.3h3.2v3.2h-3.2z"/>
<path fill="#f9fff9" d="M322.5 547.3h3.2v3.2h-3.2zM343.5 547.3h3.2v3.2h-3.2zM349.5 565.3h3.2v3.2h-3.2zM370.5 574.3h3.2v3.2h-3.2zM385.5 574.3h3.2v3.2h-3.2zM292.5 610.3h3.2v3.2h-3.2zM382.5 610.3h6.2v3.2h-6.2zM292.5 613.3h3.2v3.2h-3.2zM376.5 613.3h6.2v3.2h-6.2zM292.5 616.3h3.2v3.2h-3.2zM376.5 616.3h6.2v3.2h-6.2zM292.5 619.3h3.2v3.2h-3.2zM376.5 619.3h6.2v3.2h-6.2z"/>
<path fill="#ffcccc" d="M352.5 547.3h3.2v3.2h-3.2zM385.5 547.3h3.2v3.2h-3.2zM385.5 562.3h3.2v3.2h-3.2z"/>
<path fill="#fc8d90" d="M361.5 547.3h3.2v3.2h-3.2zM358.5 553.3h3.2v3.2h-3.2zM358.5 556.3h3.2v3.2h-3.2z"/>
<path fill="#fc8787" d="M364.5 547.3h3.2v3.2h-3.2zM373.5 550.3h3.2v3.2h-3.2zM373.5 559.3h3.2v3.2h-3.2zM367.5 562.3h3.2v3.2h-3.2z"/>
<path fill="#fc8487" d="M367.5 547.3h3.2v3.2h-3.2z"/>
<path fill="#fc8a8a" d="M370.5 547.3h3.2v3.2h-3.2z"/>
<path fill="#fc9090" d="M373.5 547.3h3.2v3.2h-3.2zM361.5 562.3h3.2v3.2h-3.2z"/>
<path fill="#fc999c" d="M376.5 547.3h3.2v3.2h-3.2zM379.5 556.3h3.2v3.2h-3.2z"/>
<path fill="#fcb7b7" d="M382.5 547.3h3.2v3.2h-3.2zM355.5 562.3h3.2v3.2h-3.2zM367.5 568.3h3.2v3.2h-3.2z"/>
<path fill="#ffdede" d="M298.5 550.3h3.2v3.2h-3.2zM322.5 553.3h3.2v3.2h-3.2zM322.5 556.3h3.2v3.2h-3.2zM313.5 559.3h3.2v3.2h-3.2zM388.5 562.3h9.2v3.2h-9.2z"/>
<path fill="#ffdbde" d="M313.5 550.3h3.2v3.2h-3.2zM370.5 571.3h3.2v3.2h-3.2z"/>
<path fill="#fff0f3" d="M340.5 550.3h3.2v3.2h-3.2z"/>
<path fill="#ffc3c3" d="M352.5 550.3h3.2v3.2h-3.2zM385.5 553.3h3.2v3.2h-3.2zM385.5 556.3h3.2v3.2h-3.2zM352.5 559.3h3.2v3.2h-3.2z"/>
<path fill="#fc8484" d="M361.5 550.3h12.2v3.2h-12.2zM361.5 553.3h15.2v3.2h-15.2zM361.5 556.3h15.2v3.2h-15.2zM361.5 559.3h12.2v3.2h-12.2z"/>
<path fill="#fc9093" d="M376.5 550.3h3.2v3.2h-3.2zM376.5 559.3h3.2v3.2h-3.2z"/>
<path fill="#fcb1b1" d="M382.5 550.3h3.2v3.2h-3.2zM382.5 559.3h3.2v3.2h-3.2z"/>
<path fill="#fff3f6" d="M292.5 553.3h3.2v3.2h-3.2zM286.5 577.3h3.2v3.2h-3.2z"/>
<path fill="#ffd2d5" d="M301.5 553.3h3.2v3.2h-3.2zM313.5 556.3h3.2v3.2h-3.2z"/>
<path fill="#fcbdc0" d="M352.5 553.3h3.2v3.2h-3.2z"/>
<path fill="#fca5a5" d="M355.5 553.3h3.2v3.2h-3.2zM355.5 556.3h3.2v3.2h-3.2zM361.5 565.3h3.2v3.2h-3.2z"/>
<path fill="#fc8d8d" d="M376.5 553.3h3.2v3.2h-3.2zM376.5 556.3h3.2v3.2h-3.2zM370.5 562.3h3.2v3.2h-3.2z"/>
<path fill="#fcaeae" d="M382.5 553.3h3.2v3.2h-3.2zM382.5 556.3h3.2v3.2h-3.2zM376.5 565.3h3.2v3.2h-3.2z"/>
<path fill="#ffe7ea" d="M322.5 559.3h3.2v3.2h-3.2z"/>
<path fill="#fc878a" d="M364.5 562.3h3.2v3.2h-3.2z"/>
<path fill="#fca8ab" d="M379.5 562.3h3.2v3.2h-3.2z"/>
<path fill="#ffe4e7" d="M352.5 565.3h3.2v3.2h-3.2z"/>
<path fill="#ffc9c9" d="M355.5 565.3h3.2v3.2h-3.2zM376.5 568.3h3.2v3.2h-3.2z"/>
<path fill="#fca5a8" d="M373.5 565.3h3.2v3.2h-3.2z"/>
<path fill="#fff9fc" d="M286.5 568.3h3.2v3.2h-3.2z"/>
<path fill="#fcb7ba" d="M364.5 568.3h3.2v3.2h-3.2z"/>
<path fill="#ffe1e4" d="M385.5 568.3h3.2v3.2h-3.2z"/>
</g>
<path d="M313.4 499.3V613.7M286.5 584.1H389.3M337.7 499.3V613.7M286.5 557H389.3M362.1 499.3V613.7M286.5 529.9H389.3" fill="none" stroke="#fff" stroke-opacity="0.14" stroke-width="0.6"/>
<rect x="338.2" y="559.5" width="51.8" height="55.5" fill="#a8a8a8" fill-opacity="0.1"/>
<path d="M338.2 559.5V615M338.2 559.5H390" fill="none" stroke="#fff" stroke-opacity="0.32" stroke-width="0.6"/>
</g>
<rect x="286.5" y="499.3" width="102.8" height="114.4" fill="none" stroke="#68686c" stroke-width="1.1"/>
<text x="289" y="622" font-size="8" text-anchor="middle" font-weight="bold" stroke="#000" stroke-width="0.18">0</text>
<text x="313.4" y="622" font-size="8" text-anchor="middle" font-weight="bold" stroke="#000" stroke-width="0.18">10</text>
<text x="337.7" y="622" font-size="8" text-anchor="middle" font-weight="bold" stroke="#000" stroke-width="0.18">20</text>
<text x="362.1" y="622" font-size="8" text-anchor="middle" font-weight="bold" stroke="#000" stroke-width="0.18">50</text>
<text x="386.4" y="622" font-size="8" text-anchor="middle" font-weight="bold" stroke="#000" stroke-width="0.18">70</text>
<text x="284.8" y="505.7" font-size="8" text-anchor="end" font-weight="bold" stroke="#000" stroke-width="0.18">70</text>
<text x="284.8" y="532.8" font-size="8" text-anchor="end" font-weight="bold" stroke="#000" stroke-width="0.18">50</text>
<text x="284.8" y="559.9" font-size="8" text-anchor="end" font-weight="bold" stroke="#000" stroke-width="0.18">20</text>
<text x="284.8" y="587" font-size="8" text-anchor="end" font-weight="bold" stroke="#000" stroke-width="0.18">10</text>
<text x="284.8" y="614.1" font-size="8" text-anchor="end" font-weight="bold" stroke="#000" stroke-width="0.18">0</text>
<text x="336" y="631.4" font-size="8" text-anchor="middle" font-weight="bold" stroke="#000" stroke-width="0.18">AKTi (µmol/L)</text>
<text x="271.8" y="552" font-size="8" text-anchor="middle" font-weight="bold" stroke="#000" stroke-width="0.18" transform="rotate(-90 271.8 552)">PARPi (µmol/L)</text>
</g>
<g>
<rect x="431.8" y="494.3" width="29.8" height="1.9" fill="url(#cbg4)"/>
<rect x="471.5" y="494.3" width="30.3" height="1.9" fill="url(#cbr4)"/>
<text x="435.5" y="493.8" font-size="8" text-anchor="middle" font-weight="bold" stroke="#000" stroke-width="0.18">-10</text>
<text x="466.7" y="493.8" font-size="8" text-anchor="middle" font-weight="bold" stroke="#000" stroke-width="0.18">0</text>
<text x="497.6" y="493.8" font-size="8" text-anchor="middle" font-weight="bold" stroke="#000" stroke-width="0.18">10</text>
<text x="467.8" y="474.4" font-size="8" text-anchor="middle" font-weight="bold" stroke="#000" stroke-width="0.18">Bliss synergy</text>
<text x="467.8" y="484.3" font-size="8" text-anchor="middle" font-weight="bold" stroke="#000" stroke-width="0.18">score 0.253</text>
<rect x="416.8" y="499.3" width="102" height="114.4" fill="#fff"/>
<g clip-path="url(#hc4)">
<g filter="url(#hblur)">
<path fill="#f3fcf3" d="M416.8 496.3h3.2v3.2h-3.2zM416.8 499.3h3.2v3.2h-3.2zM419.8 508.3h3.2v3.2h-3.2zM425.8 514.3h3.2v3.2h-3.2zM452.8 517.3h6.2v3.2h-6.2zM467.8 520.3h3.2v3.2h-3.2zM515.8 529.3h9.2v3.2h-9.2zM491.8 532.3h12.2v3.2h-12.2z"/>
<path fill="#e1fce1" d="M419.8 496.3h3.2v3.2h-3.2zM515.8 505.3h3.2v3.2h-3.2zM434.8 511.3h3.2v3.2h-3.2zM458.8 514.3h6.2v3.2h-6.2zM473.8 517.3h3.2v3.2h-3.2zM509.8 517.3h3.2v3.2h-3.2zM506.8 520.3h3.2v3.2h-3.2zM503.8 523.3h3.2v3.2h-3.2z"/>
<path fill="#cff9cf" d="M422.8 496.3h3.2v3.2h-3.2zM494.8 502.3h3.2v3.2h-3.2zM491.8 505.3h3.2v3.2h-3.2zM470.8 508.3h18.2v3.2h-18.2z"/>
<path fill="#bdf6bd" d="M425.8 496.3h3.2v3.2h-3.2zM479.8 496.3h3.2v3.2h-3.2zM479.8 499.3h3.2v3.2h-3.2zM476.8 502.3h3.2v3.2h-3.2zM431.8 505.3h3.2v3.2h-3.2zM464.8 505.3h3.2v3.2h-3.2z"/>
<path fill="#a8f0a8" d="M428.8 496.3h3.2v3.2h-3.2zM437.8 505.3h3.2v3.2h-3.2z"/>
<path fill="#90ed90" d="M431.8 496.3h3.2v3.2h-3.2zM458.8 499.3h3.2v3.2h-3.2z"/>
<path fill="#78ea78" d="M434.8 496.3h3.2v3.2h-3.2zM452.8 499.3h3.2v3.2h-3.2zM449.8 502.3h3.2v3.2h-3.2z"/>
<path fill="#66e766" d="M437.8 496.3h3.2v3.2h-3.2zM440.8 502.3h6.2v3.2h-6.2z"/>
<path fill="#5de75d" d="M440.8 496.3h6.2v3.2h-6.2zM446.8 499.3h3.2v3.2h-3.2z"/>
<path fill="#63e763" d="M446.8 496.3h3.2v3.2h-3.2z"/>
<path fill="#6fea6f" d="M449.8 496.3h3.2v3.2h-3.2zM437.8 502.3h3.2v3.2h-3.2z"/>
<path fill="#7bea7b" d="M452.8 496.3h3.2v3.2h-3.2z"/>
<path fill="#87ed87" d="M455.8 496.3h3.2v3.2h-3.2z"/>
<path fill="#93f093" d="M458.8 496.3h3.2v3.2h-3.2z"/>
<path fill="#9ff09f" d="M461.8 496.3h3.2v3.2h-3.2zM443.8 505.3h6.2v3.2h-6.2z"/>
<path fill="#a8f3a8" d="M464.8 496.3h3.2v3.2h-3.2zM452.8 505.3h3.2v3.2h-3.2z"/>
<path fill="#b1f3b1" d="M467.8 496.3h3.2v3.2h-3.2zM467.8 502.3h3.2v3.2h-3.2zM434.8 505.3h3.2v3.2h-3.2z"/>
<path fill="#b4f3b4" d="M470.8 496.3h3.2v3.2h-3.2zM470.8 499.3h3.2v3.2h-3.2zM458.8 505.3h3.2v3.2h-3.2z"/>
<path fill="#b7f3b7" d="M473.8 496.3h3.2v3.2h-3.2zM473.8 499.3h3.2v3.2h-3.2zM470.8 502.3h3.2v3.2h-3.2z"/>
<path fill="#baf6ba" d="M476.8 496.3h3.2v3.2h-3.2z"/>
<path fill="#c0f6c0" d="M482.8 496.3h3.2v3.2h-3.2zM482.8 499.3h3.2v3.2h-3.2zM425.8 502.3h3.2v3.2h-3.2zM479.8 502.3h3.2v3.2h-3.2zM467.8 505.3h3.2v3.2h-3.2z"/>
<path fill="#c6f6c6" d="M485.8 496.3h3.2v3.2h-3.2zM485.8 502.3h3.2v3.2h-3.2zM473.8 505.3h9.2v3.2h-9.2zM443.8 508.3h3.2v3.2h-3.2zM452.8 508.3h6.2v3.2h-6.2z"/>
<path fill="#c9f6c9" d="M488.8 496.3h3.2v3.2h-3.2zM488.8 499.3h3.2v3.2h-3.2zM488.8 502.3h3.2v3.2h-3.2zM428.8 505.3h3.2v3.2h-3.2zM482.8 505.3h3.2v3.2h-3.2zM440.8 508.3h3.2v3.2h-3.2zM458.8 508.3h6.2v3.2h-6.2z"/>
<path fill="#ccf6cc" d="M491.8 496.3h3.2v3.2h-3.2zM491.8 499.3h3.2v3.2h-3.2zM491.8 502.3h3.2v3.2h-3.2zM485.8 505.3h6.2v3.2h-6.2zM437.8 508.3h3.2v3.2h-3.2zM464.8 508.3h6.2v3.2h-6.2z"/>
<path fill="#cff6cf" d="M494.8 496.3h3.2v3.2h-3.2zM422.8 499.3h3.2v3.2h-3.2zM494.8 499.3h3.2v3.2h-3.2z"/>
<path fill="#d2f9d2" d="M497.8 496.3h6.2v3.2h-6.2zM497.8 499.3h6.2v3.2h-6.2zM422.8 502.3h3.2v3.2h-3.2zM497.8 502.3h3.2v3.2h-3.2zM494.8 505.3h6.2v3.2h-6.2zM434.8 508.3h3.2v3.2h-3.2zM488.8 508.3h6.2v3.2h-6.2z"/>
<path fill="#d5f9d5" d="M503.8 496.3h3.2v3.2h-3.2zM503.8 499.3h3.2v3.2h-3.2zM500.8 502.3h6.2v3.2h-6.2zM425.8 505.3h3.2v3.2h-3.2zM500.8 505.3h3.2v3.2h-3.2zM494.8 508.3h6.2v3.2h-6.2zM476.8 511.3h21.2v3.2h-21.2z"/>
<path fill="#d8f9d8" d="M506.8 496.3h3.2v3.2h-3.2zM506.8 499.3h3.2v3.2h-3.2zM506.8 502.3h3.2v3.2h-3.2zM503.8 505.3h3.2v3.2h-3.2zM431.8 508.3h3.2v3.2h-3.2zM500.8 508.3h3.2v3.2h-3.2zM446.8 511.3h30.2v3.2h-30.2zM497.8 511.3h3.2v3.2h-3.2zM482.8 514.3h15.2v3.2h-15.2zM488.8 517.3h6.2v3.2h-6.2z"/>
<path fill="#dbf9db" d="M509.8 496.3h3.2v3.2h-3.2zM509.8 499.3h3.2v3.2h-3.2zM509.8 502.3h3.2v3.2h-3.2zM506.8 505.3h3.2v3.2h-3.2zM503.8 508.3h3.2v3.2h-3.2zM443.8 511.3h3.2v3.2h-3.2zM500.8 511.3h3.2v3.2h-3.2zM476.8 514.3h6.2v3.2h-6.2zM497.8 514.3h6.2v3.2h-6.2zM482.8 517.3h6.2v3.2h-6.2zM494.8 517.3h6.2v3.2h-6.2zM488.8 520.3h9.2v3.2h-9.2z"/>
<path fill="#def9de" d="M512.8 496.3h3.2v3.2h-3.2zM512.8 499.3h3.2v3.2h-3.2zM512.8 502.3h3.2v3.2h-3.2zM509.8 505.3h6.2v3.2h-6.2zM428.8 508.3h3.2v3.2h-3.2zM506.8 508.3h6.2v3.2h-6.2zM440.8 511.3h3.2v3.2h-3.2zM503.8 511.3h6.2v3.2h-6.2zM470.8 514.3h6.2v3.2h-6.2zM503.8 514.3h3.2v3.2h-3.2zM476.8 517.3h6.2v3.2h-6.2zM500.8 517.3h6.2v3.2h-6.2zM482.8 520.3h6.2v3.2h-6.2zM497.8 520.3h6.2v3.2h-6.2zM488.8 523.3h12.2v3.2h-12.2z"/>
<path fill="#e1f9e1" d="M515.8 496.3h3.2v3.2h-3.2zM419.8 499.3h3.2v3.2h-3.2zM515.8 499.3h3.2v3.2h-3.2zM515.8 502.3h3.2v3.2h-3.2zM422.8 505.3h3.2v3.2h-3.2zM512.8 508.3h3.2v3.2h-3.2zM437.8 511.3h3.2v3.2h-3.2zM509.8 511.3h3.2v3.2h-3.2zM464.8 514.3h6.2v3.2h-6.2zM506.8 514.3h6.2v3.2h-6.2zM506.8 517.3h3.2v3.2h-3.2zM479.8 520.3h3.2v3.2h-3.2zM503.8 520.3h3.2v3.2h-3.2zM485.8 523.3h3.2v3.2h-3.2zM500.8 523.3h3.2v3.2h-3.2z"/>
<path fill="#e4fce4" d="M518.8 496.3h6.2v3.2h-6.2zM518.8 499.3h6.2v3.2h-6.2zM419.8 502.3h3.2v3.2h-3.2zM518.8 502.3h6.2v3.2h-6.2zM518.8 505.3h6.2v3.2h-6.2zM425.8 508.3h3.2v3.2h-3.2zM515.8 508.3h9.2v3.2h-9.2zM431.8 511.3h3.2v3.2h-3.2zM512.8 511.3h6.2v3.2h-6.2zM449.8 514.3h9.2v3.2h-9.2zM512.8 514.3h3.2v3.2h-3.2zM512.8 517.3h3.2v3.2h-3.2zM476.8 520.3h3.2v3.2h-3.2zM509.8 520.3h3.2v3.2h-3.2zM482.8 523.3h3.2v3.2h-3.2zM506.8 523.3h3.2v3.2h-3.2zM488.8 526.3h15.2v3.2h-15.2z"/>
<path fill="#baf3ba" d="M425.8 499.3h3.2v3.2h-3.2zM476.8 499.3h3.2v3.2h-3.2zM473.8 502.3h3.2v3.2h-3.2zM461.8 505.3h3.2v3.2h-3.2z"/>
<path fill="#a2f0a2" d="M428.8 499.3h3.2v3.2h-3.2zM461.8 502.3h3.2v3.2h-3.2zM440.8 505.3h3.2v3.2h-3.2z"/>
<path fill="#8aed8a" d="M431.8 499.3h3.2v3.2h-3.2z"/>
<path fill="#72ea72" d="M434.8 499.3h3.2v3.2h-3.2z"/>
<path fill="#60e760" d="M437.8 499.3h3.2v3.2h-3.2z"/>
<path fill="#5ae75a" d="M440.8 499.3h6.2v3.2h-6.2z"/>
<path fill="#69e769" d="M449.8 499.3h3.2v3.2h-3.2z"/>
<path fill="#84ed84" d="M455.8 499.3h3.2v3.2h-3.2zM452.8 502.3h3.2v3.2h-3.2z"/>
<path fill="#9cf09c" d="M461.8 499.3h3.2v3.2h-3.2z"/>
<path fill="#a5f0a5" d="M464.8 499.3h3.2v3.2h-3.2zM449.8 505.3h3.2v3.2h-3.2z"/>
<path fill="#aef3ae" d="M467.8 499.3h3.2v3.2h-3.2zM455.8 505.3h3.2v3.2h-3.2z"/>
<path fill="#c3f6c3" d="M485.8 499.3h3.2v3.2h-3.2zM482.8 502.3h3.2v3.2h-3.2zM470.8 505.3h3.2v3.2h-3.2zM446.8 508.3h6.2v3.2h-6.2z"/>
<path fill="#f6fcf6" d="M416.8 502.3h3.2v3.2h-3.2zM419.8 511.3h3.2v3.2h-3.2zM422.8 514.3h3.2v3.2h-3.2zM503.8 532.3h3.2v3.2h-3.2z"/>
<path fill="#abf3ab" d="M428.8 502.3h3.2v3.2h-3.2zM464.8 502.3h3.2v3.2h-3.2z"/>
<path fill="#96f096" d="M431.8 502.3h3.2v3.2h-3.2z"/>
<path fill="#81ed81" d="M434.8 502.3h3.2v3.2h-3.2z"/>
<path fill="#6ce76c" d="M446.8 502.3h3.2v3.2h-3.2z"/>
<path fill="#8ded8d" d="M455.8 502.3h3.2v3.2h-3.2z"/>
<path fill="#99f099" d="M458.8 502.3h3.2v3.2h-3.2z"/>
<path fill="#f9fff9" d="M416.8 505.3h3.2v3.2h-3.2zM416.8 508.3h3.2v3.2h-3.2zM419.8 514.3h3.2v3.2h-3.2zM443.8 517.3h6.2v3.2h-6.2zM464.8 520.3h3.2v3.2h-3.2zM485.8 532.3h3.2v3.2h-3.2zM512.8 532.3h12.2v3.2h-12.2z"/>
<path fill="#edfced" d="M419.8 505.3h3.2v3.2h-3.2zM425.8 511.3h3.2v3.2h-3.2zM431.8 514.3h6.2v3.2h-6.2zM461.8 517.3h3.2v3.2h-3.2zM470.8 520.3h3.2v3.2h-3.2zM518.8 523.3h6.2v3.2h-6.2zM479.8 526.3h3.2v3.2h-3.2zM512.8 526.3h6.2v3.2h-6.2zM485.8 529.3h6.2v3.2h-6.2zM500.8 529.3h6.2v3.2h-6.2z"/>
<path fill="#eafcea" d="M422.8 508.3h3.2v3.2h-3.2zM428.8 511.3h3.2v3.2h-3.2zM437.8 514.3h3.2v3.2h-3.2zM464.8 517.3h6.2v3.2h-6.2zM518.8 520.3h6.2v3.2h-6.2zM476.8 523.3h3.2v3.2h-3.2zM515.8 523.3h3.2v3.2h-3.2zM482.8 526.3h3.2v3.2h-3.2zM509.8 526.3h3.2v3.2h-3.2zM491.8 529.3h9.2v3.2h-9.2z"/>
<path fill="#fcfffc" d="M416.8 511.3h3.2v3.2h-3.2zM416.8 514.3h3.2v3.2h-3.2zM419.8 517.3h24.2v3.2h-24.2zM476.8 529.3h3.2v3.2h-3.2zM482.8 532.3h3.2v3.2h-3.2zM491.8 535.3h33.2v3.2h-33.2zM413.8 604.3h6.2v3.2h-6.2zM413.8 607.3h9.2v3.2h-9.2z"/>
<path fill="#f0fcf0" d="M422.8 511.3h3.2v3.2h-3.2zM428.8 514.3h3.2v3.2h-3.2zM458.8 517.3h3.2v3.2h-3.2zM473.8 523.3h3.2v3.2h-3.2zM476.8 526.3h3.2v3.2h-3.2zM518.8 526.3h6.2v3.2h-6.2zM482.8 529.3h3.2v3.2h-3.2zM506.8 529.3h9.2v3.2h-9.2z"/>
<path fill="#e7fce7" d="M518.8 511.3h6.2v3.2h-6.2zM440.8 514.3h9.2v3.2h-9.2zM515.8 514.3h9.2v3.2h-9.2zM470.8 517.3h3.2v3.2h-3.2zM515.8 517.3h9.2v3.2h-9.2zM473.8 520.3h3.2v3.2h-3.2zM512.8 520.3h6.2v3.2h-6.2zM479.8 523.3h3.2v3.2h-3.2zM509.8 523.3h6.2v3.2h-6.2zM485.8 526.3h3.2v3.2h-3.2zM503.8 526.3h6.2v3.2h-6.2z"/>
<path fill="#f6fff6" d="M449.8 517.3h3.2v3.2h-3.2zM470.8 523.3h3.2v3.2h-3.2zM473.8 526.3h3.2v3.2h-3.2zM479.8 529.3h3.2v3.2h-3.2zM488.8 532.3h3.2v3.2h-3.2zM506.8 532.3h6.2v3.2h-6.2z"/>
<path fill="#fffcfc" d="M416.8 520.3h3.2v3.2h-3.2zM461.8 520.3h3.2v3.2h-3.2zM467.8 523.3h3.2v3.2h-3.2zM413.8 526.3h3.2v3.2h-3.2zM470.8 526.3h3.2v3.2h-3.2zM479.8 532.3h3.2v3.2h-3.2zM512.8 538.3h12.2v3.2h-12.2zM413.8 595.3h3.2v3.2h-3.2zM416.8 598.3h3.2v3.2h-3.2zM419.8 601.3h3.2v3.2h-3.2zM500.8 604.3h15.2v3.2h-15.2zM488.8 607.3h36.2v3.2h-36.2zM425.8 610.3h3.2v3.2h-3.2zM473.8 610.3h15.2v3.2h-15.2zM422.8 613.3h6.2v3.2h-6.2zM467.8 613.3h9.2v3.2h-9.2zM422.8 616.3h6.2v3.2h-6.2zM467.8 616.3h9.2v3.2h-9.2zM422.8 619.3h6.2v3.2h-6.2zM467.8 619.3h9.2v3.2h-9.2z"/>
<path fill="#fff9f9" d="M419.8 520.3h3.2v3.2h-3.2zM416.8 523.3h3.2v3.2h-3.2zM413.8 529.3h3.2v3.2h-3.2zM473.8 529.3h3.2v3.2h-3.2zM413.8 532.3h3.2v3.2h-3.2zM485.8 535.3h3.2v3.2h-3.2zM491.8 538.3h6.2v3.2h-6.2zM500.8 538.3h12.2v3.2h-12.2zM497.8 541.3h27.2v3.2h-27.2zM500.8 544.3h24.2v3.2h-24.2zM413.8 592.3h3.2v3.2h-3.2zM416.8 595.3h3.2v3.2h-3.2zM503.8 601.3h15.2v3.2h-15.2zM422.8 604.3h3.2v3.2h-3.2zM488.8 604.3h12.2v3.2h-12.2zM515.8 604.3h9.2v3.2h-9.2zM425.8 607.3h3.2v3.2h-3.2zM476.8 607.3h12.2v3.2h-12.2zM428.8 610.3h3.2v3.2h-3.2zM467.8 610.3h6.2v3.2h-6.2zM428.8 613.3h3.2v3.2h-3.2zM464.8 613.3h3.2v3.2h-3.2zM428.8 616.3h3.2v3.2h-3.2zM464.8 616.3h3.2v3.2h-3.2zM428.8 619.3h3.2v3.2h-3.2zM464.8 619.3h3.2v3.2h-3.2z"/>
<path fill="#fff3f3" d="M422.8 520.3h3.2v3.2h-3.2zM458.8 520.3h3.2v3.2h-3.2zM464.8 523.3h3.2v3.2h-3.2zM416.8 529.3h3.2v3.2h-3.2zM470.8 529.3h3.2v3.2h-3.2zM479.8 535.3h3.2v3.2h-3.2zM485.8 538.3h3.2v3.2h-3.2zM488.8 541.3h3.2v3.2h-3.2zM488.8 544.3h3.2v3.2h-3.2zM488.8 547.3h6.2v3.2h-6.2zM494.8 550.3h12.2v3.2h-12.2zM416.8 592.3h3.2v3.2h-3.2zM512.8 595.3h12.2v3.2h-12.2zM497.8 598.3h9.2v3.2h-9.2zM422.8 601.3h3.2v3.2h-3.2zM479.8 601.3h12.2v3.2h-12.2zM425.8 604.3h3.2v3.2h-3.2zM470.8 604.3h9.2v3.2h-9.2zM428.8 607.3h3.2v3.2h-3.2zM467.8 607.3h3.2v3.2h-3.2zM431.8 610.3h3.2v3.2h-3.2zM461.8 610.3h3.2v3.2h-3.2zM437.8 613.3h9.2v3.2h-9.2zM449.8 613.3h9.2v3.2h-9.2zM437.8 616.3h9.2v3.2h-9.2zM449.8 616.3h9.2v3.2h-9.2zM437.8 619.3h9.2v3.2h-9.2zM449.8 619.3h9.2v3.2h-9.2z"/>
<path fill="#fff0f0" d="M425.8 520.3h3.2v3.2h-3.2zM419.8 523.3h3.2v3.2h-3.2zM467.8 526.3h3.2v3.2h-3.2zM416.8 532.3h3.2v3.2h-3.2zM473.8 532.3h3.2v3.2h-3.2zM482.8 538.3h3.2v3.2h-3.2zM485.8 541.3h3.2v3.2h-3.2zM485.8 544.3h3.2v3.2h-3.2zM485.8 547.3h3.2v3.2h-3.2zM485.8 550.3h9.2v3.2h-9.2zM494.8 553.3h30.2v3.2h-30.2zM416.8 589.3h3.2v3.2h-3.2zM515.8 592.3h9.2v3.2h-9.2zM419.8 595.3h3.2v3.2h-3.2zM500.8 595.3h9.2v3.2h-9.2zM482.8 598.3h12.2v3.2h-12.2zM473.8 601.3h6.2v3.2h-6.2zM467.8 604.3h3.2v3.2h-3.2zM464.8 607.3h3.2v3.2h-3.2zM434.8 610.3h3.2v3.2h-3.2zM455.8 610.3h6.2v3.2h-6.2z"/>
<path fill="#ffeaea" d="M428.8 520.3h3.2v3.2h-3.2zM422.8 523.3h3.2v3.2h-3.2zM419.8 526.3h3.2v3.2h-3.2zM470.8 532.3h3.2v3.2h-3.2zM473.8 535.3h3.2v3.2h-3.2zM416.8 538.3h3.2v3.2h-3.2zM476.8 538.3h3.2v3.2h-3.2zM416.8 541.3h3.2v3.2h-3.2zM479.8 541.3h3.2v3.2h-3.2zM416.8 544.3h3.2v3.2h-3.2zM479.8 544.3h3.2v3.2h-3.2zM416.8 547.3h3.2v3.2h-3.2zM479.8 547.3h3.2v3.2h-3.2zM416.8 550.3h3.2v3.2h-3.2zM479.8 550.3h3.2v3.2h-3.2zM416.8 553.3h3.2v3.2h-3.2zM479.8 553.3h6.2v3.2h-6.2zM416.8 556.3h3.2v3.2h-3.2zM482.8 556.3h21.2v3.2h-21.2zM416.8 559.3h3.2v3.2h-3.2zM515.8 559.3h9.2v3.2h-9.2zM416.8 562.3h3.2v3.2h-3.2zM416.8 565.3h3.2v3.2h-3.2zM416.8 568.3h3.2v3.2h-3.2zM416.8 571.3h3.2v3.2h-3.2zM416.8 574.3h3.2v3.2h-3.2zM416.8 577.3h3.2v3.2h-3.2zM416.8 580.3h3.2v3.2h-3.2zM518.8 586.3h6.2v3.2h-6.2zM509.8 589.3h6.2v3.2h-6.2zM500.8 592.3h3.2v3.2h-3.2zM476.8 595.3h12.2v3.2h-12.2zM470.8 598.3h3.2v3.2h-3.2zM467.8 601.3h3.2v3.2h-3.2zM464.8 604.3h3.2v3.2h-3.2zM458.8 607.3h3.2v3.2h-3.2zM440.8 610.3h9.2v3.2h-9.2z"/>
<path fill="#ffe7e7" d="M431.8 520.3h3.2v3.2h-3.2zM461.8 523.3h3.2v3.2h-3.2zM467.8 529.3h3.2v3.2h-3.2zM470.8 535.3h3.2v3.2h-3.2zM473.8 538.3h3.2v3.2h-3.2zM476.8 541.3h3.2v3.2h-3.2zM476.8 544.3h3.2v3.2h-3.2zM476.8 547.3h3.2v3.2h-3.2zM476.8 550.3h3.2v3.2h-3.2zM476.8 553.3h3.2v3.2h-3.2zM479.8 556.3h3.2v3.2h-3.2zM479.8 559.3h36.2v3.2h-36.2zM518.8 562.3h6.2v3.2h-6.2zM518.8 583.3h6.2v3.2h-6.2zM509.8 586.3h6.2v3.2h-6.2zM503.8 589.3h3.2v3.2h-3.2zM419.8 592.3h3.2v3.2h-3.2zM476.8 592.3h21.2v3.2h-21.2zM473.8 595.3h3.2v3.2h-3.2zM461.8 604.3h3.2v3.2h-3.2zM434.8 607.3h3.2v3.2h-3.2zM455.8 607.3h3.2v3.2h-3.2z"/>
<path fill="#ffe1e1" d="M434.8 520.3h3.2v3.2h-3.2zM425.8 523.3h3.2v3.2h-3.2zM422.8 526.3h3.2v3.2h-3.2zM419.8 532.3h3.2v3.2h-3.2zM467.8 532.3h3.2v3.2h-3.2zM470.8 538.3h3.2v3.2h-3.2zM470.8 541.3h3.2v3.2h-3.2zM473.8 550.3h3.2v3.2h-3.2zM473.8 553.3h3.2v3.2h-3.2zM473.8 556.3h3.2v3.2h-3.2zM476.8 562.3h3.2v3.2h-3.2zM476.8 565.3h3.2v3.2h-3.2zM485.8 565.3h12.2v3.2h-12.2zM503.8 565.3h12.2v3.2h-12.2zM476.8 568.3h12.2v3.2h-12.2zM515.8 568.3h9.2v3.2h-9.2zM479.8 571.3h6.2v3.2h-6.2zM518.8 577.3h6.2v3.2h-6.2zM512.8 580.3h6.2v3.2h-6.2zM479.8 583.3h6.2v3.2h-6.2zM503.8 583.3h6.2v3.2h-6.2zM476.8 586.3h12.2v3.2h-12.2zM497.8 586.3h6.2v3.2h-6.2zM419.8 589.3h3.2v3.2h-3.2zM473.8 589.3h3.2v3.2h-3.2zM488.8 589.3h6.2v3.2h-6.2zM470.8 592.3h3.2v3.2h-3.2zM458.8 604.3h3.2v3.2h-3.2zM437.8 607.3h3.2v3.2h-3.2zM449.8 607.3h3.2v3.2h-3.2z"/>
<path fill="#ffdede" d="M437.8 520.3h3.2v3.2h-3.2zM446.8 520.3h3.2v3.2h-3.2zM467.8 535.3h3.2v3.2h-3.2zM470.8 544.3h3.2v3.2h-3.2zM470.8 547.3h3.2v3.2h-3.2zM473.8 562.3h3.2v3.2h-3.2zM473.8 565.3h3.2v3.2h-3.2zM473.8 568.3h3.2v3.2h-3.2zM488.8 568.3h9.2v3.2h-9.2zM503.8 568.3h12.2v3.2h-12.2zM476.8 571.3h3.2v3.2h-3.2zM485.8 571.3h3.2v3.2h-3.2zM512.8 571.3h12.2v3.2h-12.2zM476.8 574.3h12.2v3.2h-12.2zM512.8 574.3h12.2v3.2h-12.2zM476.8 577.3h12.2v3.2h-12.2zM509.8 577.3h6.2v3.2h-6.2zM476.8 580.3h12.2v3.2h-12.2zM503.8 580.3h9.2v3.2h-9.2zM476.8 583.3h3.2v3.2h-3.2zM485.8 583.3h6.2v3.2h-6.2zM497.8 583.3h6.2v3.2h-6.2zM419.8 586.3h3.2v3.2h-3.2zM473.8 586.3h3.2v3.2h-3.2zM488.8 586.3h9.2v3.2h-9.2zM464.8 598.3h3.2v3.2h-3.2zM461.8 601.3h3.2v3.2h-3.2zM440.8 607.3h3.2v3.2h-3.2zM446.8 607.3h3.2v3.2h-3.2z"/>
<path fill="#ffdbdb" d="M440.8 520.3h6.2v3.2h-6.2zM461.8 526.3h3.2v3.2h-3.2zM419.8 535.3h3.2v3.2h-3.2zM470.8 553.3h3.2v3.2h-3.2zM470.8 556.3h3.2v3.2h-3.2zM470.8 559.3h3.2v3.2h-3.2zM491.8 571.3h21.2v3.2h-21.2zM473.8 574.3h3.2v3.2h-3.2zM488.8 574.3h6.2v3.2h-6.2zM503.8 574.3h9.2v3.2h-9.2zM473.8 577.3h3.2v3.2h-3.2zM488.8 577.3h6.2v3.2h-6.2zM500.8 577.3h9.2v3.2h-9.2zM473.8 580.3h3.2v3.2h-3.2zM488.8 580.3h15.2v3.2h-15.2zM419.8 583.3h3.2v3.2h-3.2zM491.8 583.3h6.2v3.2h-6.2zM470.8 586.3h3.2v3.2h-3.2zM422.8 592.3h3.2v3.2h-3.2zM467.8 592.3h3.2v3.2h-3.2zM434.8 604.3h3.2v3.2h-3.2zM455.8 604.3h3.2v3.2h-3.2zM443.8 607.3h3.2v3.2h-3.2z"/>
<path fill="#ffe4e4" d="M449.8 520.3h3.2v3.2h-3.2zM419.8 529.3h3.2v3.2h-3.2zM473.8 541.3h3.2v3.2h-3.2zM473.8 544.3h3.2v3.2h-3.2zM473.8 547.3h3.2v3.2h-3.2zM476.8 556.3h3.2v3.2h-3.2zM476.8 559.3h3.2v3.2h-3.2zM479.8 562.3h36.2v3.2h-36.2zM479.8 565.3h6.2v3.2h-6.2zM515.8 565.3h9.2v3.2h-9.2zM518.8 580.3h6.2v3.2h-6.2zM512.8 583.3h6.2v3.2h-6.2zM503.8 586.3h6.2v3.2h-6.2zM479.8 589.3h9.2v3.2h-9.2zM497.8 589.3h3.2v3.2h-3.2zM473.8 592.3h3.2v3.2h-3.2zM422.8 595.3h3.2v3.2h-3.2zM470.8 595.3h3.2v3.2h-3.2zM425.8 598.3h3.2v3.2h-3.2zM467.8 598.3h3.2v3.2h-3.2zM428.8 601.3h3.2v3.2h-3.2zM464.8 601.3h3.2v3.2h-3.2zM431.8 604.3h3.2v3.2h-3.2zM452.8 607.3h3.2v3.2h-3.2z"/>
<path fill="#ffe7ea" d="M452.8 520.3h3.2v3.2h-3.2zM515.8 586.3h3.2v3.2h-3.2zM506.8 589.3h3.2v3.2h-3.2zM497.8 592.3h3.2v3.2h-3.2z"/>
<path fill="#ffeded" d="M455.8 520.3h3.2v3.2h-3.2zM416.8 535.3h3.2v3.2h-3.2zM476.8 535.3h3.2v3.2h-3.2zM479.8 538.3h3.2v3.2h-3.2zM482.8 541.3h3.2v3.2h-3.2zM482.8 544.3h3.2v3.2h-3.2zM482.8 547.3h3.2v3.2h-3.2zM482.8 550.3h3.2v3.2h-3.2zM485.8 553.3h9.2v3.2h-9.2zM506.8 556.3h18.2v3.2h-18.2zM416.8 583.3h3.2v3.2h-3.2zM416.8 586.3h3.2v3.2h-3.2zM515.8 589.3h9.2v3.2h-9.2zM506.8 592.3h9.2v3.2h-9.2zM491.8 595.3h9.2v3.2h-9.2zM422.8 598.3h3.2v3.2h-3.2zM476.8 598.3h6.2v3.2h-6.2zM425.8 601.3h3.2v3.2h-3.2zM470.8 601.3h3.2v3.2h-3.2zM428.8 604.3h3.2v3.2h-3.2zM431.8 607.3h3.2v3.2h-3.2zM461.8 607.3h3.2v3.2h-3.2zM437.8 610.3h3.2v3.2h-3.2zM452.8 610.3h3.2v3.2h-3.2z"/>
<path fill="#ffd8d8" d="M428.8 523.3h3.2v3.2h-3.2zM455.8 523.3h3.2v3.2h-3.2zM422.8 529.3h3.2v3.2h-3.2zM419.8 538.3h3.2v3.2h-3.2zM467.8 538.3h3.2v3.2h-3.2zM419.8 541.3h3.2v3.2h-3.2zM467.8 541.3h3.2v3.2h-3.2zM419.8 559.3h3.2v3.2h-3.2zM419.8 562.3h3.2v3.2h-3.2zM470.8 562.3h3.2v3.2h-3.2zM419.8 565.3h3.2v3.2h-3.2zM470.8 565.3h3.2v3.2h-3.2zM419.8 568.3h3.2v3.2h-3.2zM470.8 568.3h3.2v3.2h-3.2zM419.8 571.3h3.2v3.2h-3.2zM470.8 571.3h3.2v3.2h-3.2zM419.8 574.3h3.2v3.2h-3.2zM470.8 574.3h3.2v3.2h-3.2zM419.8 577.3h3.2v3.2h-3.2zM470.8 577.3h3.2v3.2h-3.2zM419.8 580.3h3.2v3.2h-3.2zM470.8 580.3h3.2v3.2h-3.2zM470.8 583.3h3.2v3.2h-3.2zM425.8 595.3h3.2v3.2h-3.2zM464.8 595.3h3.2v3.2h-3.2zM428.8 598.3h3.2v3.2h-3.2zM431.8 601.3h3.2v3.2h-3.2zM458.8 601.3h3.2v3.2h-3.2zM452.8 604.3h3.2v3.2h-3.2z"/>
<path fill="#ffcfd2" d="M431.8 523.3h3.2v3.2h-3.2zM464.8 535.3h3.2v3.2h-3.2zM467.8 556.3h3.2v3.2h-3.2zM464.8 592.3h3.2v3.2h-3.2z"/>
<path fill="#ffc6c9" d="M434.8 523.3h3.2v3.2h-3.2zM461.8 532.3h3.2v3.2h-3.2z"/>
<path fill="#fcc0c3" d="M437.8 523.3h3.2v3.2h-3.2zM464.8 559.3h3.2v3.2h-3.2zM464.8 574.3h3.2v3.2h-3.2zM464.8 577.3h3.2v3.2h-3.2z"/>
<path fill="#fcbdc0" d="M440.8 523.3h3.2v3.2h-3.2zM428.8 529.3h3.2v3.2h-3.2z"/>
<path fill="#fcc0c0" d="M443.8 523.3h3.2v3.2h-3.2zM431.8 526.3h3.2v3.2h-3.2zM461.8 535.3h3.2v3.2h-3.2zM464.8 562.3h3.2v3.2h-3.2zM464.8 565.3h3.2v3.2h-3.2zM464.8 568.3h3.2v3.2h-3.2zM464.8 571.3h3.2v3.2h-3.2zM446.8 601.3h3.2v3.2h-3.2z"/>
<path fill="#ffc3c3" d="M446.8 523.3h3.2v3.2h-3.2zM425.8 532.3h3.2v3.2h-3.2zM422.8 547.3h3.2v3.2h-3.2zM422.8 550.3h3.2v3.2h-3.2zM422.8 553.3h3.2v3.2h-3.2zM464.8 553.3h3.2v3.2h-3.2zM422.8 556.3h3.2v3.2h-3.2zM464.8 583.3h3.2v3.2h-3.2zM425.8 589.3h3.2v3.2h-3.2zM437.8 601.3h3.2v3.2h-3.2z"/>
<path fill="#ffc9c9" d="M449.8 523.3h3.2v3.2h-3.2zM422.8 538.3h3.2v3.2h-3.2zM464.8 541.3h3.2v3.2h-3.2zM464.8 544.3h3.2v3.2h-3.2zM422.8 583.3h3.2v3.2h-3.2z"/>
<path fill="#ffcfcf" d="M452.8 523.3h3.2v3.2h-3.2zM458.8 526.3h3.2v3.2h-3.2zM461.8 529.3h3.2v3.2h-3.2zM467.8 559.3h3.2v3.2h-3.2zM467.8 562.3h3.2v3.2h-3.2zM467.8 565.3h3.2v3.2h-3.2zM467.8 568.3h3.2v3.2h-3.2zM467.8 571.3h3.2v3.2h-3.2zM467.8 574.3h3.2v3.2h-3.2zM467.8 577.3h3.2v3.2h-3.2zM467.8 580.3h3.2v3.2h-3.2zM467.8 583.3h3.2v3.2h-3.2zM461.8 595.3h3.2v3.2h-3.2zM440.8 604.3h3.2v3.2h-3.2zM446.8 604.3h3.2v3.2h-3.2z"/>
<path fill="#ffdee1" d="M458.8 523.3h3.2v3.2h-3.2zM473.8 559.3h3.2v3.2h-3.2zM497.8 565.3h6.2v3.2h-6.2zM515.8 577.3h3.2v3.2h-3.2zM467.8 595.3h3.2v3.2h-3.2z"/>
<path fill="#fff6f6" d="M416.8 526.3h3.2v3.2h-3.2zM476.8 532.3h3.2v3.2h-3.2zM413.8 535.3h3.2v3.2h-3.2zM482.8 535.3h3.2v3.2h-3.2zM413.8 538.3h3.2v3.2h-3.2zM488.8 538.3h3.2v3.2h-3.2zM413.8 541.3h3.2v3.2h-3.2zM491.8 541.3h6.2v3.2h-6.2zM413.8 544.3h3.2v3.2h-3.2zM491.8 544.3h9.2v3.2h-9.2zM413.8 547.3h3.2v3.2h-3.2zM494.8 547.3h15.2v3.2h-15.2zM512.8 547.3h12.2v3.2h-12.2zM413.8 550.3h3.2v3.2h-3.2zM506.8 550.3h12.2v3.2h-12.2zM413.8 553.3h3.2v3.2h-3.2zM413.8 556.3h3.2v3.2h-3.2zM413.8 559.3h3.2v3.2h-3.2zM413.8 562.3h3.2v3.2h-3.2zM413.8 565.3h3.2v3.2h-3.2zM413.8 568.3h3.2v3.2h-3.2zM413.8 571.3h3.2v3.2h-3.2zM413.8 574.3h3.2v3.2h-3.2zM413.8 577.3h3.2v3.2h-3.2zM413.8 580.3h3.2v3.2h-3.2zM413.8 583.3h3.2v3.2h-3.2zM413.8 586.3h3.2v3.2h-3.2zM413.8 589.3h3.2v3.2h-3.2zM419.8 598.3h3.2v3.2h-3.2zM506.8 598.3h18.2v3.2h-18.2zM491.8 601.3h12.2v3.2h-12.2zM518.8 601.3h6.2v3.2h-6.2zM479.8 604.3h9.2v3.2h-9.2zM470.8 607.3h6.2v3.2h-6.2zM464.8 610.3h3.2v3.2h-3.2zM431.8 613.3h6.2v3.2h-6.2zM458.8 613.3h6.2v3.2h-6.2zM431.8 616.3h6.2v3.2h-6.2zM458.8 616.3h6.2v3.2h-6.2zM431.8 619.3h6.2v3.2h-6.2zM458.8 619.3h6.2v3.2h-6.2z"/>
<path fill="#ffd5d5" d="M425.8 526.3h3.2v3.2h-3.2zM464.8 532.3h3.2v3.2h-3.2zM467.8 544.3h3.2v3.2h-3.2zM419.8 547.3h3.2v3.2h-3.2zM467.8 547.3h3.2v3.2h-3.2zM419.8 550.3h3.2v3.2h-3.2zM419.8 553.3h3.2v3.2h-3.2zM467.8 589.3h3.2v3.2h-3.2z"/>
<path fill="#ffc9cc" d="M428.8 526.3h3.2v3.2h-3.2zM464.8 589.3h3.2v3.2h-3.2zM452.8 601.3h3.2v3.2h-3.2z"/>
<path fill="#fcb4b4" d="M434.8 526.3h3.2v3.2h-3.2zM449.8 526.3h3.2v3.2h-3.2zM425.8 541.3h3.2v3.2h-3.2zM425.8 544.3h3.2v3.2h-3.2zM461.8 550.3h3.2v3.2h-3.2zM425.8 577.3h3.2v3.2h-3.2zM425.8 580.3h3.2v3.2h-3.2zM461.8 583.3h3.2v3.2h-3.2z"/>
<path fill="#fcabae" d="M437.8 526.3h3.2v3.2h-3.2zM446.8 526.3h3.2v3.2h-3.2zM458.8 589.3h3.2v3.2h-3.2zM434.8 595.3h3.2v3.2h-3.2zM440.8 598.3h3.2v3.2h-3.2z"/>
<path fill="#fca8a8" d="M440.8 526.3h6.2v3.2h-6.2zM431.8 532.3h3.2v3.2h-3.2zM455.8 532.3h3.2v3.2h-3.2zM428.8 538.3h3.2v3.2h-3.2zM458.8 538.3h3.2v3.2h-3.2z"/>
<path fill="#fcbdbd" d="M452.8 526.3h3.2v3.2h-3.2zM425.8 535.3h3.2v3.2h-3.2zM461.8 538.3h3.2v3.2h-3.2zM425.8 586.3h3.2v3.2h-3.2zM461.8 589.3h3.2v3.2h-3.2zM428.8 592.3h3.2v3.2h-3.2zM431.8 595.3h3.2v3.2h-3.2zM434.8 598.3h3.2v3.2h-3.2zM452.8 598.3h3.2v3.2h-3.2zM440.8 601.3h6.2v3.2h-6.2z"/>
<path fill="#ffc6c6" d="M455.8 526.3h3.2v3.2h-3.2zM422.8 541.3h3.2v3.2h-3.2zM464.8 547.3h3.2v3.2h-3.2zM464.8 550.3h3.2v3.2h-3.2zM422.8 577.3h3.2v3.2h-3.2zM422.8 580.3h3.2v3.2h-3.2zM464.8 586.3h3.2v3.2h-3.2zM449.8 601.3h3.2v3.2h-3.2z"/>
<path fill="#ffe4e7" d="M464.8 526.3h3.2v3.2h-3.2zM515.8 562.3h3.2v3.2h-3.2zM500.8 589.3h3.2v3.2h-3.2z"/>
<path fill="#ffcccc" d="M425.8 529.3h3.2v3.2h-3.2zM422.8 535.3h3.2v3.2h-3.2zM464.8 538.3h3.2v3.2h-3.2zM425.8 592.3h3.2v3.2h-3.2zM428.8 595.3h3.2v3.2h-3.2zM431.8 598.3h3.2v3.2h-3.2zM434.8 601.3h3.2v3.2h-3.2zM443.8 604.3h3.2v3.2h-3.2z"/>
<path fill="#fcb1b1" d="M431.8 529.3h3.2v3.2h-3.2zM425.8 547.3h3.2v3.2h-3.2zM425.8 550.3h3.2v3.2h-3.2zM425.8 553.3h3.2v3.2h-3.2zM425.8 556.3h3.2v3.2h-3.2zM461.8 556.3h3.2v3.2h-3.2zM461.8 559.3h3.2v3.2h-3.2zM425.8 568.3h3.2v3.2h-3.2zM425.8 571.3h3.2v3.2h-3.2zM461.8 577.3h3.2v3.2h-3.2zM461.8 580.3h3.2v3.2h-3.2z"/>
<path fill="#fca5a5" d="M434.8 529.3h3.2v3.2h-3.2zM428.8 541.3h3.2v3.2h-3.2zM458.8 541.3h3.2v3.2h-3.2zM428.8 583.3h3.2v3.2h-3.2zM458.8 586.3h3.2v3.2h-3.2zM449.8 595.3h3.2v3.2h-3.2z"/>
<path fill="#fc9c9c" d="M437.8 529.3h3.2v3.2h-3.2zM452.8 532.3h3.2v3.2h-3.2zM458.8 559.3h3.2v3.2h-3.2zM458.8 562.3h3.2v3.2h-3.2zM458.8 574.3h3.2v3.2h-3.2zM458.8 577.3h3.2v3.2h-3.2zM434.8 592.3h3.2v3.2h-3.2z"/>
<path fill="#fc9696" d="M440.8 529.3h6.2v3.2h-6.2zM455.8 586.3h3.2v3.2h-3.2z"/>
<path fill="#fc999c" d="M446.8 529.3h3.2v3.2h-3.2zM458.8 565.3h3.2v3.2h-3.2zM458.8 568.3h3.2v3.2h-3.2zM458.8 571.3h3.2v3.2h-3.2zM440.8 595.3h3.2v3.2h-3.2z"/>
<path fill="#fca2a2" d="M449.8 529.3h3.2v3.2h-3.2zM428.8 544.3h3.2v3.2h-3.2zM458.8 547.3h3.2v3.2h-3.2zM428.8 580.3h3.2v3.2h-3.2z"/>
<path fill="#fcabab" d="M452.8 529.3h3.2v3.2h-3.2zM428.8 586.3h3.2v3.2h-3.2zM443.8 598.3h3.2v3.2h-3.2z"/>
<path fill="#fcb4b7" d="M455.8 529.3h3.2v3.2h-3.2zM428.8 532.3h3.2v3.2h-3.2zM461.8 547.3h3.2v3.2h-3.2zM449.8 598.3h3.2v3.2h-3.2z"/>
<path fill="#fcc3c3" d="M458.8 529.3h3.2v3.2h-3.2zM464.8 556.3h3.2v3.2h-3.2zM464.8 580.3h3.2v3.2h-3.2zM458.8 595.3h3.2v3.2h-3.2z"/>
<path fill="#ffdbde" d="M464.8 529.3h3.2v3.2h-3.2zM470.8 550.3h3.2v3.2h-3.2zM497.8 568.3h6.2v3.2h-6.2zM473.8 571.3h3.2v3.2h-3.2zM488.8 571.3h3.2v3.2h-3.2zM473.8 583.3h3.2v3.2h-3.2zM470.8 589.3h3.2v3.2h-3.2z"/>
<path fill="#ffd2d2" d="M422.8 532.3h3.2v3.2h-3.2zM467.8 550.3h3.2v3.2h-3.2zM467.8 553.3h3.2v3.2h-3.2zM467.8 586.3h3.2v3.2h-3.2zM422.8 589.3h3.2v3.2h-3.2zM455.8 601.3h3.2v3.2h-3.2zM437.8 604.3h3.2v3.2h-3.2zM449.8 604.3h3.2v3.2h-3.2z"/>
<path fill="#fc9999" d="M434.8 532.3h3.2v3.2h-3.2zM431.8 538.3h3.2v3.2h-3.2zM455.8 538.3h3.2v3.2h-3.2zM443.8 595.3h3.2v3.2h-3.2z"/>
<path fill="#fc8d8d" d="M437.8 532.3h3.2v3.2h-3.2zM431.8 553.3h3.2v3.2h-3.2zM455.8 553.3h3.2v3.2h-3.2zM431.8 556.3h3.2v3.2h-3.2zM431.8 559.3h3.2v3.2h-3.2zM431.8 562.3h3.2v3.2h-3.2zM431.8 565.3h3.2v3.2h-3.2zM431.8 568.3h3.2v3.2h-3.2zM431.8 571.3h3.2v3.2h-3.2zM431.8 574.3h3.2v3.2h-3.2zM455.8 580.3h3.2v3.2h-3.2zM434.8 589.3h3.2v3.2h-3.2zM437.8 592.3h3.2v3.2h-3.2z"/>
<path fill="#fc878a" d="M440.8 532.3h3.2v3.2h-3.2zM434.8 538.3h3.2v3.2h-3.2zM455.8 565.3h3.2v3.2h-3.2zM455.8 568.3h3.2v3.2h-3.2zM455.8 571.3h3.2v3.2h-3.2z"/>
<path fill="#fc8787" d="M443.8 532.3h3.2v3.2h-3.2zM449.8 535.3h3.2v3.2h-3.2zM452.8 541.3h3.2v3.2h-3.2zM452.8 586.3h3.2v3.2h-3.2zM440.8 592.3h3.2v3.2h-3.2z"/>
<path fill="#fc8a8d" d="M446.8 532.3h3.2v3.2h-3.2zM455.8 556.3h3.2v3.2h-3.2z"/>
<path fill="#fc9393" d="M449.8 532.3h3.2v3.2h-3.2zM452.8 535.3h3.2v3.2h-3.2zM455.8 544.3h3.2v3.2h-3.2zM449.8 592.3h3.2v3.2h-3.2z"/>
<path fill="#fcb7b7" d="M458.8 532.3h3.2v3.2h-3.2zM461.8 544.3h3.2v3.2h-3.2zM425.8 583.3h3.2v3.2h-3.2zM461.8 586.3h3.2v3.2h-3.2zM458.8 592.3h3.2v3.2h-3.2zM455.8 595.3h3.2v3.2h-3.2z"/>
<path fill="#fcaeae" d="M428.8 535.3h3.2v3.2h-3.2zM458.8 535.3h3.2v3.2h-3.2zM461.8 565.3h3.2v3.2h-3.2zM431.8 592.3h3.2v3.2h-3.2zM452.8 595.3h3.2v3.2h-3.2zM446.8 598.3h3.2v3.2h-3.2z"/>
<path fill="#fc9f9f" d="M431.8 535.3h3.2v3.2h-3.2zM455.8 535.3h3.2v3.2h-3.2zM428.8 550.3h3.2v3.2h-3.2zM428.8 553.3h3.2v3.2h-3.2zM458.8 553.3h3.2v3.2h-3.2zM428.8 556.3h3.2v3.2h-3.2zM428.8 559.3h3.2v3.2h-3.2zM428.8 562.3h3.2v3.2h-3.2zM428.8 565.3h3.2v3.2h-3.2zM428.8 568.3h3.2v3.2h-3.2zM428.8 571.3h3.2v3.2h-3.2zM428.8 574.3h3.2v3.2h-3.2z"/>
<path fill="#fc9090" d="M434.8 535.3h3.2v3.2h-3.2zM431.8 547.3h3.2v3.2h-3.2zM455.8 547.3h3.2v3.2h-3.2zM455.8 583.3h3.2v3.2h-3.2zM452.8 589.3h3.2v3.2h-3.2z"/>
<path fill="#fc8484" d="M437.8 535.3h3.2v3.2h-3.2zM434.8 541.3h3.2v3.2h-3.2zM452.8 544.3h3.2v3.2h-3.2zM434.8 586.3h3.2v3.2h-3.2z"/>
<path fill="#fc7b7e" d="M440.8 535.3h3.2v3.2h-3.2zM434.8 553.3h3.2v3.2h-3.2zM452.8 577.3h3.2v3.2h-3.2z"/>
<path fill="#fc7b7b" d="M443.8 535.3h3.2v3.2h-3.2zM437.8 538.3h3.2v3.2h-3.2zM449.8 541.3h3.2v3.2h-3.2zM434.8 556.3h3.2v3.2h-3.2zM434.8 559.3h3.2v3.2h-3.2zM452.8 559.3h3.2v3.2h-3.2zM434.8 562.3h3.2v3.2h-3.2zM452.8 562.3h3.2v3.2h-3.2zM434.8 565.3h3.2v3.2h-3.2zM434.8 568.3h3.2v3.2h-3.2zM434.8 571.3h3.2v3.2h-3.2zM452.8 571.3h3.2v3.2h-3.2zM434.8 574.3h3.2v3.2h-3.2zM452.8 574.3h3.2v3.2h-3.2zM434.8 577.3h3.2v3.2h-3.2zM434.8 580.3h3.2v3.2h-3.2zM449.8 586.3h3.2v3.2h-3.2zM446.8 589.3h3.2v3.2h-3.2z"/>
<path fill="#fc7e81" d="M446.8 535.3h3.2v3.2h-3.2zM449.8 538.3h3.2v3.2h-3.2zM434.8 547.3h3.2v3.2h-3.2zM452.8 553.3h3.2v3.2h-3.2z"/>
<path fill="#fcb7ba" d="M425.8 538.3h3.2v3.2h-3.2zM461.8 541.3h3.2v3.2h-3.2z"/>
<path fill="#fc7575" d="M440.8 538.3h3.2v3.2h-3.2zM437.8 544.3h3.2v3.2h-3.2zM449.8 550.3h3.2v3.2h-3.2zM449.8 583.3h3.2v3.2h-3.2zM443.8 589.3h3.2v3.2h-3.2z"/>
<path fill="#fc7275" d="M443.8 538.3h3.2v3.2h-3.2zM446.8 541.3h3.2v3.2h-3.2zM449.8 553.3h3.2v3.2h-3.2zM437.8 586.3h3.2v3.2h-3.2z"/>
<path fill="#fc7878" d="M446.8 538.3h3.2v3.2h-3.2zM449.8 547.3h3.2v3.2h-3.2z"/>
<path fill="#fc8a8a" d="M452.8 538.3h3.2v3.2h-3.2zM455.8 559.3h3.2v3.2h-3.2zM455.8 562.3h3.2v3.2h-3.2zM455.8 574.3h3.2v3.2h-3.2zM455.8 577.3h3.2v3.2h-3.2zM446.8 592.3h3.2v3.2h-3.2z"/>
<path fill="#fff9fc" d="M497.8 538.3h3.2v3.2h-3.2z"/>
<path fill="#fc9396" d="M431.8 541.3h3.2v3.2h-3.2zM455.8 541.3h3.2v3.2h-3.2z"/>
<path fill="#fc7578" d="M437.8 541.3h3.2v3.2h-3.2zM440.8 589.3h3.2v3.2h-3.2z"/>
<path fill="#fc6f72" d="M440.8 541.3h3.2v3.2h-3.2zM446.8 544.3h3.2v3.2h-3.2zM437.8 550.3h3.2v3.2h-3.2zM449.8 559.3h3.2v3.2h-3.2zM449.8 577.3h3.2v3.2h-3.2zM446.8 586.3h3.2v3.2h-3.2z"/>
<path fill="#fc6f6f" d="M443.8 541.3h3.2v3.2h-3.2zM446.8 547.3h3.2v3.2h-3.2zM437.8 553.3h3.2v3.2h-3.2zM449.8 562.3h3.2v3.2h-3.2zM449.8 565.3h3.2v3.2h-3.2zM449.8 568.3h3.2v3.2h-3.2zM449.8 571.3h3.2v3.2h-3.2zM449.8 574.3h3.2v3.2h-3.2z"/>
<path fill="#ffd5d8" d="M419.8 544.3h3.2v3.2h-3.2zM419.8 556.3h3.2v3.2h-3.2zM461.8 598.3h3.2v3.2h-3.2z"/>
<path fill="#ffc3c6" d="M422.8 544.3h3.2v3.2h-3.2zM422.8 559.3h3.2v3.2h-3.2zM422.8 562.3h3.2v3.2h-3.2zM422.8 565.3h3.2v3.2h-3.2zM422.8 568.3h3.2v3.2h-3.2zM422.8 571.3h3.2v3.2h-3.2zM422.8 574.3h3.2v3.2h-3.2zM461.8 592.3h3.2v3.2h-3.2zM455.8 598.3h3.2v3.2h-3.2z"/>
<path fill="#fc9093" d="M431.8 544.3h3.2v3.2h-3.2zM431.8 583.3h3.2v3.2h-3.2z"/>
<path fill="#fc8181" d="M434.8 544.3h3.2v3.2h-3.2zM452.8 550.3h3.2v3.2h-3.2zM452.8 583.3h3.2v3.2h-3.2z"/>
<path fill="#fc6c6f" d="M440.8 544.3h3.2v3.2h-3.2zM437.8 556.3h3.2v3.2h-3.2zM437.8 583.3h3.2v3.2h-3.2z"/>
<path fill="#fc6c6c" d="M443.8 544.3h3.2v3.2h-3.2zM440.8 547.3h3.2v3.2h-3.2zM446.8 550.3h3.2v3.2h-3.2zM437.8 559.3h3.2v3.2h-3.2zM437.8 562.3h3.2v3.2h-3.2zM437.8 565.3h3.2v3.2h-3.2zM437.8 568.3h3.2v3.2h-3.2zM437.8 571.3h3.2v3.2h-3.2zM437.8 574.3h3.2v3.2h-3.2zM437.8 577.3h3.2v3.2h-3.2zM437.8 580.3h3.2v3.2h-3.2zM440.8 586.3h3.2v3.2h-3.2z"/>
<path fill="#fc787b" d="M449.8 544.3h3.2v3.2h-3.2zM452.8 565.3h3.2v3.2h-3.2zM452.8 568.3h3.2v3.2h-3.2z"/>
<path fill="#fca2a5" d="M458.8 544.3h3.2v3.2h-3.2z"/>
<path fill="#fc9fa2" d="M428.8 547.3h3.2v3.2h-3.2zM458.8 550.3h3.2v3.2h-3.2zM428.8 577.3h3.2v3.2h-3.2zM458.8 583.3h3.2v3.2h-3.2zM431.8 589.3h3.2v3.2h-3.2zM437.8 595.3h3.2v3.2h-3.2z"/>
<path fill="#fc7272" d="M437.8 547.3h3.2v3.2h-3.2zM449.8 556.3h3.2v3.2h-3.2zM449.8 580.3h3.2v3.2h-3.2z"/>
<path fill="#fc696c" d="M443.8 547.3h3.2v3.2h-3.2zM446.8 553.3h3.2v3.2h-3.2zM446.8 583.3h3.2v3.2h-3.2zM443.8 586.3h3.2v3.2h-3.2z"/>
<path fill="#fc8184" d="M452.8 547.3h3.2v3.2h-3.2z"/>
<path fill="#fff6f9" d="M509.8 547.3h3.2v3.2h-3.2z"/>
<path fill="#fc8d90" d="M431.8 550.3h3.2v3.2h-3.2zM455.8 550.3h3.2v3.2h-3.2zM431.8 577.3h3.2v3.2h-3.2zM431.8 580.3h3.2v3.2h-3.2z"/>
<path fill="#fc7e7e" d="M434.8 550.3h3.2v3.2h-3.2zM452.8 556.3h3.2v3.2h-3.2zM452.8 580.3h3.2v3.2h-3.2zM434.8 583.3h3.2v3.2h-3.2zM437.8 589.3h3.2v3.2h-3.2z"/>
<path fill="#fc6969" d="M440.8 550.3h3.2v3.2h-3.2zM446.8 556.3h3.2v3.2h-3.2z"/>
<path fill="#fc6669" d="M443.8 550.3h3.2v3.2h-3.2zM440.8 553.3h3.2v3.2h-3.2zM446.8 559.3h3.2v3.2h-3.2zM446.8 580.3h3.2v3.2h-3.2z"/>
<path fill="#fff3f6" d="M518.8 550.3h6.2v3.2h-6.2z"/>
<path fill="#fc6666" d="M443.8 553.3h3.2v3.2h-3.2zM440.8 556.3h3.2v3.2h-3.2zM446.8 562.3h3.2v3.2h-3.2zM446.8 565.3h3.2v3.2h-3.2zM446.8 568.3h3.2v3.2h-3.2zM446.8 571.3h3.2v3.2h-3.2zM446.8 574.3h3.2v3.2h-3.2zM446.8 577.3h3.2v3.2h-3.2zM440.8 583.3h3.2v3.2h-3.2z"/>
<path fill="#fcb1b4" d="M461.8 553.3h3.2v3.2h-3.2zM425.8 559.3h3.2v3.2h-3.2zM425.8 562.3h3.2v3.2h-3.2zM425.8 565.3h3.2v3.2h-3.2zM425.8 574.3h3.2v3.2h-3.2zM428.8 589.3h3.2v3.2h-3.2zM437.8 598.3h3.2v3.2h-3.2z"/>
<path fill="#fc6366" d="M443.8 556.3h3.2v3.2h-3.2zM440.8 559.3h3.2v3.2h-3.2zM440.8 574.3h3.2v3.2h-3.2zM440.8 577.3h3.2v3.2h-3.2zM440.8 580.3h3.2v3.2h-3.2zM443.8 583.3h3.2v3.2h-3.2z"/>
<path fill="#fc9c9f" d="M458.8 556.3h3.2v3.2h-3.2zM458.8 580.3h3.2v3.2h-3.2zM455.8 589.3h3.2v3.2h-3.2zM452.8 592.3h3.2v3.2h-3.2zM446.8 595.3h3.2v3.2h-3.2z"/>
<path fill="#ffeaed" d="M503.8 556.3h3.2v3.2h-3.2zM503.8 592.3h3.2v3.2h-3.2zM488.8 595.3h3.2v3.2h-3.2zM473.8 598.3h3.2v3.2h-3.2zM449.8 610.3h3.2v3.2h-3.2z"/>
<path fill="#fc6363" d="M443.8 559.3h3.2v3.2h-3.2zM440.8 562.3h3.2v3.2h-3.2zM440.8 565.3h3.2v3.2h-3.2zM440.8 568.3h3.2v3.2h-3.2zM440.8 571.3h3.2v3.2h-3.2z"/>
<path fill="#fc6063" d="M443.8 562.3h3.2v3.2h-3.2zM443.8 565.3h3.2v3.2h-3.2zM443.8 568.3h3.2v3.2h-3.2zM443.8 571.3h3.2v3.2h-3.2zM443.8 574.3h3.2v3.2h-3.2zM443.8 577.3h3.2v3.2h-3.2zM443.8 580.3h3.2v3.2h-3.2z"/>
<path fill="#fcaeb1" d="M461.8 562.3h3.2v3.2h-3.2zM461.8 568.3h3.2v3.2h-3.2zM461.8 571.3h3.2v3.2h-3.2zM461.8 574.3h3.2v3.2h-3.2z"/>
<path fill="#ffd8db" d="M494.8 574.3h9.2v3.2h-9.2zM494.8 577.3h6.2v3.2h-6.2z"/>
<path fill="#ffe1e4" d="M509.8 583.3h3.2v3.2h-3.2zM476.8 589.3h3.2v3.2h-3.2zM494.8 589.3h3.2v3.2h-3.2z"/>
<path fill="#ffcccf" d="M422.8 586.3h3.2v3.2h-3.2zM458.8 598.3h3.2v3.2h-3.2z"/>
<path fill="#fc9699" d="M431.8 586.3h3.2v3.2h-3.2z"/>
<path fill="#fc8487" d="M449.8 589.3h3.2v3.2h-3.2zM443.8 592.3h3.2v3.2h-3.2z"/>
<path fill="#fca8ab" d="M455.8 592.3h3.2v3.2h-3.2z"/>
<path fill="#fff0f3" d="M509.8 595.3h3.2v3.2h-3.2zM494.8 598.3h3.2v3.2h-3.2zM446.8 613.3h3.2v3.2h-3.2zM446.8 616.3h3.2v3.2h-3.2zM446.8 619.3h3.2v3.2h-3.2z"/>
</g>
<path d="M442.7 499.6V613.6M416.8 584.1H518.6M466.8 499.6V613.6M416.8 557H518.6M490.9 499.6V613.6M416.8 529.9H518.6" fill="none" stroke="#fff" stroke-opacity="0.14" stroke-width="0.6"/>
<rect x="442.7" y="529.9" width="48.2" height="54.2" fill="#a8a8a8" fill-opacity="0.15"/>
<path d="" fill="none" stroke="#fff" stroke-opacity="0.32" stroke-width="0.6"/>
</g>
<rect x="416.8" y="499.3" width="102" height="114.4" fill="none" stroke="#68686c" stroke-width="1.1"/>
<text x="418.6" y="622" font-size="8" text-anchor="middle" font-weight="bold" stroke="#000" stroke-width="0.18">0</text>
<text x="442.7" y="622" font-size="8" text-anchor="middle" font-weight="bold" stroke="#000" stroke-width="0.18">10</text>
<text x="466.8" y="622" font-size="8" text-anchor="middle" font-weight="bold" stroke="#000" stroke-width="0.18">20</text>
<text x="490.9" y="622" font-size="8" text-anchor="middle" font-weight="bold" stroke="#000" stroke-width="0.18">50</text>
<text x="515" y="622" font-size="8" text-anchor="middle" font-weight="bold" stroke="#000" stroke-width="0.18">70</text>
<text x="414.4" y="505.7" font-size="8" text-anchor="end" font-weight="bold" stroke="#000" stroke-width="0.18">70</text>
<text x="414.4" y="532.8" font-size="8" text-anchor="end" font-weight="bold" stroke="#000" stroke-width="0.18">50</text>
<text x="414.4" y="559.9" font-size="8" text-anchor="end" font-weight="bold" stroke="#000" stroke-width="0.18">20</text>
<text x="414.4" y="587" font-size="8" text-anchor="end" font-weight="bold" stroke="#000" stroke-width="0.18">10</text>
<text x="414.4" y="614.1" font-size="8" text-anchor="end" font-weight="bold" stroke="#000" stroke-width="0.18">0</text>
<text x="466.5" y="631.4" font-size="8" text-anchor="middle" font-weight="bold" stroke="#000" stroke-width="0.18">AXLi (µmol/L)</text>
<text x="402" y="554.3" font-size="8" text-anchor="middle" font-weight="bold" stroke="#000" stroke-width="0.18" transform="rotate(-90 402 554.3)">AKTi (µmol/L)</text>
</g>
</svg>
</body>
</html>
